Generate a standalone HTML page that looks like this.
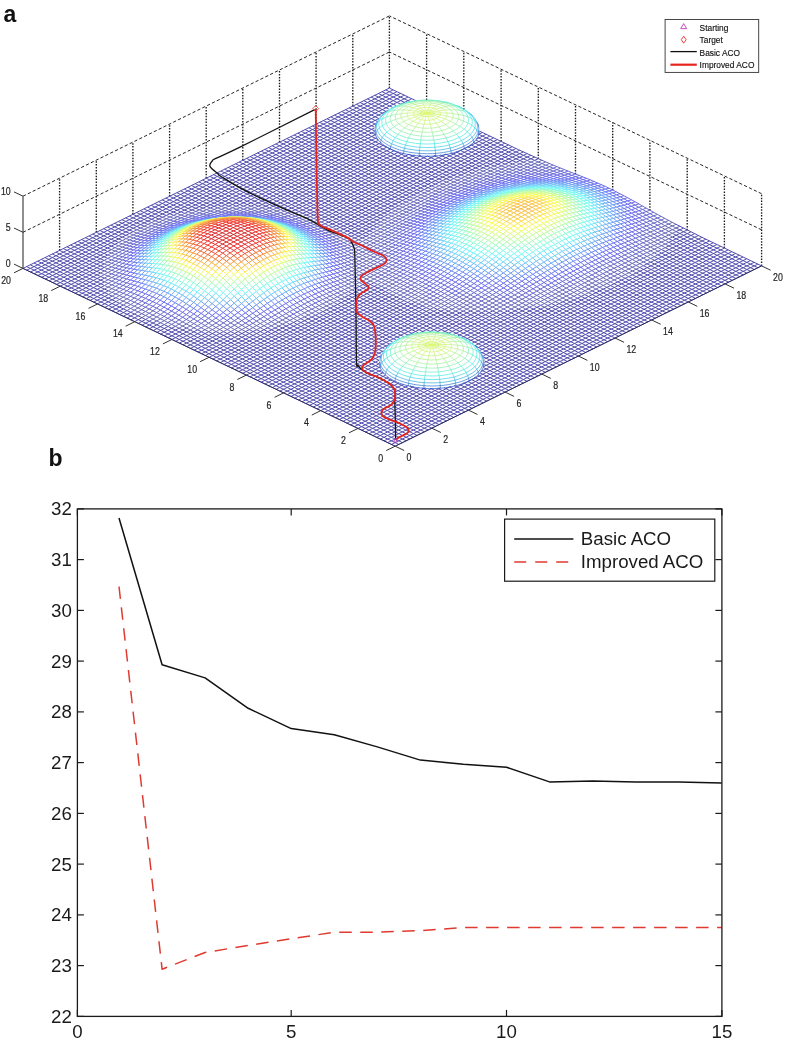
<!DOCTYPE html>
<html><head><meta charset="utf-8"><title>ACO path planning figure</title><style>
html,body{margin:0;padding:0;background:#fff;}
svg{display:block;}
text{font-family:"Liberation Sans",Arial,Helvetica,sans-serif;fill:#1a1a1a;}
.t2{font-size:18.7px;}
.t3{font-size:11px;fill:#222;stroke:#222;stroke-width:0.2px;}
.t4{font-size:9.3px;fill:#111;stroke:#111;stroke-width:0.15px;}
.lab{font-size:23px;font-weight:bold;fill:#111;}
</style></head>
<body><svg width="785" height="1042" viewBox="0 0 785 1042">
<rect width="785" height="1042" fill="#fff"/>
<line x1="59.6" y1="250.4" x2="59.6" y2="178.2" stroke="#1a1a1a" stroke-width="1.35" stroke-dasharray="1.5 1.4"/><line x1="96.3" y1="232.3" x2="96.3" y2="160.1" stroke="#1a1a1a" stroke-width="1.35" stroke-dasharray="1.5 1.4"/><line x1="132.9" y1="214.3" x2="132.9" y2="142.1" stroke="#1a1a1a" stroke-width="1.35" stroke-dasharray="1.5 1.4"/><line x1="169.6" y1="196.3" x2="169.6" y2="124.1" stroke="#1a1a1a" stroke-width="1.35" stroke-dasharray="1.5 1.4"/><line x1="206.2" y1="178.2" x2="206.2" y2="106.0" stroke="#1a1a1a" stroke-width="1.35" stroke-dasharray="1.5 1.4"/><line x1="242.8" y1="160.2" x2="242.8" y2="88.0" stroke="#1a1a1a" stroke-width="1.35" stroke-dasharray="1.5 1.4"/><line x1="279.5" y1="142.2" x2="279.5" y2="70.0" stroke="#1a1a1a" stroke-width="1.35" stroke-dasharray="1.5 1.4"/><line x1="316.1" y1="124.2" x2="316.1" y2="52.0" stroke="#1a1a1a" stroke-width="1.35" stroke-dasharray="1.5 1.4"/><line x1="352.8" y1="106.1" x2="352.8" y2="33.9" stroke="#1a1a1a" stroke-width="1.35" stroke-dasharray="1.5 1.4"/><line x1="389.4" y1="88.1" x2="389.4" y2="15.9" stroke="#1a1a1a" stroke-width="1.35" stroke-dasharray="1.5 1.4"/><line x1="761.6" y1="265.9" x2="761.6" y2="193.7" stroke="#1a1a1a" stroke-width="1.35" stroke-dasharray="1.5 1.4"/><line x1="724.4" y1="248.1" x2="724.4" y2="175.9" stroke="#1a1a1a" stroke-width="1.35" stroke-dasharray="1.5 1.4"/><line x1="687.2" y1="230.3" x2="687.2" y2="158.1" stroke="#1a1a1a" stroke-width="1.35" stroke-dasharray="1.5 1.4"/><line x1="649.9" y1="210.6" x2="649.9" y2="140.4" stroke="#1a1a1a" stroke-width="1.35" stroke-dasharray="1.5 1.4"/><line x1="612.7" y1="190.3" x2="612.7" y2="122.6" stroke="#1a1a1a" stroke-width="1.35" stroke-dasharray="1.5 1.4"/><line x1="575.5" y1="174.3" x2="575.5" y2="104.8" stroke="#1a1a1a" stroke-width="1.35" stroke-dasharray="1.5 1.4"/><line x1="538.3" y1="159.0" x2="538.3" y2="87.0" stroke="#1a1a1a" stroke-width="1.35" stroke-dasharray="1.5 1.4"/><line x1="501.1" y1="141.4" x2="501.1" y2="69.2" stroke="#1a1a1a" stroke-width="1.35" stroke-dasharray="1.5 1.4"/><line x1="463.8" y1="109.4" x2="463.8" y2="51.5" stroke="#1a1a1a" stroke-width="1.35" stroke-dasharray="1.5 1.4"/><line x1="426.6" y1="99.9" x2="426.6" y2="33.7" stroke="#1a1a1a" stroke-width="1.35" stroke-dasharray="1.5 1.4"/><line x1="23.0" y1="232.3" x2="389.4" y2="52.0" stroke="#1a1a1a" stroke-width="0.95" stroke-dasharray="3.2 2.2"/><line x1="761.6" y1="229.8" x2="389.4" y2="52.0" stroke="#1a1a1a" stroke-width="0.95" stroke-dasharray="3.2 2.2"/><line x1="23.0" y1="196.2" x2="389.4" y2="15.9" stroke="#1a1a1a" stroke-width="0.95" stroke-dasharray="3.2 2.2"/><line x1="761.6" y1="193.7" x2="389.4" y2="15.9" stroke="#1a1a1a" stroke-width="0.95" stroke-dasharray="3.2 2.2"/><line x1="23.0" y1="268.4" x2="23.0" y2="196.2" stroke="#333" stroke-width="1.1"/><line x1="23.0" y1="268.4" x2="14.0" y2="264.1" stroke="#333" stroke-width="1.0"/><text transform="translate(10.7,267.0) scale(0.8,1)" class="t3" text-anchor="end">0</text><line x1="23.0" y1="232.3" x2="14.0" y2="228.0" stroke="#333" stroke-width="1.0"/><text transform="translate(10.7,230.9) scale(0.8,1)" class="t3" text-anchor="end">5</text><line x1="23.0" y1="196.2" x2="14.0" y2="191.9" stroke="#333" stroke-width="1.0"/><text transform="translate(10.7,194.8) scale(0.8,1)" class="t3" text-anchor="end">10</text><g fill="none" stroke-linejoin="round"><path d="M395.2 446.2l-203.8-97.4 -61.4-29.5 -107-50.9M398.9 444.4l-202.9-96.9 -62.3-30.1 -52.1-24.6 -54.9-26.2M402.5 442.6l-201.9-96.5 -63.3-30.7 -52.1-24.4 -54.9-26.2M406.2 440.8l-198.2-94.7 -43.7-21.5M119.6 303.3l-33.5-15.5 -52.1-24.8M409.9 439l-193.6-92.5 -19.5-9.5 -17.7-8.8M112.1 296.1l-27-12.3 -47.4-22.6M413.5 437.2l-188.9-90.3 -18.6-9 -15.8-7.9M108.3 290.8l-23.2-10.6 -43.8-20.8M417.2 435.4l-187-89.4 -18.7-9.1 -13.9-7.1M104.5 285.5l-20.4-9.3 -39.1-18.6M420.8 433.6l-182.3-87.2 -16.8-8.1 -13-6.6M104.5 281.8l-19.6-8.8 -36.3-17.2M424.5 431.8l-179.6-85.8 -16.7-8.2 -12.1-6.2M104.4 278.2l-17.7-7.9 -34.4-16.3M428.2 430l-176.8-84.5 -15.8-7.7 -12.1-6.2M100.6 273l-15.8-7.1 -28.8-13.7M431.8 428.2l-174-83.2 -15.8-7.7 -11.1-5.7M104.3 271l-15.8-7 -28.9-13.6M435.5 426.4l-172.1-82.3 -14.9-7.2 -10.3-5.3M104.2 267.4l-14.8-6.5 -26.1-12.3M439.2 424.6l-169.4-81 -13.9-6.7 -10.3-5.3M104.2 263.9l-13-5.7 -24.2-11.4M442.8 422.8l-168.4-80.5 -14.9-7.3 -10.2-5.4M104.1 260.4l-12.1-5.3 -21.4-10.1M446.5 421l-165.6-79.2 -14-6.8 -10.2-5.3M107.8 258.4l-12.1-5.2 -21.4-10M450.2 419.2l-163.8-78.3 -13-6.3 -9.3-4.8M107.7 255l-11.1-4.9 -18.6-8.7M453.8 417.4l-162.8-77.9 -14-6.8 -9.3-4.9M107.7 251.5l-10.3-4.5 -15.8-7.5M457.5 415.5l-160.1-76.4 -13-6.4 -9.3-4.7M111.3 249.6l-10.2-4.4 -15.8-7.5M461.2 413.7l-160.1-76.4 -13-6.4 -9.3-4.8M115 247.7l-10.2-4.4 -15.8-7.4M464.8 411.9l-54.9-26.2M383.9 373.3l-82.9-39.6 -11.1-5.6 -7.5-4M114.9 244.3l-9.3-4.1 -13-6.1M468.5 410.1l-46.5-22.2M380.1 367.9l-72.6-34.7 -17.7-8.9M118.6 242.4l-9.3-4 -13-6.1M472.1 408.3l-41.8-20M379.1 363.9l-67.9-32.5 -10.3-5 -7.4-4M122.3 240.5l-9.3-3.9 -13.1-6.1M475.8 406.5l-38.1-18.2M379 360.3l-65.1-31.2 -9.3-4.6 -7.4-3.9M122.2 237.1l-7.4-3.2 -11.2-5.2M479.5 404.7l-35.4-16.9M379.9 357.2l-62.3-29.9 -9.3-4.6 -7.5-4M125.9 235.3l-7.5-3.2 -11.1-5.2M483.1 402.9l-33.5-16M380.8 354l-59.6-28.5 -9.3-4.6 -7.4-4.1M129.5 233.4l-7.4-3.1 -11.2-5.2M486.8 401.1l-32.6-15.5M382.6 351.3l-54.9-26.2 -15.8-8M133.2 231.6l-7.4-3.1 -11.2-5.2M490.5 399.3l-30.7-14.6M384.4 348.6l-53.1-25.3 -15.8-8M136.9 229.8l-7.5-3.2 -11.1-5.1M494.1 397.5l-30.7-14.6M387.1 346.4l-52.1-24.9 -15.8-8.1M140.5 228l-7.4-3.2 -11.2-5.1M497.8 395.7l-29.8-14.2M389.9 344.2l-51.2-24.5 -15.8-8.1M144.2 226.1l-7.4-3.1 -11.2-5.1M501.5 393.9l-29.8-14.2M392.6 341.9l-51.2-24.5 -14.9-7.6M147.9 224.4l-7.5-3.2 -11.1-5.1M505.1 392.1l-30.7-14.7M396.3 340.1l-51.2-24.5 -14.9-7.6M151.5 222.6l-7.4-3.2 -11.2-5.1M508.8 390.3l-30.7-14.7M399.9 338.3l-51.2-24.5 -14.9-7.5M155.2 220.8l-7.5-3.2 -11.1-5.1M512.4 388.5l-32.5-15.6M403.6 336.5l-54-25.9 -9.3-4.6 -6.5-3.6M158.9 219l-7.5-3.1 -11.2-5.2M516.1 386.7l-34.4-16.4M408.2 335.1l-54.9-26.3 -9.3-4.6 -6.5-3.5M162.5 217.3l-7.4-3.2 -11.2-5.2M519.8 384.9l-36.3-17.3M412.8 333.8l-55.9-26.8 -15.8-8.1M166.2 215.5l-7.5-3.2 -11.1-5.2M523.4 383.1l-39-18.7M418.3 332.8l-57.7-27.6 -15.8-8M173.6 215.3l-9.3-4 -13.1-6M527.1 381.3l-42.8-20.5M424.7 332.4l-61.4-29.5 -14.9-7.5M177.2 213.6l-9.3-4 -13-6.1M530.8 379.5l-47.5-22.7M431.2 331.9l-67-32.2 -15.8-8M180.9 211.9l-9.3-4.1 -13-6.1M534.4 377.7l-53.9-25.8M439.5 332.3l-72.6-34.9 -14.8-7.5M188.3 211.7l-10.2-4.4 -15.9-7.4M538.1 375.9l-63.3-30.2M450.6 334.1l-80.9-39 -14-6.9M191.9 210l-10.3-4.5 -15.8-7.4M541.8 374.1l-89.4-42.7 -81.9-39.5 -11.1-5.5M199.3 209.8l-11.1-4.8 -18.6-8.7M545.4 372.3l-82.8-39.6 -99.6-48.1M203 208.2l-11.2-4.9 -18.6-8.8M549.1 370.5l-79.1-37.9 -63.3-30.7 -40-19.1M210.4 208l-12.1-5.2 -21.4-10.1M552.8 368.7l-81-38.8 -53-25.9M217.8 207.9l-14-6 -23.2-11M556.4 366.9l-78.1-37.4 -44.7-21.9M221.4 206.3l-13-5.8 -24.2-11.4M560.1 365.1l-75.4-36.1 -40-19.7M228.8 206.2l-14.9-6.6 -26-12.3M563.7 363.3l-71.6-34.3 -36.3-17.9M236.2 206.2l-15.8-7.1 -28.9-13.6M567.4 361.5l-69.8-33.5 -34.4-16.9M243.6 206.2l-16.8-7.5 -31.6-15M571.1 359.7l-68-32.6 -32.5-16.1M251 206.2l-17.7-8 -34.4-16.3M574.7 357.9l-65.1-31.2 -31.6-15.7M258.4 206.2l-19.6-8.9 -36.3-17.2M578.4 356l-63.3-30.3 -29.7-14.8M269.5 207.9l-22.4-10.2 -40.9-19.5M582.1 354.2l-60.5-28.9 -28.9-14.4M280.6 209.6l-25.1-11.5 -45.6-21.7M585.7 352.4l-58.6-28 -27-13.5M291.7 211.4l-28.9-13.3 -49.3-23.5M589.4 350.6l-55.8-26.7 -26.1-12.9M358.6 239.8l-11.1-5.3M310.2 216.7l-39-18.1 -54-25.8M593.1 348.8l-55.9-26.7 -26-13.1M362.3 238l-86.5-40.8 -54.9-26.2M596.7 347l-53.9-25.8 -24.2-12.1M366 236.2l-14.9-6.8 -62.4-29.5 -64.2-30.7M600.4 345.2l-51.2-24.5 -23.3-11.6M369.6 234.4l-25.1-11.6 -116.3-55.4M604 343.4l-51.1-24.5 -23.3-11.7M373.3 232.5l-12.1-5.4 -16.8-7.8 -112.6-53.7M607.7 341.6l-48.4-23.2 -22.3-11.1M373.2 229l-28.8-13.2 -108.9-52M611.4 339.8l-48.4-23.2 -22.3-11.2M376.9 227.2l-13-5.8 -16.8-7.9 -107.9-51.5M615 338l-45.6-21.8 -21.4-10.7M376.8 223.7l-12.1-5.5 -16.7-7.8 -105.2-50.2M618.7 336.2l-45.6-21.9 -21.4-10.7M380.5 221.8l-12.1-5.4 -16.7-7.8 -105.2-50.2M622.4 334.4l-45.6-21.9 -21.4-10.8M384.2 219.9l-12.1-5.3 -16.8-7.8 -105.1-50.2M626 332.6l-42.8-20.5 -20.4-10.3M384.1 216.5l-12.1-5.4 -15.8-7.4 -102.4-48.9M629.7 330.8l-42.8-20.5 -20.5-10.3M387.8 214.6l-12.1-5.3 -15.8-7.4 -102.4-48.9M633.4 329l-42.8-20.5 -20.5-10.4M391.4 212.8l-12.1-5.4 -15.8-7.3 -102.3-48.9M637 327.2l-40-19.2 -19.5-9.8M391.4 209.3l-11.2-5 -15.8-7.4 -99.6-47.5M640.7 325.4l-40-19.2 -19.6-9.8M395 207.5l-11.1-5 -15.8-7.4 -99.6-47.5M644.4 323.6l-40.1-19.2 -19.5-9.8M398.7 205.7l-11.2-5 -15.8-7.4 -99.5-47.5M648 321.8l-40-19.2 -19.5-9.9M402.4 203.8l-11.2-4.9 -15.8-7.4 -99.6-47.5M651.7 320l-40-19.2 -19.6-9.9M406 202l-11.1-4.9 -15.9-7.4 -99.5-47.5M655.3 318.2l-40-19.2 -19.5-10M409.7 200.1l-11.2-4.8 -15.8-7.4 -99.6-47.5M659 316.4l-37.2-17.9 -18.6-9.3M409.6 196.7l-26-11.9 -96.8-46.2M662.7 314.6l-37.2-17.9 -18.7-9.3M413.3 194.9l-11.2-5 -14.9-6.9 -96.7-46.2M666.3 312.8l-37.2-17.9 -18.6-9.3M417 193.1l-11.2-5 -14.9-6.9 -96.8-46.2M670 311l-37.2-17.9 -18.6-9.3M420.6 191.3l-11.1-5 -14.9-6.9 -96.8-46.2M673.7 309.2l-37.3-17.9 -18.6-9.4M424.3 189.5l-11.2-5 -14.9-6.9 -96.7-46.2M677.3 307.4l-37.2-17.9 -18.6-9.4M428 187.7l-11.2-5 -14.9-6.9 -96.8-46.2M681 305.6l-37.2-17.9 -18.6-9.4M431.6 185.9l-11.1-5 -14.9-6.9 -96.8-46.2M684.7 303.8l-37.3-17.9 -18.6-9.3M435.3 184.1l-11.2-5 -14.9-6.9 -96.7-46.2M688.3 302l-37.2-17.9 -18.6-9.3M438.9 182.3l-11.1-5 -14.9-6.9 -96.8-46.2M692 300.2l-37.2-17.9 -18.6-9.3M442.6 180.5l-26-11.9 -96.8-46.2M695.6 298.4l-40-19.3 -19.5-9.9M450 180.3l-11.2-4.9 -15.8-7.3 -99.6-47.5M699.3 296.6l-40-19.3 -19.5-9.8M453.7 178.6l-11.2-5 -15.8-7.3 -99.6-47.5M703 294.7l-40-19.2 -19.6-9.8M457.3 176.8l-16.7-7.5 -31.7-15M378.2 139.6l-47.4-22.7M706.6 292.9l-40-19.2 -19.5-9.8M461 175l-15.8-7.1 -26.1-12.3M375.4 134.7l-41-19.6M710.3 291.1l-40-19.2 -19.5-9.7M464.7 173.3l-14.9-6.8 -22.4-10.5M374.4 130.7l-36.3-17.4M714 289.3l-42.8-20.5 -20.5-10.4M472 173.1l-14.8-6.6 -23.3-11M374.3 127.1l-32.5-15.6M717.6 287.5l-42.8-20.5 -20.4-10.3M475.7 171.3l-14-6.2 -21.4-10M375.2 124l-29.8-14.3M721.3 285.7l-42.8-20.5 -20.5-10.3M479.4 169.6l-14-6.3 -19.5-9.2M377 121.3l-27.9-13.4M725 283.9l-42.8-20.5 -20.5-10.2M483 167.8l-13-5.8 -18.6-8.8M378.8 118.6l-26-12.5M728.6 282.1l-45.6-21.8 -21.4-10.8M490.4 167.7l-13.9-6.2 -20.5-9.6M380.6 115.9l-24.2-11.6M732.3 280.3l-45.6-21.8 -21.4-10.8M494.1 166l-14-6.3 -19.5-9.2M383.4 113.6l-23.3-11.1M736 278.5l-48.4-23.2 -22.4-11.2M501.5 165.8l-14.9-6.6 -22.4-10.5M386.1 111.4l-22.3-10.7M739.6 276.7l-48.4-23.2 -22.3-11.2M505.1 164.1l-14.9-6.7 -22.3-10.5M388.8 109.1l-21.4-10.2M743.3 274.9l-51.2-24.5 -23.3-11.7M512.5 164l-16.7-7.5 -25.2-11.8M392.5 107.3l-21.4-10.2M746.9 273.1l-51.1-24.5 -23.3-11.6M516.2 162.3l-16.8-7.6 -26-12.3M396.1 105.5l-21.4-10.2M750.6 271.3l-53-25.4 -25.2-12.6M523.6 162.2l-18.6-8.4 -28.9-13.6M400.7 104.2l-22.3-10.7M754.3 269.5l-54-25.9 -24.2-12M527.2 160.5l-18.6-8.5 -30.7-14.5M405.3 102.8l-23.2-11.1M757.9 267.7l-55.8-26.7 -26-13M534.6 160.4l-20.5-9.3 -35.3-16.8M409.9 101.5l-24.2-11.6M761.6 265.9l-58.6-28.1 -27-13.5M542 160.3l-23.3-10.5 -39-18.6M415.5 100.5l-26.1-12.4M395.2 446.2l366.4-180.3M391.5 444.4l366.4-180.3M387.8 442.6l366.4-180.3M384 440.9l366.4-180.3M380.3 439.1l366.4-180.3M376.6 437.3l366.4-180.3M372.9 435.5l366.4-180.3M369.1 433.8l366.4-180.3M365.4 432l366.4-180.3M361.7 430.2l88.9-43.7M480.8 371.6l247.3-121.7M358 428.4l82.4-40.5M483.5 366.7l240.9-118.6M354.3 426.6l77.8-38.3M484.3 362.6l236.4-116.3M350.5 424.9l75.1-37M484.3 359.1l144.7-71.5 87.9-43.1M346.8 423.1l72.4-35.6M483.3 355.9l142-70.1 87.9-43M343.1 421.3l70.5-34.7M481.4 353.2l140.2-69.3 87.9-42.9M339.4 419.5l68.7-33.8M479.5 350.6l57.7-28.5 80.6-40.2 88-42.7M335.6 417.8l67.8-33.4M477.6 347.9l55.9-27.6 51.3-25.7M643.4 265.7l58.6-28.3M331.9 416l66.9-32.9M474.8 345.7l50.4-25 41.2-20.7M658 254.9l40.3-19.4M328.2 414.2l66.9-32.9M472 343.4l44.9-22.2 34.8-17.6M665.3 247.7l29.3-14M324.5 412.4l66.8-32.9M469.2 341.2l40.3-20 31.2-15.8M668.9 242.3l22-10.4M320.8 410.6l67.7-33.3M465.5 339.4l36.6-18.2 27.5-14M672.5 237l14.7-7M317 408.9l68.7-33.8M461.8 337.6l32-15.9 24.8-12.6M676.1 231.6l7.3-3.4M313.3 407.1l69.6-34.3M458 335.8l28.4-14.1 21.1-10.7M676.1 228l3.6-1.7M309.6 405.3l71.4-35.2M453.4 334.5l26.6-13.2 20.1-10.4M305.9 403.5l74.2-36.5M447.9 333.6l25.6-12.8 19.2-9.9M302.1 401.7l76.9-37.8M442.3 332.7l24.7-12.3 18.4-9.5M298.4 400l80.6-39.7M436.7 331.9l23.9-11.9 17.4-9M294.7 398.2l86.1-42.4M429.4 331.9l23.8-11.9 17.4-9M291 396.4l92.5-45.5M420.1 332.8l24.8-12.3 18.3-9.4M287.3 394.6l104.4-51.4M406.3 336l30.3-15 19.2-9.9M283.5 392.9l129.2-63.6 35.7-18.1M279.8 391.1l129.2-63.6 20.1-10.1 15.6-8.1M276.1 389.3l126.4-62.2 20.2-10.1 14.6-7.6M272.4 387.5l126.4-62.2 20.1-10.1 14.7-7.6M268.7 385.7l123.6-60.8 33.9-17.2M264.9 384l123.7-60.9 19.2-9.7 14.7-7.5M261.2 382.2l123.7-60.9 19.2-9.6 14.7-7.7M257.5 380.4l123.6-60.9 19.3-9.6 14.6-7.7M253.8 378.6l120.9-59.5 33-16.7M250 376.9l121-59.6 19.2-9.6 13.7-7.1M246.3 375.1l120.9-59.6 19.3-9.6 13.7-7.1M242.6 373.3l120.9-59.5 19.2-9.7 13.8-7.1M238.9 371.5l121.8-60 18.3-9.2 13.8-7.1M235.2 369.7l123.6-60.9 30.2-15.3M231.4 368l126.4-62.4 27.5-13.9M227.7 366.2l131.9-65.1 25.7-13.1M224 364.4l136.5-67.4 21-10.8M220.3 362.6l48.5-23.9 50.4-25.3 42.1-20.5 16.5-8.4M216.5 360.9l45.8-22.7 34.9-17.6M344.8 297.2l16.5-8 12.8-6.5M212.8 359.1l40.3-19.9 25.7-13.1M355.7 288.2l14.7-7.3M209.1 357.3l36.6-18.1 22-11.4M205.4 355.5l32-15.9 19.3-9.9M201.7 353.7l29.3-14.5 18.3-9.6M197.9 352l24.8-12.3 15.5-8.1M194.2 350.2l22-11 14.7-7.6M190.5 348.4l20.1-10.1 12.9-6.7M186.8 346.6l17.4-8.7 11.9-6.3M183 344.8l15.6-7.8 10.1-5.3M179.3 343.1l12.8-6.5 9.2-4.8M175.6 341.3l12.8-6.5 9.2-5M171.9 339.5l18.3-9.5M534.6 160.4l3.7-1.7M168.2 337.7l10-5.2 8.3-4.5M527.2 160.5l7.4-3.5M164.4 335.9l14.7-7.7M358.6 239.8l11-5.4M516.2 162.3l14.6-7M160.7 334.1l14.7-7.8M354.9 238l18.3-9M505.1 164.1l22-10.5M157 332.3l11-5.8M351.2 236.3l11-5.3 18.3-9.2M494.1 166l29.3-14.1M153.3 330.5l11-5.9M347.5 234.5l13.7-6.5 26.6-13.4M479.4 169.6l40.3-19.4M149.5 328.7l11-5.9M343.7 232.7l15.6-7.3 39.4-19.7M457.3 176.8l58.6-28.3M145.8 326.9l11-6M340 230.9l15.6-7.2 72.4-36 84.2-41M142.1 325.1l7.3-3.9M336.3 229.1l7.3-3.3 10.1-4.8 70.5-34.9 84.3-41.2M138.4 323.3l7.3-3.9M332.6 227.3l7.3-3.2 11-5.3 70.5-34.8 83.4-40.8M134.7 321.6l7.3-4M328.9 225.5l8.2-3.6 11-5.3 153-75.2M130.9 319.8l7.4-4M325.1 223.7l8.3-3.6 11.9-5.7 152-74.8M127.2 318l7.3-4M321.4 221.9l8.3-3.6 12.8-6.1 151.1-74.3M123.5 316.2l7.3-3.9M317.7 220.2l8.2-3.6 12.9-6.2 151.1-74.3M119.8 314.5l7.3-4M314 218.4l8.2-3.6 11.9-5.7 111.8-55M476.1 139.3l10.1-5M116.1 312.7l7.4-3.9M310.2 216.7l8.3-3.7 11.9-5.7 105.3-51.8M478.8 134.3l3.6-1.8M112.3 310.9l11-5.9M306.5 215l8.3-3.7 11-5.3 101.6-50M108.6 309.2l11-5.9M302.8 213.3l8.2-3.8 11-5.3 99-48.6M104.9 307.4l11-5.8M295.4 213.1l8.3-3.6 11.9-5.7 98.9-48.6M101.2 305.6l14.6-7.8M291.7 211.4l8.2-3.7 11.9-5.7 97.1-47.7M97.4 303.9l14.7-7.8M288 209.7l8.2-3.7 11.9-5.7 95.3-46.9M93.7 302.1l14.7-7.6M280.6 209.6l9.1-4.1 12-5.7 97-47.7M90 300.4l10.1-5.2 8.2-4.4M276.9 208l8.2-3.8 11.9-5.7 97.1-47.7M86.3 298.6l18.3-9.5M269.5 207.9l9.1-4.1 11.9-5.7 99.9-49.1M82.6 296.8l12.8-6.4 9.1-4.9M262.1 207.8l9.1-4 12.9-6.2 102.6-50.4M78.8 295.1l14.7-7.4 11-5.9M258.4 206.2l9.1-4.2 12.9-6.1 103.5-50.9M75.1 293.3l17.4-8.8 11.9-6.3M251 206.2l10.1-4.6 12.8-6.1 107.2-52.8M71.4 291.5l17.4-8.7 11.9-6.2M243.6 206.2l10.1-4.6 13.7-6.6 110.8-54.5M67.7 289.7l20.1-10 12.8-6.7M236.2 206.2l11-5 13.7-6.6 115.5-56.8M63.9 288l24.8-12.4 15.5-8.2M228.8 206.2l11-5 15.6-7.5 120-59M60.2 286.2l27.5-13.7 16.5-8.6M221.4 206.3l11.9-5.5 15.6-7.5 125.5-61.7M56.5 284.4l29.3-14.5 18.3-9.5M210.4 208l13.7-6.3 16.5-7.9 133.8-65.8M52.8 282.6l33.9-16.8 21-10.8M199.3 209.8l14.7-6.7 18.3-8.9 143.8-70.7M49.1 280.8l38.4-19 23.8-12.2M188.3 211.7l17.4-8.1 19.2-9.3 153.9-75.7M414.5 101l1-0.5M45.3 279.1l44-21.8 29.3-14.9M177.2 213.6l41.3-19.7 169.4-83.4M399.8 104.6l11.9-5.8M41.6 277.3l48.6-24 43-21.7M155.2 220.8l55-26.5 197.8-97.3M37.9 275.5l48.5-23.9 53.2-26.5 65-31.6 199.7-98.3M34.2 273.7l101.6-50.2 64.2-31.4 200.6-98.7M30.4 272l366.4-180.3M26.7 270.2l366.4-180.3M23 268.4l366.4-180.3" stroke="#5450b0" stroke-width="1.0"/><path d="M164.3 324.6l-22.4-10.9 -22.3-10.4M179.1 328.2l-22.3-11.3M134.4 306.2l-22.3-10.1M190.2 330l-14.9-7.8M123.2 297.2l-14.9-6.4M197.6 329.8l-11.2-5.9M115.7 290.2l-11.2-4.7M208.7 331.7l-11.2-6M111.9 284.9l-7.4-3.1M216.1 331.6l-7.5-4M111.9 281.2l-7.5-3M223.5 331.6l-7.5-4.1M111.8 277.5l-11.2-4.5M230.9 331.6l-7.5-4.2M111.7 273.9l-7.4-2.9M238.2 331.6l-7.4-4.2M111.7 270.3l-7.5-2.9M245.6 331.6l-7.4-4.1M111.6 266.8l-7.4-2.9M249.3 329.6l-3.7-2.1M111.6 263.3l-7.5-2.9M256.7 329.7l-7.5-4.3M111.5 259.9l-3.7-1.5M264.1 329.8l-7.5-4.2M115.2 257.8l-7.5-2.8M267.7 327.8l-7.4-4.3M115.1 254.4l-7.4-2.9M275.1 328l-7.4-4.3M118.8 252.4l-7.5-2.8M278.8 326.1l-7.5-4.4M118.7 249.1l-3.7-1.4M282.4 324.1l-3.7-2.1M122.4 247.1l-7.5-2.8M289.8 324.3l-7.4-4.3M122.3 243.8l-3.7-1.4M293.5 322.4l-7.5-4.3M126 241.9l-3.7-1.4M297.2 320.6l-3.8-2.2M129.7 239.9l-7.5-2.8M300.8 318.7l-3.7-2.2M133.3 238l-7.4-2.7M304.5 316.8l-3.7-2.2M133.3 234.9l-3.8-1.5M311.9 317.1l-7.5-4.4M136.9 233l-3.7-1.4M315.5 315.3l-7.4-4.4M140.6 231.1l-3.7-1.3M319.2 313.4l-7.4-4.3M144.3 229.3l-3.8-1.3M322.9 311.6l-7.5-4.3M147.9 227.5l-3.7-1.4M326.5 309.8l-7.4-4.3M151.6 225.7l-3.7-1.3M330.2 308l-7.5-4.3M155.3 224l-3.8-1.4M333.9 306.3l-7.4-4.4M158.9 222.2l-3.7-1.4M333.8 302.4l-3.7-2.2M166.3 221.7l-7.4-2.7M337.5 300.7l-3.8-2.2M170 220l-7.5-2.7M341.1 298.9l-3.7-2.1M173.6 218.4l-7.4-2.9M344.8 297.2l-7.5-4.4M177.3 216.7l-3.7-1.4M348.4 295.4l-7.4-4.2M184.7 216.3l-7.5-2.7M348.4 291.7l-3.7-2.2M188.3 214.7l-7.4-2.8M352.1 289.9l-7.5-4.2M192 213.1l-3.7-1.4M355.7 288.2l-7.4-4.2M199.4 212.8l-7.4-2.8M359.4 286.4l-11.2-6.2M203.1 211.3l-3.8-1.5M363 284.6l-11.1-6M210.4 211.1l-7.4-2.9M366.7 282.8l-8.4-4.3 -6.5-3.6M217.8 210.9l-7.4-2.9M418.8 304l-49.4-23.5 -13.9-7.2M221.5 209.4l-3.7-1.5M433.6 307.6l-27.9-13.7 -36.3-17.1 -14-7.2M228.9 209.3l-7.5-3M444.7 309.3l-34.4-16.9 -41-19.3 -13.9-7.1M236.3 209.2l-7.5-3M455.8 311.1l-26-13.1M392.5 280.2l-20.4-9.4 -13.1-6.5M243.7 209.2l-7.5-3M463.2 311.1l-18.6-9.5M385 273.1l-14.9-6.8 -11.1-5.5M251 209.2l-7.4-3M470.6 311l-14.9-7.6M381.2 267.7l-13.9-6.4 -12.1-6M262.1 210.8l-11.1-4.6M478 311l-14.9-7.7M377.5 262.4l-11.2-5.1 -11.2-5.5M269.5 210.9l-11.1-4.7M485.3 310.9l-11.2-5.8M377.4 258.8l-14.9-6.8 -14.9-7.4M280.6 212.7l-11.1-4.8M492.7 310.9l-11.1-5.8M377.4 255.2l-16.8-7.6 -20.5-10.1M295.5 216.2l-14.9-6.6M500.1 310.9l-11.1-5.8M377.3 251.7l-16.8-7.6 -40.9-19.9 -27.9-12.8M507.5 311l-11.2-5.9M377.2 248.1l-18.6-8.3M347.5 234.5l-37.3-17.8M511.2 309l-11.2-5.9M377.2 244.6l-14.9-6.6M518.6 309.1l-11.2-6M380.8 242.6l-14.8-6.4M525.9 309.1l-11.1-5.9M380.8 239.2l-11.2-4.8M529.6 307.2l-11.2-6M380.7 235.7l-7.4-3.2M537 307.3l-11.2-6M384.4 233.7l-11.2-4.7M540.7 305.4l-7.5-4M384.3 230.3l-7.4-3.1M548 305.5l-11.1-6M388 228.3l-11.2-4.6M551.7 303.6l-11.2-6.1M391.7 226.4l-11.2-4.6M555.4 301.7l-7.5-4M391.6 223l-7.4-3.1M562.8 301.8l-11.2-6M395.3 221.1l-11.2-4.6M566.4 300l-7.4-4.1M395.2 217.7l-7.4-3.1M570.1 298.1l-7.5-4.1M398.9 215.8l-7.5-3M577.5 298.2l-11.2-6M402.5 213.9l-11.1-4.6M581.1 296.4l-11.1-6.1M406.2 212l-11.2-4.5M584.8 294.6l-7.4-4.1M406.1 208.7l-7.4-3M588.5 292.7l-7.5-4.1M409.8 206.8l-7.4-3M592.1 290.9l-7.4-4.1M413.5 205l-7.5-3M595.8 289l-7.5-4.1M417.1 203.1l-7.4-3M603.2 289.2l-11.2-6.1M420.8 201.3l-11.2-4.6M606.8 287.4l-11.1-6.2M424.5 199.4l-11.2-4.5M610.5 285.6l-11.2-6.2M428.1 197.6l-11.1-4.5M614.2 283.8l-7.5-4.1M428.1 194.4l-7.5-3.1M617.8 281.9l-7.4-4M431.7 192.6l-7.4-3.1M621.5 280.1l-7.4-4M435.4 190.8l-7.4-3.1M625.2 278.3l-11.2-6.1M442.8 190.4l-11.2-4.5M628.8 276.6l-11.1-6.2M446.4 188.6l-11.1-4.5M632.5 274.8l-11.2-6.2M450.1 186.8l-11.2-4.5M636.2 273l-11.2-6.1M453.8 185.1l-11.2-4.6M636.1 269.2l-7.4-4.1M457.4 183.3l-7.4-3M639.8 267.5l-7.5-4.1M461.1 181.6l-7.4-3M643.4 265.7l-7.4-4.1M464.8 179.8l-7.5-3M647.1 263.9l-7.5-4M468.4 178.1l-7.4-3.1M650.8 262.2l-11.2-6.2M475.8 177.8l-11.1-4.5M650.7 258.4l-7.4-4.1M479.5 176.1l-7.5-3M654.4 256.7l-7.5-4.1M483.1 174.4l-7.4-3.1M658 254.9l-11.1-6.1M490.5 174.1l-11.1-4.5M661.7 253.2l-11.2-6.1M494.2 172.5l-11.2-4.7M661.6 249.5l-7.4-4M497.9 170.8l-7.5-3.1M665.3 247.7l-11.2-6M505.2 170.6l-11.1-4.6M665.2 244.1l-7.4-4.1M508.9 168.9l-7.4-3.1M668.9 242.3l-11.2-6M516.3 168.7l-11.2-4.6M668.8 238.7l-7.4-4M520 167.1l-7.5-3.1M672.5 237l-11.2-6M527.3 167l-11.1-4.7M672.4 233.3l-11.1-6M534.7 166.8l-11.1-4.6M676.1 231.6l-11.2-5.9M538.4 165.2l-11.2-4.7M676.1 228l-11.2-6M545.8 165.2l-11.2-4.8M676 224.3l-11.2-5.9M553.2 165.1l-11.2-4.8M584.8 294.6l29.3-14.6 29.3-14.3M566.4 300l45.8-23 45.8-22.1M551.7 303.6l33-16.8M632.3 263.4l33-15.7M540.7 305.4l21.9-11.4M643.3 254.3l25.6-12M529.6 307.2l18.3-9.5M650.5 247.1l22-10.1M518.6 309.1l18.3-9.6M657.8 240l18.3-8.4M507.5 311l18.3-9.7M661.4 234.7l14.7-6.7M500.1 310.9l14.7-7.7M661.3 231l14.7-6.7M492.7 310.9l14.7-7.8M664.9 225.7l7.4-3.3M485.3 310.9l14.6-7.8M664.9 222l3.7-1.6M478 311l11-5.9M470.6 311l11-5.9M463.2 311.1l11-6M455.8 311.1l14.7-7.9M448.4 311.2l14.7-7.9M444.7 309.3l11-5.9M437.3 309.4l14.7-8M433.6 307.6l11-6M426.2 307.7l14.7-8M422.5 305.9l11-6M418.8 304l11-6M415 302.2l11-6M407.7 302.4l10.9-6M403.9 300.6l11-6M400.2 298.8l11-6M396.5 297l11-6M392.8 295.2l11-6M389 293.5l11-6M385.3 291.7l11-6M385.3 288l11-6.1M381.5 286.2l11-6M377.8 284.5l11-6M297.2 320.6l21.9-11.1 25.7-12.3M374.1 282.7l11-5.9M278.8 326.1l22-11.5M326.4 301.9l29.3-13.7M370.4 280.9l14.6-7.8M267.7 327.8l14.7-7.8M341 291.2l22-10.3 18.3-9.5M256.7 329.7l11-6M348.3 284l16.5-7.7 16.4-8.6M249.3 329.6l7.3-4M351.9 278.6l12.8-5.9 12.8-6.6M238.2 331.6l11-6.2M355.5 273.3l11-5.2 11-5.7M230.9 331.6l7.3-4.1M355.4 269.6l11-5.1 11-5.7M223.5 331.6l7.3-4.2M359 264.3l9.2-4.3 9.2-4.8M216.1 331.6l7.3-4.2M359 260.8l8.2-3.9 10.1-5.2M208.7 331.7l7.3-4.2M355.3 258.8l10-4.6 11.9-6.1M545.8 165.2l3.6-1.7M201.3 331.8l7.3-4.2M355.2 255.3l11-5.1 14.6-7.6M538.4 165.2l7.3-3.3M197.6 329.8l7.3-4.3M355.1 251.8l11-5.1 14.7-7.5M527.3 167l14.7-6.7M190.2 330l7.3-4.3M351.4 249.9l6.4-2.8 7.4-3.4 19.2-10M520 167.1l14.6-6.7M186.5 328l3.6-2.1M351.4 246.5l6.4-2.8 8.2-4 22-11.4M508.9 168.9l18.3-8.4M179.1 328.2l7.3-4.3M347.6 244.6l11-4.8M369.6 234.4l22-11.4M494.2 172.5l22-10.2M175.4 326.3l3.6-2.1M343.9 242.7l11-4.7M373.2 229l25.7-13.2M479.5 176.1l25.6-12M168 326.5l7.3-4.3M343.9 239.4l7.3-3.1M380.5 221.8l33-16.8M461.1 181.6l33-15.6M164.3 324.6l7.3-4.3M340.1 237.5l7.4-3M387.8 214.6l45.8-22.9 45.8-22.1M160.5 322.8l3.7-2.2M336.4 235.6l7.3-2.9M398.7 205.7l29.3-14.6 29.3-14.3M156.8 320.9l3.7-2.1M332.7 233.7l7.3-2.8M149.4 321.2l7.4-4.3M332.6 230.5l3.7-1.4M145.7 319.4l7.3-4.4M328.9 228.7l3.7-1.4M142 317.6l7.3-4.4M325.2 226.9l3.7-1.4M138.3 315.8l7.3-4.4M321.5 225.1l3.6-1.4M134.5 314l7.4-4.4M317.7 223.3l3.7-1.4M130.8 312.3l7.3-4.4M314 221.6l3.7-1.4M127.1 310.5l7.3-4.3M310.3 219.9l3.7-1.5M123.4 308.8l7.3-4.3M302.9 219.5l7.3-2.8M123.3 305l3.7-2.2M299.2 217.8l7.3-2.8M119.6 303.3l7.3-4.5M295.5 216.2l7.3-2.9M115.9 301.6l7.3-4.4M291.7 214.5l3.7-1.4M115.8 297.8l3.7-2.2M284.4 214.3l7.3-2.9M112.1 296.1l7.3-4.3M280.6 212.7l7.4-3M108.4 294.5l7.3-4.3M273.3 212.5l7.3-2.9M108.3 290.8l7.3-4.4M269.5 210.9l7.4-2.9M104.6 289.1l7.3-4.2M262.1 210.8l7.4-2.9M104.5 285.5l7.4-4.3M258.4 209.3l3.7-1.5M104.5 281.8l7.3-4.3M251 209.2l7.4-3M104.4 278.2l7.3-4.3M243.7 209.2l7.3-3M100.7 276.6l11-6.3M236.3 209.2l7.3-3M100.6 273l11-6.2M228.9 209.3l7.3-3.1M104.2 267.4l7.4-4.1M217.8 210.9l11-4.7M104.2 263.9l7.3-4M210.4 211.1l11-4.8M104.1 260.4l11-6M199.4 212.8l11-4.8M107.7 255l14.7-7.9M188.3 214.7l11-4.9M111.3 249.6l18.4-9.7M173.6 218.4l14.7-6.7M118.6 242.4l29.3-14.9 29.3-13.9M133.2 231.6l22-10.8" stroke="#6c6cbb" stroke-width="1.0"/><path d="M156.8 316.9l-22.4-10.7M175.3 322.2l-14.9-7.7M138.1 303.8l-14.9-6.6M186.4 323.9l-7.4-4M126.9 294.8l-11.2-4.6M197.5 325.7l-7.4-4.2M119.4 287.9l-7.5-3M208.6 327.6l-7.4-4.2M119.3 284.1l-7.4-2.9M216 327.5l-7.4-4.3M115.5 278.9l-3.7-1.4M223.4 327.4l-7.4-4.4M115.5 275.3l-3.8-1.4M230.8 327.4l-3.7-2.2M115.4 271.6l-3.7-1.3M238.2 327.5l-7.5-4.6M115.4 268.1l-3.8-1.3M245.6 327.5l-7.5-4.5M115.3 264.6l-3.7-1.3M249.2 325.4l-3.7-2.3M115.2 261.2l-3.7-1.3M256.6 325.6l-3.7-2.3M118.9 259l-3.7-1.2M260.3 323.5l-3.7-2.4M118.8 255.7l-3.7-1.3M267.7 323.7l-3.8-2.3M122.5 253.5l-3.7-1.1M271.3 321.7l-3.7-2.4M122.4 250.3l-3.7-1.2M278.7 322l-3.7-2.3M126.1 248.2l-3.7-1.1M282.4 320l-3.7-2.4M126.1 245.1l-3.8-1.3M286 318.1l-3.7-2.5M129.7 243.1l-3.7-1.2M293.4 318.4l-3.7-2.3M133.4 241.1l-3.7-1.2M297.1 316.5l-3.7-2.4M137 239.1l-3.7-1.1M300.8 314.6l-3.8-2.4M137 236.1l-3.7-1.2M304.4 312.7l-3.7-2.4M140.7 234.2l-3.8-1.2M308.1 310.9l-3.7-2.5M144.3 232.4l-3.7-1.3M311.8 309.1l-3.8-2.5M148 230.5l-3.7-1.2M315.4 307.3l-3.7-2.5M151.6 228.7l-3.7-1.2M319.1 305.5l-3.7-2.5M155.3 226.9l-3.7-1.2M322.7 303.7l-3.7-2.5M159 225.2l-3.7-1.2M326.4 301.9l-3.7-2.4M162.6 223.4l-3.7-1.2M330.1 300.2l-3.8-2.4M170 222.8l-3.7-1.1M333.7 298.5l-3.7-2.3M173.7 221.1l-3.7-1.1M337.4 296.8l-3.7-2.3M177.4 219.5l-3.8-1.1M337.3 292.8l-3.7-2.4M181 217.9l-3.7-1.2M341 291.2l-3.7-2.4M188.4 217.4l-3.7-1.1M344.7 289.5l-3.8-2.2M192.1 215.9l-3.8-1.2M344.6 285.7l-3.7-2.4M195.7 214.4l-3.7-1.3M348.3 284l-3.7-2.2M203.1 214l-3.7-1.2M348.2 280.2l-3.7-2.3M206.8 212.6l-3.7-1.3M351.9 278.6l-3.7-2.2M214.2 212.3l-3.8-1.2M351.8 274.9l-3.7-2.2M221.6 212.1l-3.8-1.2M355.5 273.3l-7.5-4.4M228.9 212l-7.4-2.6M355.4 269.6l-7.4-4.3M232.6 210.6l-3.7-1.3M355.4 266l-3.8-2.1M240 210.6l-3.7-1.4M429.8 298l-18.7-9.1 -18.6-8.7M359 264.3l-11.1-6.1M251.1 211.9l-7.4-2.7M444.6 301.6l-29.8-14.8 -29.8-13.7M359 260.8l-11.2-6.1M258.5 212.1l-7.5-2.9M455.7 303.4l-18.6-9.6M399.9 276l-18.7-8.3M355.2 255.3l-7.4-4M269.6 213.7l-7.5-2.9M463.1 303.3l-11.2-5.9M392.4 268.9l-14.9-6.5M355.1 251.8l-14.9-7.9M280.7 215.5l-11.2-4.6M474.2 305.1l-11.2-5.9M388.6 263.6l-11.2-4.8M347.6 244.6l-14.9-7.8M291.8 217.4l-11.2-4.7M481.6 305.1l-11.2-6M388.5 260l-11.1-4.8M340.1 237.5l-23.2-11.6 -21.4-9.7M489 305.1l-11.2-6.1M388.5 256.3l-11.2-4.6M496.3 305.1l-11.1-6.1M388.4 252.7l-11.2-4.6M500 303.1l-7.4-4.2M388.3 249.1l-11.1-4.5M507.4 303.1l-7.5-4.1M388.3 245.6l-7.5-3M514.8 303.2l-7.5-4.2M388.2 242.1l-7.4-2.9M518.4 301.2l-3.7-2.1M388.2 238.6l-7.5-2.9M525.8 301.3l-7.4-4.2M391.8 236.6l-7.4-2.9M533.2 301.4l-7.4-4.2M391.8 233.2l-7.5-2.9M536.9 299.5l-7.5-4.3M395.4 231.2l-7.4-2.9M540.5 297.5l-3.7-2.1M395.4 227.8l-3.7-1.4M547.9 297.7l-7.4-4.3M399 225.8l-7.4-2.8M551.6 295.8l-3.7-2.2M399 222.5l-3.7-1.4M559 295.9l-7.5-4.2M402.7 220.5l-7.5-2.8M562.6 294l-7.4-4.3M406.3 218.6l-7.4-2.8M566.3 292.2l-3.7-2.2M406.3 215.3l-3.8-1.4M570 290.3l-3.8-2.2M409.9 213.4l-3.7-1.4M577.4 290.5l-7.5-4.3M413.6 211.5l-7.5-2.8M581 288.6l-7.4-4.4M417.3 209.6l-7.5-2.8M584.7 286.8l-3.7-2.2M417.2 206.4l-3.7-1.4M588.3 284.9l-3.7-2.2M420.9 204.5l-3.8-1.4M592 283.1l-3.7-2.2M424.5 202.6l-3.7-1.3M595.7 281.2l-3.7-2.2M428.2 200.8l-3.7-1.4M599.3 279.4l-3.7-2.2M431.9 199l-3.7-1.4M606.7 279.7l-7.4-4.3M435.5 197.1l-7.4-2.7M610.4 277.9l-7.5-4.3M439.2 195.3l-7.5-2.7M614.1 276.1l-7.5-4.3M442.8 193.5l-7.4-2.7M614 272.2l-3.7-2.2M446.5 191.7l-3.7-1.3M617.7 270.4l-3.8-2.2M450.2 190l-3.8-1.4M621.3 268.6l-3.7-2.2M453.8 188.2l-3.7-1.4M625 266.9l-3.7-2.2M457.5 186.4l-3.7-1.3M628.7 265.1l-3.8-2.2M461.2 184.7l-3.8-1.4M632.3 263.4l-7.4-4.4M468.5 184.3l-7.4-2.7M636 261.6l-7.5-4.3M472.2 182.6l-7.4-2.8M639.6 259.9l-7.4-4.3M475.9 180.9l-7.5-2.8M639.6 256l-3.7-2.1M479.5 179.2l-3.7-1.4M643.3 254.3l-3.8-2.1M483.2 177.5l-3.7-1.4M646.9 252.6l-7.4-4.3M490.6 177.2l-7.5-2.8M646.9 248.8l-3.8-2.1M494.3 175.5l-3.8-1.4M650.5 247.1l-7.4-4.3M501.6 175.2l-7.4-2.7M654.2 245.5l-7.5-4.3M505.3 173.6l-7.4-2.8M654.1 241.7l-3.7-2.1M509 172l-3.8-1.4M657.8 240l-7.5-4.2M516.4 171.8l-7.5-2.9M657.7 236.3l-3.7-2.1M520 170.2l-3.7-1.5M661.4 234.7l-7.4-4.2M527.4 170l-7.4-2.9M661.3 231l-7.4-4.2M534.8 169.9l-7.5-2.9M661.3 227.3l-3.7-2.1M538.5 168.3l-3.8-1.5M664.9 225.7l-7.4-4.1M545.8 168.2l-7.4-3M664.9 222l-7.5-4M553.2 168.2l-7.4-3M664.8 218.4l-7.4-4M560.6 168.1l-7.4-3M584.7 286.8l23.8-11.9 23.8-11.5M562.6 294l33-16.8M610.3 270l33-15.7M547.9 297.7l18.3-9.6M632.2 255.6l18.3-8.5M536.9 299.5l14.6-7.8M643.1 246.7l14.7-6.7M525.8 301.3l11-5.9M646.7 241.2l14.7-6.5M514.8 303.2l11-6M650.3 235.8l11-4.8M507.4 303.1l11-6M654 230.5l10.9-4.8M500 303.1l7.3-4.1M653.9 226.8l11-4.8M489 305.1l10.9-6.1M657.5 221.6l7.3-3.2M481.6 305.1l11-6.2M657.4 218l3.7-1.6M474.2 305.1l11-6.1M470.5 303.2l7.3-4.2M463.1 303.3l7.3-4.2M455.7 303.4l7.3-4.2M452 301.4l7.3-4.2M444.6 301.6l7.3-4.2M440.9 299.7l7.3-4.3M433.5 299.9l7.3-4.2M429.8 298l7.3-4.2M426 296.2l7.4-4.3M418.6 296.4l7.4-4.2M414.9 294.6l7.3-4.2M411.2 292.8l7.3-4.2M407.5 291l7.3-4.2M403.8 289.2l7.3-4.2M400 287.5l7.4-4.2M396.3 285.7l7.3-4.2M396.3 281.9l7.3-4.2M392.5 280.2l7.4-4.2M388.8 278.5l7.3-4.2M385.1 276.8l11-6.2M300.8 314.6l25.6-12.7M385 273.1l7.4-4.2M282.4 320l14.6-7.8M326.3 297.8l14.7-6.6M381.3 271.4l11-6.2M267.7 323.7l11-6.1M337.3 288.8l11-4.8M381.2 267.7l7.4-4.1M256.6 325.6l7.3-4.2M340.9 283.3l11-4.7M377.5 266.1l11-6.1M249.2 325.4l7.4-4.3M344.5 277.9l11-4.6M377.5 262.4l11-6.1M238.2 327.5l7.3-4.4M348.1 272.7l7.3-3.1M377.4 258.8l11-6.1M230.8 327.4l7.3-4.4M348 268.9l11-4.6M377.4 255.2l10.9-6.1M553.2 168.2l3.7-1.6M223.4 327.4l3.7-2.2M351.6 263.9l7.4-3.1M377.3 251.7l11-6.1M545.8 168.2l7.4-3.1M216 327.5l3.7-2.2M351.6 260.3l3.7-1.5M377.2 248.1l11-6M534.8 169.9l11-4.7M208.6 327.6l7.4-4.6M347.9 258.2l7.3-2.9M380.8 242.6l11-6M527.4 170l11-4.8M204.9 325.5l3.7-2.3M347.8 254.7l7.3-2.9M380.8 239.2l11-6M516.4 171.8l10.9-4.8M197.5 325.7l3.7-2.3M347.8 251.3l3.6-1.4M384.4 233.7l11-5.9M505.3 173.6l14.7-6.5M190.1 325.9l7.4-4.7M344 249.2l7.4-2.7M388 228.3l14.7-7.8M494.3 175.5l14.6-6.6M186.4 323.9l3.7-2.4M344 245.9l3.6-1.3M391.6 223l18.3-9.6M475.9 180.9l18.3-8.4M179 324.2l3.7-2.3M340.2 243.9l3.7-1.2M398.9 215.8l32.9-16.8M446.5 191.7l33-15.6M175.3 322.2l3.7-2.3M340.2 240.7l3.7-1.3M413.5 205l23.8-11.9 23.8-11.5M171.6 320.3l3.7-2.5M336.5 238.8l3.6-1.3M164.2 320.6l3.7-2.3M332.7 236.8l3.7-1.2M160.5 318.8l3.6-2.4M329 234.9l3.7-1.2M156.8 316.9l3.6-2.4M329 231.8l3.6-1.3M153 315l3.7-2.4M325.2 230l3.7-1.3M149.3 313.2l3.7-2.4M321.5 228.2l3.7-1.3M145.6 311.4l3.7-2.4M317.8 226.4l3.7-1.3M141.9 309.6l3.6-2.4M314.1 224.6l3.6-1.3M138.1 307.9l3.7-2.4M310.4 222.9l3.6-1.3M134.4 306.2l3.7-2.4M306.6 221.2l3.7-1.3M130.7 304.5l3.7-2.4M299.2 220.6l3.7-1.1M127 302.8l3.6-2.3M295.5 219l3.7-1.2M126.9 298.8l3.7-2.4M291.8 217.4l3.7-1.2M123.2 297.2l3.7-2.4M288.1 215.8l3.6-1.3M119.5 295.6l3.6-2.3M280.7 215.5l3.7-1.2M119.4 291.8l3.7-2.4M277 214l3.6-1.3M115.7 290.2l3.7-2.3M269.6 213.7l3.7-1.2M115.6 286.4l3.7-2.3M265.9 212.2l3.6-1.3M111.9 284.9l3.7-2.2M258.5 212.1l3.6-1.3M111.9 281.2l3.6-2.3M251.1 211.9l7.3-2.6M111.8 277.5l3.7-2.2M243.7 211.9l7.3-2.7M111.7 273.9l3.7-2.3M240 210.6l3.7-1.4M111.7 270.3l3.7-2.2M228.9 212l7.4-2.8M111.6 266.8l3.7-2.2M221.6 212.1l7.3-2.8M111.6 263.3l7.3-4.3M214.2 212.3l3.6-1.4M111.5 259.9l7.3-4.2M203.1 214l7.3-2.9M115.1 254.4l11-6.2M192.1 215.9l7.3-3.1M122.4 247.1l11-6M177.4 219.5l10.9-4.8M129.7 239.9l21.9-11.2 22-10.3" stroke="#6c6cc4" stroke-width="1.0"/><path d="M160.4 314.5l-11.1-5.5 -11.2-5.2M179 319.9l-11.2-6.1M138 299.5l-11.1-4.7M190.1 321.5l-7.5-4.2M126.8 290.8l-7.4-2.9M201.2 323.4l-7.5-4.4M123 285.4l-3.7-1.3M208.6 323.2l-3.7-2.3M123 281.6l-7.5-2.7M216 323l-3.8-2.3M119.2 276.5l-3.7-1.2M227.1 325.2l-7.5-4.6M119.1 272.9l-3.7-1.3M230.7 322.9l-3.7-2.4M119.1 269.3l-3.7-1.2M238.1 323l-3.7-2.4M119 265.8l-3.7-1.2M245.5 323.1l-3.7-2.4M119 262.4l-3.8-1.2M252.9 323.3l-3.7-2.4M122.6 260l-3.7-1M256.6 321.1l-3.8-2.5M122.6 256.8l-3.8-1.1M263.9 321.4l-3.7-2.5M126.2 254.5l-3.7-1M267.6 319.3l-3.7-2.6M126.2 251.3l-3.8-1M275 319.7l-3.7-2.5M129.8 249.2l-3.7-1M278.7 317.6l-3.8-2.6M129.8 246.1l-3.7-1M133.4 244l-3.7-0.9M289.7 316.1l-3.7-2.5M137.1 242l-3.7-0.9M293.4 314.1l-3.8-2.5M297 312.2l-3.7-2.6M140.7 237.1l-3.7-1M300.7 310.3l-3.7-2.7M144.4 235.2l-3.7-1M148 233.3l-3.7-0.9M151.7 231.5l-3.7-1M155.4 229.7l-3.8-1M159 227.9l-3.7-1M162.7 226.2l-3.7-1M322.7 299.5l-3.7-2.6M166.4 224.5l-3.8-1.1M326.3 297.8l-3.7-2.6M330 296.2l-3.7-2.6M333.7 294.5l-3.7-2.5M181.1 220.5l-3.7-1M184.7 218.9l-3.7-1M337.3 288.8l-3.7-2.5M340.9 287.3l-3.7-2.5M195.8 216.9l-3.7-1M340.9 283.3l-3.7-2.5M199.5 215.5l-3.8-1.1M344.6 281.8l-3.8-2.4M206.8 215.1l-3.7-1.1M344.5 277.9l-3.7-2.5M210.5 213.7l-3.7-1.1M348.2 276.4l-3.8-2.3M217.9 213.4l-3.7-1.1M348.1 272.7l-3.7-2.4M225.3 213.2l-3.7-1.1M348 268.9l-3.7-2.3M232.7 213.1l-3.8-1.1M348 265.3l-3.7-2.3M240 213l-7.4-2.4M351.6 263.9l-7.4-4.5M247.4 213.1l-7.4-2.5M347.9 258.2l-3.8-2.2M254.8 213.2l-3.7-1.3M347.8 254.7l-7.4-4.3M262.2 213.4l-3.7-1.3M437.1 293.8l-18.6-9.2 -18.6-8.6M347.8 251.3l-7.5-4.2M273.3 215.1l-3.7-1.4M451.9 297.4l-14.9-7.7M407.2 275.5l-14.8-6.6M340.2 243.9l-7.4-4M288.1 218.5l-7.4-3M463 299.2l-11.1-6M399.7 268.3l-11.1-4.7M332.7 236.8l-20.4-10.3 -20.5-9.1M470.4 299.1l-7.4-4.1M396 263l-7.5-3M477.8 299l-7.5-4.1M395.9 259.3l-7.4-3M485.2 299l-7.5-4.2M395.8 255.6l-7.4-2.9M492.6 298.9l-7.5-4.2M392.1 250.6l-3.8-1.5M499.9 299l-7.4-4.3M395.7 248.4l-7.4-2.8M507.3 299l-7.4-4.3M395.7 244.9l-7.5-2.8M514.7 299.1l-7.4-4.3M395.6 241.4l-7.4-2.8M518.4 297.1l-3.7-2.2M395.6 238l-3.8-1.4M525.8 297.2l-7.5-4.4M399.2 235.9l-7.4-2.7M529.4 295.2l-3.7-2.3M399.2 232.5l-3.8-1.3M536.8 295.4l-3.7-2.2M399.1 229.1l-3.7-1.3M540.5 293.4l-3.7-2.3M402.8 227.1l-3.8-1.3M547.9 293.6l-7.5-4.5M406.4 225.1l-7.4-2.6M551.5 291.7l-3.7-2.3M406.4 221.8l-3.7-1.3M555.2 289.7l-3.7-2.3M410 219.8l-3.7-1.2M562.6 290l-7.5-4.6M413.7 217.8l-7.4-2.5M566.2 288.1l-3.7-2.3M413.6 214.7l-3.7-1.3M569.9 286.2l-3.7-2.4M417.3 212.7l-3.7-1.2M573.6 284.2l-3.7-2.3M421 210.8l-3.7-1.2M581 284.6l-7.5-4.6M424.6 208.9l-7.4-2.5M584.6 282.7l-3.7-2.2M424.6 205.8l-3.7-1.3M588.3 280.9l-3.7-2.3M428.2 203.9l-3.7-1.3M592 279l-3.8-2.3M431.9 202l-3.7-1.2M595.6 277.2l-3.7-2.3M435.6 200.2l-3.8-1.2M599.3 275.4l-3.7-2.4M439.2 198.4l-3.7-1.3M602.9 273.6l-3.7-2.4M442.9 196.5l-3.7-1.2M606.6 271.8l-3.7-2.4M446.6 194.7l-3.8-1.2M610.3 270l-3.7-2.4M450.2 193l-3.7-1.3M613.9 268.2l-3.7-2.3M453.9 191.2l-3.7-1.2M617.6 266.4l-3.7-2.3M457.6 189.4l-3.8-1.2M621.3 264.7l-3.8-2.3M461.2 187.7l-3.7-1.3M624.9 262.9l-3.7-2.2M464.9 186l-3.7-1.3M624.9 259l-3.7-2.4M472.3 185.5l-3.8-1.2M628.5 257.3l-3.7-2.4M475.9 183.8l-3.7-1.2M632.2 255.6l-3.7-2.3M479.6 182.1l-3.7-1.2M635.9 253.9l-3.8-2.3M483.3 180.5l-3.8-1.3M639.5 252.2l-7.4-4.6M490.6 180.1l-7.4-2.6M639.5 248.3l-3.8-2.3M494.3 178.5l-3.7-1.3M643.1 246.7l-3.7-2.3M498 176.8l-3.7-1.3M643.1 242.8l-3.7-2.3M505.4 176.5l-3.8-1.3M646.7 241.2l-3.7-2.3M509 174.9l-3.7-1.3M650.4 239.6l-7.4-4.5M516.4 174.7l-7.4-2.7M650.3 235.8l-3.7-2.2M520.1 173.1l-3.7-1.3M654 234.2l-7.4-4.4M527.5 172.9l-7.5-2.7M654 230.5l-7.5-4.4M534.8 172.7l-7.4-2.7M653.9 226.8l-3.7-2.2M538.5 171.3l-3.7-1.4M657.6 225.2l-7.5-4.3M545.9 171.2l-7.4-2.9M657.5 221.6l-7.4-4.3M553.3 171.1l-7.5-2.9M657.4 218l-7.4-4.3M560.7 171.1l-7.5-2.9M657.4 214.4l-7.5-4.2M568.1 171.1l-7.5-3M595.6 277.2l14.7-7.2M566.2 288.1l33-16.9 15.6-7.5 17.4-8.1M551.5 291.7l14.7-7.9M628.5 253.3l14.6-6.6M536.8 295.4l14.7-8M635.7 246l11-4.8M525.8 297.2l11-6.1M639.4 240.5l10.9-4.7M518.4 297.1l7.3-4.2M643 235.1l11-4.6M507.3 299l7.4-4.1M646.6 229.8l7.3-3M499.9 299l7.4-4.2M650.2 224.6l7.3-3M492.6 298.9l7.3-4.2M650.1 220.9l7.3-2.9M485.2 299l7.3-4.3M650.1 217.3l7.3-2.9M477.8 299l7.3-4.3M650 213.7l3.7-1.4M470.4 299.1l7.3-4.3M463 299.2l7.3-4.3M459.3 297.2l3.7-2.2M451.9 297.4l7.3-4.4M448.2 295.4l3.7-2.2M440.8 295.7l7.3-4.4M437.1 293.8l3.6-2.2M433.4 291.9l3.6-2.2M426 292.2l7.3-4.4M422.2 290.4l7.4-4.5M418.5 288.6l7.4-4.5M414.8 286.8l7.3-4.5M411.1 285l7.3-4.4M407.4 283.3l7.3-4.5M403.6 281.5l7.4-4.4M403.6 277.7l3.6-2.2M399.9 276l3.6-2.2M396.1 274.3l7.4-4.4M396.1 270.6l3.6-2.3M392.4 268.9l7.3-4.3M297 312.2l14.7-7.4 14.6-7M392.3 265.2l3.7-2.2M278.7 317.6l10.9-6M326.3 293.6l11-4.8M388.6 263.6l7.3-4.3M263.9 321.4l7.4-4.2M333.6 286.3l7.3-3M388.5 260l7.3-4.4M256.6 321.1l3.6-2.2M340.8 279.4l3.7-1.5M388.5 256.3l3.6-2.1M560.7 171.1l3.6-1.5M245.5 323.1l3.7-2.2M340.8 275.4l7.3-2.7M388.4 252.7l3.7-2.1M553.3 171.1l7.3-3M238.1 323l3.7-2.3M344.4 270.3l3.6-1.4M388.3 249.1l7.4-4.2M545.9 171.2l7.3-3M227.1 325.2l7.3-4.6M344.3 266.6l7.3-2.7M388.3 245.6l7.3-4.2M538.5 171.3l7.3-3.1M219.7 325.3l7.3-4.8M344.3 263l7.3-2.7M388.2 242.1l7.4-4.1M527.5 172.9l7.3-3M216 323l3.6-2.4M344.2 259.4l3.7-1.2M391.8 236.6l7.4-4.1M516.4 174.7l11-4.7M208.6 323.2l3.6-2.5M344.1 256l3.7-1.3M391.8 233.2l11-6.1M505.4 176.5l11-4.7M201.2 323.4l3.7-2.5M344.1 252.6l3.7-1.3M395.4 227.8l14.6-8M494.3 178.5l11-4.9M340.4 250.4l3.6-1.2M402.7 220.5l14.6-7.8M479.6 182.1l14.7-6.6M190.1 321.5l3.6-2.5M340.3 247.1l3.7-1.2M409.9 213.4l33-16.9 15.6-7.5 17.4-8.1M182.7 321.9l3.7-2.5M336.6 245l3.6-1.1M431.9 199l14.7-7.3M179 319.9l3.6-2.6M336.5 241.9l3.7-1.2M175.3 317.8l3.6-2.6M332.8 239.9l3.7-1.1M167.9 318.3l3.6-2.5M329.1 237.8l3.6-1M164.1 316.4l3.7-2.6M160.4 314.5l3.7-2.6M325.3 233l3.7-1.2M156.7 312.6l3.7-2.6M321.6 231.1l3.6-1.1M153 310.8l3.6-2.7M317.9 229.2l3.6-1M149.3 309l3.6-2.7M314.1 227.4l3.7-1M145.5 307.2l3.7-2.7M310.4 225.7l3.7-1.1M141.8 305.5l3.7-2.7M306.7 223.9l3.7-1M138.1 303.8l3.7-2.6M303 222.3l3.6-1.1M134.4 302.1l3.6-2.6M130.6 300.5l3.7-2.6M291.9 220l3.6-1M288.1 218.5l3.7-1.1M126.9 294.8l3.6-2.5M284.4 216.9l3.7-1.1M123.1 293.3l3.7-2.5M277 216.5l3.7-1M123.1 289.4l3.7-2.6M273.3 215.1l3.7-1.1M119.4 287.9l3.6-2.5M265.9 214.7l3.7-1M119.3 284.1l3.7-2.5M262.2 213.4l3.7-1.2M115.6 282.7l3.6-2.4M254.8 213.2l3.7-1.1M115.5 278.9l3.7-2.4M247.4 213.1l3.7-1.2M115.5 275.3l3.6-2.4M240 213l3.7-1.1M115.4 271.6l3.7-2.3M232.7 213.1l7.3-2.5M115.4 268.1l3.6-2.3M225.3 213.2l3.6-1.2M115.3 264.6l7.3-4.6M217.9 213.4l3.7-1.3M118.9 259l3.7-2.2M206.8 215.1l7.4-2.8M118.8 255.7l7.4-4.4M195.8 216.9l7.3-2.9M126.1 248.2l7.3-4.2M184.7 218.9l7.4-3M133.4 241.1l14.6-7.8M162.7 226.2l14.7-6.7" stroke="#6c6ccc" stroke-width="1.0"/><path d="M167.8 313.8l-14.9-7.5 -14.9-6.8M182.6 317.3l-7.4-4.2M134.3 293.7l-7.5-2.9M193.7 319l-3.7-2.2M130.5 288.1l-7.5-2.7M204.9 320.9l-3.8-2.3M126.7 282.8l-3.7-1.2M212.2 320.7l-3.7-2.4M122.9 277.7l-3.7-1.2M122.9 274l-3.8-1.1M122.8 270.4l-3.7-1.1M122.7 266.8l-3.7-1M241.8 320.7l-3.7-2.6M122.7 263.4l-3.7-1M249.2 320.9l-3.8-2.6M126.3 257.7l-3.7-0.9M260.2 318.9l-3.7-2.7M129.9 252.2l-3.7-0.9M271.3 317.2l-3.8-2.8M133.5 247l-3.7-0.9M282.3 315.6l-3.7-2.7M137.2 244.8l-3.8-0.8M286 313.6l-3.7-2.8M140.8 239.9l-3.8-0.8M144.4 237.9l-3.7-0.8M148.1 236l-3.7-0.8M304.4 308.4l-3.8-2.7M151.8 234l-3.8-0.7M308 306.6l-3.7-2.7M155.4 232.2l-3.7-0.7M311.7 304.8l-3.7-2.8M315.4 303l-3.8-2.7M162.8 228.6l-3.8-0.7M319 301.2l-3.7-2.6M166.4 226.9l-3.7-0.7M170.1 225.2l-3.7-0.7M173.7 223.6l-3.7-0.8M326.3 293.6l-3.7-2.8M177.4 222l-3.7-0.9M330 292l-3.8-2.7M333.6 290.4l-3.7-2.6M188.5 219.7l-3.8-0.8M192.1 218.3l-3.7-0.9M337.2 284.8l-3.7-2.6M203.2 216.4l-3.7-0.9M340.8 279.4l-3.7-2.6M214.2 214.7l-3.7-1M344.4 274.1l-3.7-2.5M221.6 214.4l-3.7-1M344.4 270.3l-3.7-2.5M229 214.2l-3.7-1M344.3 266.6l-3.7-2.5M344.3 263l-3.8-2.5M344.2 259.4l-3.7-2.3M251.2 214.2l-3.8-1.1M344.1 256l-3.7-2.3M258.5 214.4l-3.7-1.2M340.4 250.4l-3.8-2.2M269.6 216l-7.4-2.6M340.3 247.1l-7.4-4.2M280.8 217.9l-7.5-2.8M437 289.7l-14.9-7.4 -14.9-6.8M332.8 239.9l-11.2-6M295.6 221.5l-7.5-3M451.9 293.2l-14.9-7.7M414.6 274.8l-14.9-6.5M463 295l-11.2-6M407.1 267.6l-11.1-4.6M470.3 294.9l-7.4-4.2M403.4 262.3l-7.5-3M477.7 294.8l-3.7-2.2M399.6 257.1l-3.8-1.5M485.1 294.7l-3.7-2.2M399.5 253.4l-7.4-2.8M492.5 294.7l-3.7-2.2M399.5 249.8l-3.8-1.4M499.9 294.7l-3.7-2.2M399.4 246.2l-3.7-1.3M507.3 294.8l-3.7-2.3M399.3 242.7l-3.7-1.3M514.7 294.9l-3.8-2.3M399.3 239.3l-3.7-1.3M518.3 292.8l-3.7-2.4M402.9 237.1l-3.7-1.2M525.7 292.9l-3.7-2.3M402.9 233.7l-3.7-1.2M533.1 293.2l-7.4-4.7M406.5 231.6l-7.4-2.5M536.8 291.1l-3.8-2.3M406.5 228.3l-3.7-1.2M540.4 289.1l-3.7-2.4M410.2 226.2l-3.8-1.1M547.8 289.4l-3.7-2.4M410.1 223l-3.7-1.2M551.5 287.4l-3.7-2.4M413.8 221l-3.8-1.2M562.5 285.8l-3.7-2.4M417.4 215.8l-3.8-1.1M566.2 283.8l-3.7-2.4M421 213.9l-3.7-1.2M569.9 281.9l-3.8-2.5M424.7 211.9l-3.7-1.1M580.9 280.5l-3.7-2.4M428.3 206.9l-3.7-1.1M584.6 278.6l-3.8-2.4M432 205l-3.8-1.1M588.2 276.7l-3.7-2.4M435.6 203.2l-3.7-1.2M591.9 274.9l-3.7-2.5M439.3 201.3l-3.7-1.1M595.6 273l-3.8-2.4M443 199.5l-3.8-1.1M599.2 271.2l-3.7-2.4M446.6 197.6l-3.7-1.1M602.9 269.4l-3.7-2.4M450.3 195.9l-3.7-1.2M606.6 267.6l-3.8-2.4M453.9 194.1l-3.7-1.1M610.2 265.9l-3.7-2.5M457.6 192.3l-3.7-1.1M613.9 264.1l-3.7-2.4M461.3 190.6l-3.7-1.2M617.5 262.4l-3.7-2.4M464.9 188.9l-3.7-1.2M621.2 260.7l-3.7-2.4M468.6 187.2l-3.7-1.2M621.1 256.6l-3.8-2.5M476 186.6l-3.7-1.1M624.8 254.9l-3.7-2.4M479.7 184.9l-3.8-1.1M628.5 253.3l-3.7-2.4M483.3 183.3l-3.7-1.2M632.1 251.6l-3.7-2.4M487 181.7l-3.7-1.2M632.1 247.6l-3.7-2.4M494.4 181.2l-3.8-1.1M635.7 246l-3.7-2.4M498 179.6l-3.7-1.1M639.4 244.4l-3.7-2.3M501.7 178.1l-3.7-1.3M639.4 240.5l-3.8-2.4M509.1 177.7l-3.7-1.2M643 238.9l-3.7-2.3M512.7 176.2l-3.7-1.3M643 235.1l-3.8-2.3M520.1 175.9l-3.7-1.2M646.6 233.6l-3.7-2.3M523.8 174.4l-3.7-1.3M646.6 229.8l-3.8-2.3M531.2 174.2l-3.7-1.3M646.5 226.1l-3.7-2.3M538.6 174l-3.8-1.3M650.2 224.6l-7.5-4.5M546 173.9l-7.5-2.6M650.1 220.9l-7.4-4.4M553.3 173.8l-7.4-2.6M650.1 217.3l-7.5-4.4M560.7 173.8l-7.4-2.7M650 213.7l-7.4-4.2M568.1 173.9l-7.4-2.8M649.9 210.2l-7.4-4.2M575.5 174l-7.4-2.9M566.2 283.8l22-11.4M602.8 265.2l25.7-11.9M551.5 287.4l11-6M624.8 250.9l10.9-4.9M536.8 291.1l11-6.1M632 243.6l7.4-3.1M525.7 292.9l7.3-4.1M635.6 238.1l7.4-3M514.7 294.9l7.3-4.3M639.2 232.8l7.4-3M507.3 294.8l7.3-4.4M642.8 227.5l7.4-2.9M499.9 294.7l3.7-2.2M642.8 223.8l7.3-2.9M492.5 294.7l3.7-2.2M642.7 220.1l7.4-2.8M485.1 294.7l3.7-2.2M646.3 215.1l3.7-1.4M477.7 294.8l3.7-2.3M642.6 212.9l7.3-2.7M470.3 294.9l3.7-2.3M642.6 209.5l3.6-1.4M463 295l7.3-4.5M459.2 293l3.7-2.3M451.9 293.2l3.6-2.2M448.1 291.3l3.7-2.3M440.7 291.6l7.4-4.6M437 289.7l3.7-2.3M433.3 287.8l3.7-2.3M429.6 285.9l3.6-2.3M425.9 284.1l3.6-2.3M422.1 282.3l3.7-2.3M418.4 280.6l3.7-2.4M414.7 278.8l3.7-2.3M411 277.1l3.6-2.3M407.2 275.5l3.7-2.3M403.5 273.8l7.4-4.6M403.5 269.9l3.6-2.3M399.7 268.3l3.7-2.2M399.7 264.6l3.7-2.3M396 263l7.3-4.5M289.6 311.6l18.4-9.6 18.3-8.4M395.9 259.3l3.7-2.2M568.1 173.9l3.7-1.3M271.3 317.2l7.3-4.3M326.2 289.3l7.4-3M395.8 255.6l3.7-2.2M560.7 173.8l7.4-2.7M260.2 318.9l3.7-2.2M333.5 282.2l7.3-2.8M392.1 254.2l7.4-4.4M557 172.5l3.7-1.4M249.2 320.9l3.6-2.3M337.1 276.8l3.7-1.4M392.1 250.6l7.3-4.4M546 173.9l7.3-2.8M241.8 320.7l3.6-2.4M340.7 271.6l3.7-1.3M395.7 244.9l3.6-2.2M538.6 174l7.3-2.8M234.4 320.6l3.7-2.5M340.7 267.8l3.6-1.2M395.6 241.4l7.3-4.3M531.2 174.2l7.3-2.9M340.6 264.1l3.7-1.1M395.6 238l7.3-4.3M520.1 175.9l7.4-3M340.5 260.5l3.7-1.1M399.2 232.5l7.3-4.2M509.1 177.7l7.3-3M212.2 320.7l3.7-2.6M340.5 257.1l3.6-1.1M402.8 227.1l11-6.1M498 179.6l7.4-3.1M204.9 320.9l3.6-2.6M340.4 253.7l3.7-1.1M410 219.8l11-5.9M483.3 183.3l11-4.8M197.5 321.2l3.6-2.6M417.3 212.7l22-11.4M453.9 194.1l25.7-12M193.7 319l3.7-2.7M336.6 248.2l3.7-1.1M186.4 319.4l3.6-2.6M182.6 317.3l3.7-2.7M332.9 242.9l3.6-1M329.1 240.7l3.7-0.8M171.5 315.8l3.7-2.7M167.8 313.8l3.7-2.7M325.4 235.8l3.6-0.9M321.6 233.9l3.7-0.9M317.9 231.9l3.7-0.8M314.2 230.1l3.7-0.9M310.5 228.2l3.6-0.8M306.8 226.5l3.6-0.8M303 224.8l3.7-0.9M299.3 223.1l3.7-0.8M138 299.5l3.7-2.8M295.6 221.5l3.6-0.9M134.3 297.9l3.7-2.7M130.6 296.4l3.7-2.7M284.5 219.3l3.6-0.8M280.8 217.9l3.6-1M126.8 290.8l3.7-2.7M269.6 216l3.7-0.9M123 285.4l3.7-2.6M258.5 214.4l3.7-1M119.2 280.3l3.7-2.6M251.2 214.2l3.6-1M119.2 276.5l3.7-2.5M119.1 272.9l3.7-2.5M119.1 269.3l3.6-2.5M119 265.8l3.7-2.4M221.6 214.4l3.7-1.2M122.6 260l3.7-2.3M214.2 214.7l3.7-1.3M122.6 256.8l3.6-2.3M203.2 216.4l3.6-1.3M126.2 251.3l7.3-4.3M192.1 218.3l3.7-1.4M133.4 244l7.4-4.1M173.7 223.6l11-4.7M148 233.3l14.7-7.1" stroke="#6c6cd4" stroke-width="1.0"/><path d="M175.2 313.1l-7.4-4M145.4 298.3l-11.1-4.6M190 316.8l-3.7-2.2M134.2 289.5l-3.7-1.4M201.1 318.6l-3.7-2.3M130.4 284l-3.7-1.2M208.5 318.3l-3.7-2.4M126.6 278.9l-3.7-1.2M219.6 320.6l-3.7-2.5M126.6 275l-3.7-1M227 320.5l-3.7-2.5M126.5 271.3l-3.7-0.9M234.4 320.6l-3.7-2.6M126.5 267.7l-3.8-0.9M126.4 264.3l-3.7-0.9M245.4 318.3l-3.7-2.8M126.3 260.9l-3.7-0.9M252.8 318.6l-3.7-2.8M130 255.3l-3.8-0.8M263.9 316.7l-3.7-2.8M133.6 249.9l-3.8-0.7M274.9 315l-3.7-2.8M278.6 312.9l-3.7-2.9M140.8 242.6l-3.7-0.6M289.6 311.6l-3.7-2.9M144.5 240.5l-3.7-0.6M293.3 309.6l-3.7-2.9M297 307.6l-3.7-2.9M300.6 305.7l-3.7-3M304.3 303.9l-3.7-3.1M308 302l-3.8-3M159.1 230.3l-3.7-0.6M311.6 300.3l-3.7-3M315.3 298.6l-3.7-3M319 296.9l-3.8-3M322.6 295.2l-3.7-2.9M181.1 222.6l-3.7-0.6M184.8 221.2l-3.7-0.7M329.9 287.8l-3.7-2.9M333.6 286.3l-3.8-2.8M195.8 219l-3.7-0.7M199.5 217.7l-3.7-0.8M337.2 280.8l-3.8-2.8M206.9 217.1l-3.7-0.7M210.6 215.9l-3.8-0.8M340.8 275.4l-3.8-2.6M217.9 215.5l-3.7-0.8M340.7 271.6l-3.7-2.7M340.7 267.8l-3.8-2.6M340.6 264.1l-3.7-2.6M236.4 214.1l-3.7-1M340.5 260.5l-3.7-2.5M243.8 214.1l-3.8-1.1M340.5 257.1l-3.7-2.5M340.4 253.7l-3.7-2.3M262.3 215.6l-3.8-1.2M336.6 248.2l-3.7-2.3M273.4 217.3l-3.8-1.3M332.9 242.9l-7.5-4.3M284.5 219.3l-3.7-1.4M321.6 233.9l-13-6.5 -13-5.9M437 285.5l-11.2-5.5 -11.2-5.2M451.8 289l-11.2-5.9M418.3 272.4l-11.2-4.8M462.9 290.7l-7.4-4.1M410.8 265.3l-7.4-3M474 292.6l-7.4-4.2M407 259.9l-7.4-2.8M481.4 292.5l-7.4-4.4M407 256.1l-7.5-2.7M488.8 292.5l-3.7-2.3M403.2 251.1l-3.7-1.3M496.2 292.5l-3.8-2.3M403.1 247.5l-3.7-1.3M503.6 292.5l-3.8-2.3M403.1 244l-3.8-1.3M510.9 292.6l-7.4-4.7M406.7 241.7l-7.4-2.4M514.6 290.4l-3.7-2.3M406.7 238.3l-3.8-1.2M522 290.6l-3.7-2.3M406.6 234.9l-3.7-1.2M525.7 288.5l-3.8-2.4M410.3 232.7l-3.8-1.1M533 288.8l-3.7-2.5M410.2 229.4l-3.7-1.1M536.7 286.7l-3.7-2.5M413.9 227.3l-3.7-1.1M544.1 287l-3.7-2.4M413.8 224.1l-3.7-1.1M547.8 285l-3.8-2.5M417.5 222l-3.7-1M555.1 285.4l-3.7-2.5M417.4 218.9l-3.7-1.1M558.8 283.4l-3.7-2.5M421.1 216.9l-3.7-1.1M562.5 281.4l-3.8-2.5M424.8 214.9l-3.8-1M573.5 280l-3.7-2.5M428.4 209.9l-3.8-1M577.2 278.1l-3.7-2.6M432 208l-3.7-1.1M580.8 276.2l-3.7-2.6M435.7 206.1l-3.7-1.1M584.5 274.3l-3.7-2.6M439.4 204.2l-3.8-1M588.2 272.4l-3.7-2.5M443 202.3l-3.7-1M591.8 270.6l-3.7-2.6M446.7 200.4l-3.7-0.9M595.5 268.8l-3.7-2.6M450.3 198.6l-3.7-1M599.2 267l-3.8-2.6M454 196.8l-3.7-0.9M602.8 265.2l-3.7-2.6M457.7 195.1l-3.8-1M606.5 263.4l-3.7-2.5M461.3 193.3l-3.7-1M610.2 261.7l-3.8-2.5M465 191.6l-3.7-1M613.8 260l-3.7-2.5M468.7 189.9l-3.8-1M617.5 258.3l-3.7-2.5M472.3 188.2l-3.7-1M621.1 252.5l-3.7-2.6M483.4 185.9l-3.7-1M624.8 250.9l-3.8-2.6M487 184.3l-3.7-1M628.4 249.2l-3.7-2.4M490.7 182.8l-3.7-1.1M632 243.6l-3.7-2.4M501.8 180.7l-3.8-1.1M635.7 242.1l-3.7-2.5M505.4 179.2l-3.7-1.1M635.6 238.1l-3.7-2.4M512.8 178.8l-3.7-1.1M639.3 236.6l-3.7-2.4M516.5 177.3l-3.8-1.1M639.2 232.8l-3.7-2.4M523.9 177l-3.8-1.1M642.9 231.3l-3.7-2.3M527.5 175.6l-3.7-1.2M642.8 227.5l-3.7-2.3M534.9 175.4l-3.7-1.2M642.8 223.8l-3.7-2.3M542.3 175.2l-3.7-1.2M642.7 220.1l-3.7-2.3M549.7 175.1l-3.7-1.2M642.7 216.5l-3.8-2.3M557.1 175.1l-3.8-1.3M642.6 212.9l-3.7-2.2M564.5 175.2l-3.7-1.4M642.6 209.5l-3.8-2.2M571.8 175.3l-3.7-1.4M642.5 206l-7.4-4.2M582.9 176.9l-7.4-2.9M588.2 272.4l14.6-7.2M562.5 281.4l14.6-7.8M610.1 257.5l14.7-6.6M547.8 285l7.3-4.1M621 248.3l11-4.7M533 288.8l7.4-4.2M628.3 241.2l7.3-3.1M522 290.6l7.3-4.3M635.6 234.2l3.6-1.4M514.6 290.4l3.7-2.1M635.5 230.4l7.3-2.9M503.6 292.5l7.3-4.4M639.1 225.2l3.7-1.4M496.2 292.5l3.6-2.3M639.1 221.5l3.6-1.4M488.8 292.5l3.6-2.3M639 217.8l7.3-2.7M481.4 292.5l3.7-2.3M638.9 214.2l3.7-1.3M474 292.6l3.7-2.3M638.9 210.7l3.7-1.2M470.3 290.5l3.7-2.4M638.8 207.3l3.7-1.3M462.9 290.7l3.7-2.3M635.1 205.1l3.7-1.2M455.5 291l3.7-2.3M451.8 289l3.7-2.4M448.1 287l3.6-2.4M440.7 287.4l3.7-2.4M437 285.5l3.6-2.4M433.2 283.6l3.7-2.4M429.5 281.8l3.7-2.4M425.8 280l3.7-2.4M422.1 278.2l3.6-2.4M418.4 276.5l3.6-2.4M414.6 274.8l3.7-2.4M410.9 273.2l3.7-2.4M410.9 269.2l3.6-2.4M407.1 267.6l3.7-2.3M403.4 266.1l3.7-2.3M403.4 262.3l3.6-2.4M575.6 176.7l3.6-1.2M403.3 258.5l3.7-2.4M571.8 175.3l3.7-1.3M399.6 257.1l3.6-2.3M564.5 175.2l3.7-1.3M278.6 312.9l7.3-4.2M318.9 292.3l7.3-3M399.5 253.4l3.7-2.3M557.1 175.1l3.6-1.3M263.9 316.7l7.3-4.5M329.8 283.5l3.7-1.3M399.5 249.8l3.6-2.3M549.7 175.1l7.3-2.6M252.8 318.6l7.4-4.7M333.4 278l3.7-1.2M399.4 246.2l3.7-2.2M542.3 175.2l3.7-1.3M245.4 318.3l3.7-2.5M337.1 272.8l3.7-1.2M399.3 242.7l7.4-4.4M534.9 175.4l3.7-1.4M337 268.9l3.7-1.1M402.9 237.1l3.7-2.2M523.9 177l7.3-2.8M227 320.5l3.7-2.5M336.9 265.2l3.7-1.1M402.9 233.7l7.3-4.3M516.5 177.3l3.6-1.4M219.6 320.6l3.7-2.6M336.9 261.5l3.6-1M406.5 228.3l7.3-4.2M501.8 180.7l7.3-3M336.8 258l3.7-0.9M413.8 221l7.3-4.1M487 184.3l11-4.7M336.8 254.6l3.6-0.9M421 213.9l14.7-7.8M468.7 189.9l14.6-6.6M201.1 318.6l3.7-2.7M336.7 251.4l3.7-1M439.3 201.3l14.6-7.2M333 249l3.6-0.8M190 316.8l3.7-2.8M332.9 245.9l3.7-0.9M329.2 243.6l3.7-0.7M178.9 315.2l3.7-2.8M325.4 238.6l3.7-0.8M321.7 236.5l3.7-0.7M164.1 311.9l3.7-2.8M160.4 310l3.6-2.9M156.6 308.1l3.7-2.9M152.9 306.3l3.7-2.9M149.2 304.5l3.7-2.9M145.5 302.8l3.6-2.9M141.8 301.2l3.6-2.9M291.9 222.2l3.7-0.7M288.2 220.7l3.7-0.7M134.3 293.7l3.6-2.9M130.5 292.3l3.7-2.8M273.4 217.3l3.6-0.8M126.8 286.8l3.6-2.8M262.3 215.6l3.6-0.9M123 281.6l3.6-2.7M254.9 215.3l3.6-0.9M122.9 277.7l3.7-2.7M122.9 274l3.6-2.7M243.8 214.1l3.6-1M122.8 270.4l3.7-2.7M236.4 214.1l3.6-1.1M122.7 266.8l3.7-2.5M229 214.2l3.7-1.1M122.7 263.4l3.6-2.5M217.9 215.5l3.7-1.1M126.3 257.7l3.7-2.4M210.6 215.9l3.6-1.2M126.2 254.5l7.4-4.6M199.5 217.7l3.7-1.3M133.5 247l3.7-2.2M184.8 221.2l7.3-2.9M140.8 239.9l16.5-8.7 16.4-7.6" stroke="#6d6ddd" stroke-width="1.0"/><path d="M167.8 309.1l-11.2-5.7 -11.2-5.1M186.3 314.6l-7.4-4.4M137.9 290.8l-3.7-1.3M197.4 316.3l-3.7-2.3M134.1 285.2l-3.7-1.2M204.8 315.9l-3.7-2.5M130.4 280l-3.8-1.1M215.9 318.1l-3.7-2.6M130.3 276l-3.7-1M223.3 318l-3.7-2.7M230.7 318l-3.7-2.7M238.1 318.1l-3.8-2.8M130.1 261.6l-3.8-0.7M130 258.4l-3.7-0.7M256.5 316.2l-3.7-2.9M133.6 252.8l-3.7-0.6M267.5 314.4l-3.7-2.9M137.2 247.6l-3.7-0.6M140.9 245.3l-3.7-0.5M282.3 310.8l-3.8-3M148.2 238.4l-3.8-0.5M151.8 236.4l-3.7-0.4M155.5 234.4l-3.7-0.4M166.5 229l-3.7-0.4M170.1 227.3l-3.7-0.4M173.8 225.7l-3.7-0.5M177.5 224.1l-3.8-0.5M322.6 290.8l-3.8-3.1M326.2 289.3l-3.7-3M192.2 220.3l-3.7-0.6M329.8 283.5l-3.7-3M333.5 282.2l-3.7-2.9M203.2 218.2l-3.7-0.5M337.1 276.8l-3.7-2.8M214.3 216.5l-3.7-0.6M337.1 272.8l-3.7-2.8M225.3 215.2l-3.7-0.8M232.7 215l-3.7-0.8M240.1 215l-3.7-0.9M247.5 215l-3.7-0.9M336.8 254.6l-3.8-2.5M254.9 215.3l-3.7-1.1M336.7 251.4l-3.7-2.4M266 216.7l-3.7-1.1M332.9 245.9l-3.7-2.3M277.1 218.6l-3.7-1.3M325.4 238.6l-7.4-4.1M295.6 223.8l-11.1-4.5M440.6 283.1l-11.1-5.5 -11.2-5.2M455.5 286.6l-11.2-6M422 270l-11.2-4.7M466.6 288.4l-7.5-4.2M414.5 262.8l-7.5-2.9M474 288.1l-3.8-2.1M410.7 257.5l-3.7-1.4M485.1 290.2l-7.5-4.5M410.6 253.7l-7.4-2.6M492.4 290.2l-3.7-2.3M406.8 248.8l-3.7-1.3M499.8 290.2l-3.7-2.3M406.8 245.2l-3.7-1.2M503.5 287.9l-3.7-2.4M410.4 242.9l-3.7-1.2M510.9 288.1l-3.7-2.5M410.4 239.4l-3.7-1.1M518.3 288.3l-3.8-2.5M410.3 236l-3.7-1.1M529.3 286.3l-3.7-2.5M413.9 230.5l-3.7-1.1M540.4 284.6l-3.8-2.6M417.5 225.1l-3.7-1M551.4 282.9l-3.7-2.5M421.1 219.9l-3.7-1M555.1 280.9l-3.7-2.6M424.8 217.8l-3.7-0.9M566.1 279.4l-3.7-2.5M428.4 212.9l-3.7-1M569.8 277.5l-3.7-2.6M432.1 210.9l-3.7-1M573.5 275.5l-3.8-2.6M435.7 208.9l-3.7-0.9M577.1 273.6l-3.7-2.6M439.4 206.9l-3.7-0.8M580.8 271.7l-3.7-2.7M443.1 205l-3.7-0.8M606.4 259.2l-3.7-2.7M468.7 192.5l-3.7-0.9M610.1 257.5l-3.7-2.7M472.4 190.8l-3.7-0.9M613.8 255.8l-3.8-2.7M476.1 189.1l-3.7-0.9M617.4 254.1l-3.7-2.6M479.7 187.5l-3.7-0.9M621 248.3l-3.7-2.6M490.8 185.2l-3.8-0.9M624.7 246.8l-3.7-2.6M494.4 183.7l-3.7-0.9M628.4 245.2l-3.8-2.5M498.1 182.2l-3.7-1M628.3 241.2l-3.7-2.6M505.5 181.7l-3.7-1M632 239.6l-3.8-2.5M509.1 180.2l-3.7-1M631.9 235.7l-3.7-2.6M516.5 179.8l-3.7-1M635.6 234.2l-3.7-2.4M520.2 178.4l-3.7-1.1M635.5 230.4l-3.7-2.5M527.6 178.1l-3.7-1.1M639.2 229l-3.7-2.5M531.2 176.8l-3.7-1.2M639.1 225.2l-3.7-2.4M538.6 176.6l-3.7-1.2M639.1 221.5l-3.8-2.4M546 176.4l-3.7-1.2M639 217.8l-3.7-2.3M553.4 176.4l-3.7-1.3M638.9 214.2l-3.7-2.2M560.8 176.4l-3.7-1.3M638.9 210.7l-3.7-2.2M568.2 176.5l-3.8-1.3M638.8 207.3l-7.4-4.3M579.3 178.1l-7.5-2.8M635.1 201.8l-7.5-4.1M590.4 179.9l-7.5-3M577.1 273.6l16.5-8.3 16.5-7.8M555.1 280.9l11-6M610 253.1l11-4.8M540.4 284.6l7.3-4.2M621 244.2l7.3-3M529.3 286.3l7.3-4.3M628.2 237.1l7.4-2.9M518.3 288.3l7.3-4.5M631.9 231.8l3.6-1.4M510.9 288.1l3.6-2.3M631.8 227.9l7.3-2.7M499.8 290.2l7.4-4.6M635.4 222.8l3.7-1.3M492.4 290.2l3.7-2.3M635.3 219.1l3.7-1.3M485.1 290.2l3.6-2.3M635.3 215.5l3.6-1.3M477.7 290.3l3.6-2.3M635.2 212l3.7-1.3M474 288.1l3.6-2.4M635.2 208.5l3.6-1.2M466.6 288.4l3.6-2.4M631.4 206.3l3.7-1.2M459.2 288.7l3.6-2.4M631.4 203l3.7-1.2M455.5 286.6l3.6-2.4M451.7 284.6l3.7-2.5M444.4 285l3.6-2.4M440.6 283.1l3.7-2.5M436.9 281.2l3.7-2.5M433.2 279.4l3.6-2.5M429.5 277.6l3.6-2.5M425.7 275.8l3.7-2.5M422 274.1l3.7-2.5M418.3 272.4l3.7-2.4M414.6 270.8l3.6-2.4M414.5 266.8l3.7-2.5M410.8 265.3l3.7-2.5M407.1 263.8l3.6-2.4M579.3 178.1l3.6-1.2M407 259.9l3.7-2.4M571.9 177.9l3.7-1.2M407 256.1l3.6-2.4M568.2 176.5l3.6-1.2M403.2 254.8l3.7-2.4M560.8 176.4l3.6-1.2M285.9 308.7l8.3-4.5 8.2-4.3 8.3-3.9 8.2-3.7M403.2 251.1l3.6-2.3M553.4 176.4l3.7-1.3M271.2 312.2l3.7-2.2M322.5 286.3l7.3-2.8M403.1 247.5l3.7-2.3M546 176.4l3.7-1.3M260.2 313.9l3.6-2.4M329.8 279.3l3.6-1.3M403.1 244l7.3-4.6M538.6 176.6l3.7-1.4M249.1 315.8l3.7-2.5M333.4 274l3.6-1.2M406.7 238.3l3.6-2.3M527.6 178.1l7.3-2.7M238.1 318.1l3.6-2.6M333.3 270l3.7-1.1M406.6 234.9l7.3-4.4M520.2 178.4l3.7-1.4M230.7 318l3.6-2.7M410.2 229.4l7.3-4.3M509.1 180.2l7.4-2.9M223.3 318l3.7-2.7M413.8 224.1l7.3-4.2M494.4 183.7l7.4-3M215.9 318.1l3.7-2.8M421.1 216.9l11-6M476.1 189.1l11-4.8M208.5 318.3l3.7-2.8M435.7 206.1l16.5-8.4 16.5-7.8M333 252.1l3.7-0.7M197.4 316.3l3.7-2.9M329.3 246.6l3.6-0.7M186.3 314.6l3.7-3M325.5 241.4l3.6-0.7M175.2 313.1l3.7-2.9M171.5 311.1l3.6-3M318 234.5l3.6-0.6M314.3 232.5l3.6-0.6M310.5 230.6l3.7-0.5M306.8 228.8l3.7-0.6M303.1 227l3.7-0.5M299.4 225.4l3.6-0.6M295.6 223.8l3.7-0.7M141.7 296.7l3.7-3M138 295.2l3.6-3M280.8 219.9l3.7-0.6M277.1 218.6l3.7-0.7M130.5 288.1l3.6-2.9M266 216.7l3.6-0.7M126.7 282.8l3.7-2.8M258.6 216.3l3.7-0.7M126.6 278.9l3.7-2.9M247.5 215l3.7-0.8M240.1 215l3.7-0.9M232.7 215l3.7-0.9M126.4 264.3l3.7-2.7M225.3 215.2l3.7-1M126.3 260.9l3.7-2.5M130 255.3l3.6-2.5M206.9 217.1l3.7-1.2M133.6 249.9l3.6-2.3M195.8 219l3.7-1.3M137.2 244.8l7.3-4.3M177.5 224.1l7.3-2.9" stroke="#6d6de5" stroke-width="1.0"/><path d="M178.9 310.2l-7.5-4.2M145.4 293.7l-7.5-2.9M193.7 314l-3.7-2.4M137.9 286.4l-3.8-1.2M134.1 281l-3.7-1M212.2 315.5l-3.7-2.6M219.6 315.3l-3.8-2.7M130.2 272.2l-3.7-0.9M130.2 268.5l-3.7-0.8M130.1 265l-3.7-0.7M241.7 315.5l-3.7-2.9M249.1 315.8l-3.7-2.9M133.7 255.8l-3.7-0.5M260.2 313.9l-3.8-3.1M137.3 250.4l-3.7-0.5M271.2 312.2l-3.7-3.1M144.6 243l-3.8-0.4M285.9 308.7l-3.7-3.1M289.6 306.7l-3.7-3.2M293.3 304.7l-3.8-3.3M159.1 232.6l-3.7-0.4M162.8 230.7l-3.7-0.4M315.2 293.9l-3.7-3.2M318.9 292.3l-3.7-3.1M184.9 223l-3.8-0.4M188.5 221.6l-3.7-0.4M326.2 284.9l-3.7-3.1M199.6 219.4l-3.8-0.4M333.4 278l-3.7-2.9M210.6 217.6l-3.7-0.5M333.4 274l-3.7-3M221.7 216.1l-3.8-0.6M337 268.9l-3.7-2.8M229.1 215.8l-3.8-0.6M336.9 265.2l-3.7-2.8M336.9 261.5l-3.7-2.7M336.8 258l-3.7-2.6M251.2 215.9l-3.7-0.9M258.6 216.3l-3.7-1M333 249l-3.7-2.4M269.7 217.9l-3.7-1.2M329.2 243.6l-7.4-4.4M280.8 219.9l-3.7-1.3M318 234.5l-11.2-5.7 -11.2-5M444.3 280.6l-11.2-5.5 -11.1-5.1M459.1 284.2l-7.4-4.1M421.9 265.9l-7.4-3.1M470.2 286l-7.4-4.3M418.1 260.3l-7.4-2.8M477.6 285.7l-3.7-2.2M414.3 255l-3.7-1.3M488.7 287.9l-7.4-4.6M414.3 251.3l-7.5-2.5M496.1 287.9l-3.7-2.4M410.5 246.4l-3.7-1.2M507.2 285.6l-3.8-2.4M414.1 240.5l-3.7-1.1M514.5 285.8l-3.7-2.5M414.1 237.1l-3.8-1.1M521.9 286.1l-3.7-2.6M414 233.7l-3.7-1M525.6 283.8l-3.7-2.6M417.7 231.5l-3.8-1M533 284.2l-3.7-2.6M417.6 228.3l-3.7-1M536.6 282l-3.7-2.6M421.3 226l-3.8-0.9M544 282.5l-3.7-2.6M421.2 223l-3.7-1M547.7 280.4l-3.7-2.7M424.9 220.8l-3.8-0.9M558.7 278.9l-3.7-2.7M428.5 215.8l-3.7-0.9M562.4 276.9l-3.7-2.7M432.1 213.7l-3.7-0.8M566.1 274.9l-3.7-2.8M435.8 211.7l-3.7-0.8M584.5 269.9l-3.8-2.8M446.7 203.1l-3.7-0.8M588.1 268l-3.7-2.7M450.4 201.3l-3.7-0.9M591.8 266.2l-3.7-2.7M454.1 199.4l-3.8-0.8M595.4 264.4l-3.7-2.7M457.7 197.7l-3.7-0.9M599.1 262.6l-3.7-2.7M461.4 195.9l-3.7-0.8M602.8 260.9l-3.8-2.7M465.1 194.2l-3.8-0.9M610 253.1l-3.7-2.7M479.8 189.9l-3.8-0.8M613.7 251.5l-3.7-2.7M483.4 188.3l-3.7-0.8M617.4 249.9l-3.8-2.7M487.1 186.8l-3.7-0.9M621 244.2l-3.7-2.7M498.1 184.6l-3.8-0.9M624.6 242.7l-3.7-2.7M501.8 183.1l-3.7-0.9M628.2 237.1l-3.7-2.6M512.9 181.2l-3.8-1M631.9 231.8l-3.8-2.6M523.9 179.4l-3.7-1M631.8 227.9l-3.7-2.6M531.3 179.1l-3.7-1M635.5 226.5l-3.8-2.4M535 177.8l-3.8-1M635.4 222.8l-3.7-2.5M542.3 177.7l-3.7-1.1M635.3 219.1l-3.7-2.4M549.7 177.6l-3.7-1.2M635.3 215.5l-3.7-2.3M557.1 177.6l-3.7-1.2M635.2 212l-3.7-2.3M564.5 177.7l-3.7-1.3M635.2 208.5l-7.5-4.4M575.6 179.2l-7.4-2.7M631.4 203l-7.5-4.2M586.7 181l-7.4-2.9M627.6 197.7l-14.9-7.7M605.3 186.4l-14.9-6.5M566.1 274.9l22-11.4 10.9-5.3 11-5.1M547.7 280.4l7.3-4.2M613.6 247.2l7.4-3M536.6 282l3.7-2.1M620.9 240l7.3-2.9M525.6 283.8l3.7-2.2M624.5 234.5l7.4-2.7M514.5 285.8l3.7-2.3M628.1 229.2l3.7-1.3M507.2 285.6l3.6-2.3M631.7 224.1l3.7-1.3M496.1 287.9l7.3-4.7M631.7 220.3l3.6-1.2M488.7 287.9l3.7-2.4M631.6 216.7l3.7-1.2M481.3 288l3.7-2.4M631.6 213.2l3.6-1.2M477.6 285.7l3.7-2.4M631.5 209.7l3.7-1.2M470.2 286l3.7-2.5M462.8 286.3l3.7-2.5M627.7 204.1l3.7-1.1M459.1 284.2l3.7-2.5M627.7 200.9l3.6-1.1M623.9 198.8l3.7-1.1M448 282.6l3.7-2.5M620.2 196.8l3.7-1.1M444.3 280.6l3.7-2.5M440.6 278.7l3.6-2.5M425.7 271.6l3.6-2.5M422 270l3.6-2.6M418.2 268.4l3.7-2.5M590.4 182.5l3.7-1M586.7 181l3.7-1.1M414.5 262.8l3.6-2.5M583 179.5l3.7-1.1M410.7 261.4l3.7-2.5M575.6 179.2l3.7-1.1M410.7 257.5l3.6-2.5M410.6 253.7l3.7-2.4M564.5 177.7l3.7-1.2M406.9 252.4l3.7-2.4M557.1 177.6l3.7-1.2M406.8 248.8l3.7-2.4M549.7 177.6l3.7-1.2M274.9 310l7.3-4.4M318.8 287.7l3.7-1.4M406.8 245.2l7.3-4.7M542.3 177.7l3.7-1.3M263.8 311.5l3.7-2.4M326.1 280.5l3.7-1.2M410.4 239.4l3.7-2.3M535 177.8l3.6-1.2M252.8 313.3l3.6-2.5M329.7 275.1l3.7-1.1M410.3 236l3.7-2.3M523.9 179.4l3.7-1.3M241.7 315.5l3.7-2.6M413.9 230.5l3.7-2.2M512.9 181.2l7.3-2.8M234.3 315.3l3.7-2.7M333.3 266.1l3.6-0.9M417.5 225.1l3.7-2.1M501.8 183.1l7.3-2.9M333.2 262.4l3.7-0.9M421.1 219.9l7.4-4.1M487.1 186.8l7.3-3.1M333.2 258.8l3.6-0.8M432.1 210.9l22-11.5 11-5.2 10.9-5.1M212.2 315.5l3.6-2.9M333.1 255.4l3.7-0.8M204.8 315.9l3.7-3M329.3 249.6l3.7-0.6M193.7 314l3.7-3.1M325.5 244.2l3.7-0.6M182.6 312.4l3.6-3.1M321.8 239.2l3.6-0.6M318 237l3.7-0.5M167.8 309.1l3.6-3.1M164 307.1l3.7-3.1M160.3 305.2l3.7-3.2M156.6 303.4l3.6-3.2M152.9 301.6l3.6-3.2M149.1 299.9l3.7-3.1M145.4 298.3l3.7-3.1M288.3 222.6l3.6-0.4M284.5 221.2l3.7-0.5M137.9 290.8l3.7-3.1M134.2 289.5l3.7-3.1M269.7 217.9l3.7-0.6M130.4 284l3.7-3M130.4 280l3.6-3M251.2 215.9l3.7-0.6M126.6 275l3.6-2.8M243.8 215.7l3.7-0.7M126.5 271.3l3.7-2.8M126.5 267.7l3.6-2.7M229.1 215.8l3.6-0.8M221.7 216.1l3.6-0.9M130 258.4l3.7-2.6M214.3 216.5l3.6-1M133.6 252.8l3.7-2.4M203.2 218.2l3.7-1.1M137.2 247.6l3.7-2.3M188.5 221.6l7.3-2.6M144.5 240.5l11-6.1M170.1 227.3l7.4-3.2" stroke="#6d6dee" stroke-width="1.0"/><path d="M171.4 306l-13-6.7 -13-5.6M190 311.6l-7.5-4.6M141.6 287.7l-3.7-1.3M201.1 313.4l-3.7-2.5M137.8 282.1l-3.7-1.1M208.5 312.9l-3.8-2.6M134 277l-3.7-1M134 273l-3.8-0.8M227 315.3l-3.8-2.8M133.9 269.2l-3.7-0.7M234.3 315.3l-3.7-2.9M133.8 265.6l-3.7-0.6M133.8 262.2l-3.7-0.6M133.7 258.9l-3.7-0.5M252.8 313.3l-3.7-3.1M137.3 253.2l-3.7-0.4M263.8 311.5l-3.7-3.2M140.9 247.9l-3.7-0.3M274.9 310l-3.7-3.2M278.5 307.8l-3.7-3.4M148.2 240.8l-3.7-0.3M151.9 238.6l-3.7-0.2M296.9 302.7l-3.7-3.3M300.6 300.8l-3.7-3.3M304.2 299l-3.7-3.3M307.9 297.3l-3.7-3.3M311.6 295.6l-3.7-3.3M177.5 225.9l-3.7-0.2M181.2 224.4l-3.7-0.3M322.5 286.3l-3.7-3.3M195.9 220.5l-3.7-0.2M329.8 279.3l-3.7-3.1M218 217l-3.7-0.5M333.3 270l-3.7-3M333.3 266.1l-3.8-2.9M236.4 215.7l-3.7-0.7M243.8 215.7l-3.7-0.7M333.1 255.4l-3.7-2.7M333 252.1l-3.7-2.5M262.3 217.3l-3.7-1M329.3 246.6l-3.8-2.4M273.4 219l-3.7-1.1M321.8 239.2l-3.8-2.2M288.3 222.6l-7.5-2.7M451.7 280.1l-14.9-7.6 -14.9-6.6M462.8 281.7l-7.5-4.2M425.6 263.3l-7.5-3M473.9 283.5l-3.7-2.2M418.1 256.4l-3.8-1.4M481.3 283.3l-3.7-2.3M418 252.5l-3.7-1.2M492.4 285.5l-3.7-2.4M414.2 247.6l-3.7-1.2M499.8 285.5l-3.7-2.4M414.2 244l-3.8-1.1M510.8 283.3l-3.7-2.6M417.8 238.1l-3.7-1M518.2 283.5l-3.7-2.6M417.7 234.7l-3.7-1M529.3 281.6l-3.8-2.7M421.3 229.2l-3.7-0.9M540.3 279.9l-3.7-2.8M424.9 223.8l-3.7-0.8M551.4 278.3l-3.8-2.7M428.5 218.7l-3.7-0.9M555 276.2l-3.7-2.8M432.2 216.5l-3.7-0.7M569.7 272.9l-3.7-2.8M439.5 209.7l-3.8-0.8M573.4 271l-3.7-2.9M443.1 207.7l-3.7-0.8M577.1 269l-3.8-2.8M446.8 205.7l-3.7-0.7M580.7 267.1l-3.7-2.8M450.5 203.8l-3.8-0.7M584.4 265.3l-3.7-2.9M454.1 202l-3.7-0.7M588.1 263.5l-3.8-2.9M457.8 200.1l-3.7-0.7M591.7 261.7l-3.7-2.9M461.5 198.3l-3.8-0.6M595.4 259.9l-3.7-2.9M465.1 196.6l-3.7-0.7M599 258.2l-3.7-2.9M468.8 194.9l-3.7-0.7M602.7 256.5l-3.7-2.9M472.4 193.2l-3.7-0.7M606.4 254.8l-3.7-2.8M476.1 191.5l-3.7-0.7M613.6 247.2l-3.7-2.8M490.8 187.5l-3.7-0.7M617.3 245.7l-3.7-2.8M494.5 186l-3.7-0.8M620.9 240l-3.7-2.7M505.5 183.9l-3.7-0.8M624.6 238.6l-3.7-2.7M509.2 182.5l-3.7-0.8M628.2 233.1l-3.7-2.6M520.2 180.7l-3.7-0.9M628.1 229.2l-3.7-2.6M527.6 180.3l-3.7-0.9M631.7 224.1l-3.7-2.5M538.7 178.9l-3.7-1.1M631.7 220.3l-3.7-2.4M546.1 178.8l-3.8-1.1M631.6 216.7l-3.7-2.4M553.5 178.7l-3.8-1.1M631.6 213.2l-3.8-2.4M560.8 178.8l-3.7-1.2M631.5 209.7l-3.7-2.3M568.2 179l-3.7-1.3M627.7 204.1l-3.7-2.2M579.3 180.6l-3.7-1.4M623.9 198.8l-7.4-4M594.2 184.1l-7.5-3.1M612.7 190l-7.4-3.6M555 276.2l11-6.1M602.7 252l10.9-4.8M540.3 279.9l7.3-4.3M613.6 242.9l7.3-2.9M529.3 281.6l7.3-4.5M620.9 235.9l3.6-1.4M518.2 283.5l7.3-4.6M624.5 230.5l3.6-1.3M510.8 283.3l3.7-2.4M628.1 225.3l3.6-1.2M503.4 283.2l3.7-2.5M628 221.6l3.7-1.3M492.4 285.5l3.7-2.4M628 217.9l3.6-1.2M485 285.6l3.7-2.5M627.9 214.3l3.7-1.1M481.3 283.3l3.6-2.5M627.8 210.8l3.7-1.1M473.9 283.5l3.7-2.5M627.8 207.4l3.6-1.1M466.5 283.8l3.7-2.5M624.1 205.2l3.6-1.1M462.8 281.7l3.6-2.6M624 201.9l3.7-1M455.4 282.1l3.7-2.6M620.3 199.8l3.6-1M451.7 280.1l3.6-2.6M448 278.1l3.6-2.6M616.5 194.8l3.7-1.1M612.8 192.8l3.6-1M436.8 276.9l3.7-2.6M609.1 190.9l3.6-0.9M433.1 275.1l3.7-2.6M605.3 189.1l3.7-0.9M429.4 273.3l3.7-2.6M601.6 187.4l3.7-1M597.9 185.7l3.7-1M425.6 267.4l3.7-2.6M594.2 184.1l3.6-1M421.9 265.9l3.7-2.6M418.2 264.3l3.6-2.5M583.1 182l3.6-1M418.1 260.3l3.7-2.6M579.3 180.6l3.7-1.1M414.4 258.9l3.7-2.5M572 180.3l3.6-1.1M414.3 255l3.7-2.5M568.2 179l3.7-1.1M414.3 251.3l3.6-2.6M560.8 178.8l3.7-1.1M410.6 250l3.6-2.4M553.5 178.7l3.6-1.1M410.5 246.4l3.7-2.4M546.1 178.8l3.6-1.2M282.2 305.6l7.3-4.2M311.5 290.7l7.3-3M414.1 240.5l3.7-2.4M538.7 178.9l3.6-1.2M267.5 309.1l3.7-2.3M322.5 281.8l3.6-1.3M414.1 237.1l3.6-2.4M531.3 179.1l3.7-1.3M326.1 276.2l3.6-1.1M414 233.7l7.3-4.5M520.2 180.7l3.7-1.3M245.4 312.9l3.7-2.7M329.7 271l3.6-1M417.6 228.3l7.3-4.5M509.2 182.5l3.7-1.3M329.6 267l3.7-0.9M421.2 223l7.3-4.3M494.5 186l7.3-2.9M227 315.3l3.6-2.9M428.5 215.8l11-6.1M476.1 191.5l11-4.7M219.6 315.3l3.6-2.8M329.4 256l3.7-0.6M329.4 252.7l3.6-0.6M201.1 313.4l3.6-3.1M325.6 247.1l3.7-0.5M190 311.6l3.6-3.2M321.8 241.8l3.7-0.4M178.9 310.2l3.6-3.2M175.1 308.1l3.7-3.3M314.3 234.9l3.7-0.4M310.6 232.9l3.7-0.4M306.9 230.9l3.6-0.3M303.1 229.1l3.7-0.3M299.4 227.3l3.7-0.3M295.7 225.7l3.7-0.3M292 224.1l3.6-0.3M141.6 292.2l3.7-3.2M277.2 220.2l3.6-0.3M273.4 219l3.7-0.4M134.1 285.2l3.7-3.1M262.3 217.3l3.7-0.6M254.9 216.8l3.7-0.5M130.3 276l3.7-3M130.2 272.2l3.7-3M236.4 215.7l3.7-0.7M130.1 265l3.7-2.8M130.1 261.6l3.6-2.7M210.6 217.6l3.7-1.1M199.6 219.4l3.6-1.2M140.9 245.3l3.7-2.3M184.9 223l3.6-1.4M155.5 234.4l7.3-3.7 7.3-3.4" stroke="#6d71f2" stroke-width="1.0"/><path d="M182.5 307l-3.7-2.2M145.3 289l-3.7-1.3M197.4 310.9l-3.8-2.5M141.5 283.2l-3.7-1.1M137.7 277.9l-3.7-0.9M215.8 312.6l-3.7-2.8M223.2 312.5l-3.7-3M230.6 312.4l-3.7-3M238 312.6l-3.7-3.1M245.4 312.9l-3.7-3.1M137.4 256.2l-3.7-0.4M256.4 310.8l-3.7-3.2M141 250.6l-3.7-0.2M267.5 309.1l-3.7-3.3M144.6 245.5l-3.7-0.2M282.2 305.6l-3.7-3.4M155.5 236.5l-3.7-0.1M159.2 234.5l-3.7-0.1M162.9 232.6l-3.8 0M166.5 230.8l-3.7-0.1M170.2 229.1l-3.7-0.1M173.9 227.4l-3.8-0.1M315.2 289.2l-3.7-3.5M318.8 287.7l-3.7-3.4M192.2 221.7l-3.7-0.1M326.1 280.5l-3.7-3.3M207 218.5l-3.8-0.3M329.7 275.1l-3.7-3.2M225.4 216.6l-3.7-0.5M232.8 216.3l-3.7-0.5M333.2 262.4l-3.7-2.9M240.2 216.3l-3.8-0.6M333.2 258.8l-3.8-2.8M247.5 216.5l-3.7-0.8M254.9 216.8l-3.7-0.9M329.3 249.6l-3.7-2.5M266 218.3l-3.7-1M325.5 244.2l-3.7-2.4M277.2 220.2l-3.8-1.2M318 237l-11.1-6.1M295.7 225.7l-7.4-3.1M455.3 277.5l-11.1-5.9M436.7 268.1l-11.1-4.8M470.2 281.3l-7.5-4.4M425.5 259.1l-7.4-2.7M477.6 281l-3.8-2.3M421.7 253.8l-3.7-1.3M488.7 283.1l-3.8-2.3M417.9 248.7l-3.7-1.1M496.1 283.1l-3.8-2.5M417.9 245.1l-3.7-1.1M503.4 283.2l-3.7-2.6M417.8 241.5l-3.7-1M514.5 280.9l-3.7-2.6M421.4 235.6l-3.7-0.9M521.9 281.2l-3.7-2.6M421.4 232.3l-3.7-0.8M532.9 279.4l-3.7-2.8M425 226.8l-3.7-0.8M544 277.7l-3.7-2.8M428.6 221.6l-3.7-0.8M547.6 275.6l-3.7-2.9M432.3 219.4l-3.8-0.7M558.7 274.2l-3.7-2.9M435.9 214.4l-3.8-0.7M562.4 272.1l-3.8-2.9M439.5 212.3l-3.7-0.6M566 270.1l-3.7-2.9M443.2 210.3l-3.7-0.6M606.3 250.4l-3.7-2.9M483.5 190.6l-3.7-0.7M610 248.8l-3.7-2.9M487.2 189l-3.8-0.7M617.3 241.5l-3.8-2.8M501.9 185.3l-3.7-0.7M620.9 235.9l-3.8-2.8M512.9 183.3l-3.7-0.8M624.5 234.5l-3.7-2.7M516.6 182l-3.7-0.8M624.5 230.5l-3.8-2.7M524 181.6l-3.8-0.9M628.1 225.3l-3.7-2.6M535 180.1l-3.7-1M628 221.6l-3.7-2.6M542.4 179.9l-3.7-1M628 217.9l-3.8-2.5M549.8 179.8l-3.7-1M627.9 214.3l-3.7-2.4M557.2 179.9l-3.7-1.2M627.8 210.8l-3.7-2.3M564.6 180l-3.8-1.2M627.8 207.4l-7.5-4.5M575.7 181.6l-7.5-2.6M624 201.9l-7.4-4.2M586.8 183.5l-7.5-2.9M616.5 194.8l-11.2-5.7 -11.1-5M566 270.1l18.3-9.5 18.4-8.6M547.6 275.6l7.4-4.3M606.3 245.9l7.3-3M536.6 277.1l3.7-2.2M617.2 237.3l3.7-1.4M525.5 278.9l3.7-2.3M620.8 231.8l3.7-1.3M514.5 280.9l3.7-2.3M624.4 226.6l3.7-1.3M507.1 280.7l3.7-2.4M624.4 222.7l3.6-1.1M496.1 283.1l3.6-2.5M624.3 219l3.7-1.1M488.7 283.1l3.6-2.5M624.2 215.4l3.7-1.1M624.2 211.9l3.6-1.1M477.6 281l3.6-2.6M624.1 208.5l3.7-1.1M470.2 281.3l3.6-2.6M620.3 202.9l3.7-1M459.1 279.5l3.6-2.6M455.3 277.5l3.7-2.7M616.6 197.7l3.6-0.9M612.8 195.7l3.7-0.9M444.2 276.2l3.7-2.7M609.1 193.7l3.7-0.9M440.5 274.3l3.7-2.7M436.8 272.5l3.7-2.7M433.1 270.7l3.6-2.6M429.3 269.1l3.7-2.7M594.2 186.6l3.7-0.9M590.5 185l3.7-0.9M425.6 263.3l3.6-2.7M586.8 183.5l3.6-1M421.8 261.8l3.7-2.7M575.7 181.6l3.6-1M418.1 256.4l3.6-2.6M418 252.5l3.7-2.6M564.6 180l3.6-1M557.2 179.9l3.6-1.1M414.2 247.6l3.7-2.5M549.8 179.8l3.7-1.1M414.2 244l3.6-2.5M542.4 179.9l3.7-1.1M289.5 301.4l11-5.7 11-5M417.8 238.1l3.6-2.5M535 180.1l3.7-1.2M271.2 306.8l3.6-2.4M318.8 283l3.7-1.2M417.7 234.7l3.7-2.4M527.6 180.3l3.7-1.2M256.4 310.8l3.7-2.5M322.4 277.2l3.7-1M421.3 229.2l3.7-2.4M516.6 182l3.6-1.3M326 271.9l3.7-0.9M424.9 223.8l3.7-2.2M505.5 183.9l3.7-1.4M238 312.6l3.7-2.8M428.5 218.7l7.4-4.3M487.2 189l7.3-3M230.6 312.4l3.7-2.9M329.5 263.2l3.7-0.8M439.5 209.7l18.3-9.6 18.3-8.6M223.2 312.5l3.7-3.1M329.5 259.5l3.7-0.7M215.8 312.6l3.7-3.1M208.5 312.9l3.6-3.1M325.7 250l3.6-0.4M197.4 310.9l3.6-3.2M321.9 244.5l3.6-0.3M186.2 309.3l3.7-3.3M318.1 239.5l3.7-0.3M171.4 306l3.7-3.4M167.7 304l3.7-3.4M152.8 296.8l3.7-3.5M149.1 295.2l3.6-3.4M145.4 293.7l3.6-3.3M280.9 221.5l3.6-0.3M137.9 286.4l3.6-3.2M266 218.3l3.7-0.4M134.1 281l3.6-3.1M247.5 216.5l3.7-0.6M240.2 216.3l3.6-0.6M130.2 268.5l3.6-2.9M232.8 216.3l3.6-0.6M225.4 216.6l3.7-0.8M133.7 258.9l3.7-2.7M218 217l3.7-0.9M133.7 255.8l3.6-2.6M207 218.5l3.6-0.9M137.3 250.4l3.6-2.5M195.9 220.5l3.7-1.1M144.6 243l7.3-4.4M181.2 224.4l3.7-1.4" stroke="#6e7af3" stroke-width="1.0"/><path d="M178.8 304.8l-7.4-4.2M152.7 291.8l-7.4-2.8M193.6 308.4l-3.7-2.4M145.2 284.3l-3.7-1.1M204.7 310.3l-3.7-2.6M137.7 273.8l-3.7-0.8M137.6 269.8l-3.7-0.6M137.6 266.1l-3.8-0.5M137.5 262.6l-3.7-0.4M137.5 259.3l-3.8-0.4M249.1 310.2l-3.8-3.2M144.7 248l-3.8-0.1M271.2 306.8l-3.8-3.5M148.3 243.1l-3.7-0.1M151.9 240.8l-3.7 0M285.9 303.5l-3.8-3.5M289.5 301.4l-3.7-3.6M293.2 299.4l-3.7-3.6M307.9 292.3l-3.8-3.6M311.5 290.7l-3.7-3.5M188.6 223l-3.7 0M322.5 281.8l-3.8-3.5M203.3 219.5l-3.7-0.1M326.1 276.2l-3.8-3.4M214.3 217.8l-3.7-0.2M329.7 271l-3.8-3.2M329.6 267l-3.7-3.2M329.4 256l-3.7-2.8M329.4 252.7l-3.7-2.7M258.7 217.6l-3.8-0.8M325.6 247.1l-3.7-2.6M321.8 241.8l-3.7-2.3M280.9 221.5l-3.7-1.3M306.9 230.9l-11.2-5.2M444.2 271.6l-7.5-3.5M462.7 276.9l-7.4-4.1M433 262.1l-7.5-3M473.8 278.7l-3.7-2.3M425.5 255.1l-3.7-1.3M484.9 280.8l-3.7-2.4M421.7 249.9l-3.8-1.2M492.3 280.6l-3.7-2.4M421.6 246.2l-3.7-1.1M499.7 280.6l-3.7-2.5M421.6 242.5l-3.8-1M507.1 280.7l-3.7-2.6M421.5 239l-3.7-0.9M518.2 278.6l-3.8-2.7M425.1 233.2l-3.7-0.9M525.5 278.9l-3.7-2.7M425 230l-3.7-0.8M536.6 277.1l-3.7-2.8M428.7 224.5l-3.7-0.7M540.3 274.9l-3.8-2.9M432.3 222.2l-3.7-0.6M551.3 273.4l-3.7-2.9M435.9 217.2l-3.7-0.7M555 271.3l-3.8-2.9M439.6 215l-3.7-0.6M569.7 268.1l-3.7-2.9M446.9 208.3l-3.8-0.6M573.3 266.2l-3.7-3M450.5 206.3l-3.7-0.6M577 264.3l-3.7-3M454.2 204.4l-3.7-0.6M580.7 262.4l-3.7-3M457.8 202.5l-3.7-0.5M584.3 260.6l-3.7-3M461.5 200.7l-3.7-0.6M588 258.8l-3.7-3M465.2 198.9l-3.7-0.6M591.7 257l-3.8-3M468.8 197.1l-3.7-0.5M595.3 255.3l-3.7-3M472.5 195.4l-3.7-0.5M599 253.6l-3.7-2.9M476.2 193.8l-3.8-0.6M602.7 252l-3.8-3M479.8 192.2l-3.7-0.7M609.9 244.4l-3.7-2.9M494.5 188.1l-3.7-0.6M613.6 242.9l-3.7-2.8M498.2 186.7l-3.7-0.7M617.2 237.3l-3.7-2.9M509.3 184.6l-3.8-0.7M620.8 231.8l-3.7-2.8M520.3 182.8l-3.7-0.8M624.4 226.6l-3.7-2.7M531.4 181.2l-3.8-0.9M624.4 222.7l-3.8-2.6M538.7 181l-3.7-0.9M624.3 219l-3.7-2.6M546.1 180.9l-3.7-1M624.2 215.4l-3.7-2.5M553.5 180.9l-3.7-1.1M624.2 211.9l-3.7-2.5M560.9 181l-3.7-1.1M624.1 208.5l-3.7-2.4M568.3 181.2l-3.7-1.2M620.3 202.9l-3.7-2.2M579.4 183l-3.7-1.4M616.6 197.7l-7.5-4 -7.4-3.7 -7.5-3.4 -7.4-3.1M555 271.3l7.3-4.1M598.9 249l7.4-3.1M540.3 274.9l3.6-2.2M609.9 240.1l7.3-2.8M529.2 276.6l3.7-2.3M617.1 233.1l3.7-1.3M518.2 278.6l3.6-2.4M617.1 229l7.3-2.4M620.7 223.9l3.7-1.2M499.7 280.6l3.7-2.5M620.6 220.1l3.7-1.1M492.3 280.6l3.7-2.5M620.6 216.4l3.6-1M484.9 280.8l3.7-2.6M620.5 212.9l3.7-1M620.5 209.4l3.6-0.9M473.8 278.7l3.7-2.7M620.4 206.1l3.7-0.9M466.5 279.1l3.7-2.7M616.7 203.8l3.6-0.9M462.7 276.9l3.7-2.7M616.6 200.7l3.7-0.9M612.9 198.6l3.7-0.9M451.6 275.5l3.7-2.7M447.9 273.5l3.7-2.7M444.2 271.6l3.6-2.7M605.4 191.8l3.7-0.9M440.5 269.8l3.6-2.7M601.7 190l3.6-0.9M436.7 268.1l3.7-2.8M597.9 188.3l3.7-0.9M433 266.4l3.7-2.7M429.3 264.8l3.7-2.7M583.1 184.4l3.7-0.9M425.5 259.1l3.7-2.7M579.4 183l3.7-1M421.8 257.7l3.6-2.6M572 182.5l3.7-0.9M421.7 253.8l3.7-2.7M568.3 181.2l3.7-0.9M560.9 181l3.7-1M417.9 248.7l3.7-2.5M553.5 180.9l3.7-1M417.9 245.1l3.7-2.6M546.1 180.9l3.7-1.1M417.8 241.5l3.7-2.5M538.7 181l3.7-1.1M531.4 181.2l3.6-1.1M274.8 304.4l3.7-2.2M311.5 285.7l7.3-2.7M421.4 232.3l3.6-2.3M520.3 182.8l7.3-2.5M260.1 308.3l3.7-2.5M318.7 278.3l3.7-1.1M425 226.8l3.6-2.3M512.9 183.3l3.7-1.3M249.1 310.2l3.6-2.6M428.6 221.6l3.7-2.2M498.2 186.7l7.3-2.8M325.9 267.8l3.7-0.8M435.9 214.4l7.3-4.1M479.8 192.2l7.4-3.2M325.9 263.8l3.6-0.6M325.8 256.5l3.6-0.5M325.7 253.2l3.7-0.5M204.7 310.3l3.7-3.3M182.5 307l3.7-3.4M314.4 237.2l3.6-0.2M310.6 235l3.7-0.1M164 302l3.6-3.4M160.2 300.2l3.7-3.5M156.5 298.4l3.7-3.4M288.3 224.2l3.7-0.1M284.6 222.8l3.7-0.2M141.6 287.7l3.6-3.4M269.8 219.3l3.6-0.3M137.8 282.1l3.7-3.3M258.7 217.6l3.6-0.3M134 277l3.7-3.2M134 273l3.6-3.2M133.9 269.2l3.7-3.1M133.8 265.6l3.7-3M133.8 262.2l3.7-2.9M214.3 217.8l3.7-0.8M137.3 253.2l3.7-2.6M140.9 247.9l3.7-2.4M192.2 221.7l3.7-1.2M151.9 238.6l11-6M170.2 229.1l11-4.7" stroke="#6e83f3" stroke-width="1.0"/><path d="M171.4 300.6l-9.3-4.8 -9.4-4M189.9 306l-3.7-2.4M201 307.7l-3.7-2.7M141.5 278.8l-3.8-0.9M212.1 309.8l-3.7-2.8M219.5 309.5l-3.7-2.9M234.3 309.5l-3.7-3.2M241.7 309.8l-3.8-3.3M141.1 253.4l-3.8-0.2M260.1 308.3l-3.7-3.4M274.8 304.4l-3.7-3.6M155.6 238.5l-3.7 0.1M296.9 297.5l-3.8-3.6M300.5 295.7l-3.7-3.6M304.2 294l-3.7-3.7M181.2 225.7l-3.7 0.2M184.9 224.3l-3.7 0.1M318.8 283l-3.7-3.5M199.6 220.6l-3.7-0.1M322.4 277.2l-3.7-3.5M210.7 218.6l-3.7-0.1M326 271.9l-3.7-3.4M221.7 217.3l-3.7-0.3M229.1 216.9l-3.7-0.3M329.5 263.2l-3.7-3.1M329.5 259.5l-3.7-3M243.9 216.8l-3.7-0.5M251.3 217.1l-3.8-0.6M325.7 250l-3.8-2.7M321.9 244.5l-3.8-2.5M269.8 219.3l-3.8-1M318.1 239.5l-7.5-4.5M284.6 222.8l-3.7-1.3M455.3 272.8l-11.2-5.7 -11.1-5M470.1 276.4l-7.4-4.3M432.9 257.8l-7.5-2.7M481.2 278.4l-7.4-4.7M429.1 252.4l-7.4-2.5M488.6 278.2l-3.7-2.5M425.3 247.3l-3.7-1.1M496 278.1l-3.7-2.5M425.3 243.6l-3.7-1.1M503.4 278.1l-3.7-2.6M425.2 240l-3.7-1M510.8 278.3l-3.8-2.7M425.2 236.5l-3.8-0.9M521.8 276.2l-3.7-2.8M428.8 230.7l-3.8-0.7M529.2 276.6l-3.7-2.8M428.7 227.6l-3.7-0.8M532.9 274.3l-3.8-2.9M432.4 225.2l-3.8-0.7M543.9 272.7l-3.7-2.9M436 220l-3.7-0.6M558.6 269.2l-3.7-3M443.2 212.9l-3.7-0.6M562.3 267.2l-3.7-3.1M446.9 210.8l-3.7-0.5M602.6 247.5l-3.7-3.1M487.2 191.1l-3.7-0.5M606.3 245.9l-3.8-3M490.9 189.6l-3.7-0.6M613.5 238.7l-3.7-3M505.6 185.9l-3.7-0.6M617.1 233.1l-3.7-2.9M516.6 184l-3.7-0.7M620.7 227.8l-3.7-2.8M527.7 182.4l-3.7-0.8M620.7 223.9l-3.7-2.7M535.1 182.1l-3.7-0.9M620.5 209.4l-3.8-2.3M564.6 182.2l-3.7-1.2M620.4 206.1l-3.7-2.3M572 182.5l-3.7-1.3M616.6 200.7l-7.4-4.1M586.8 185.9l-7.4-2.9M562.3 267.2l9.2-5 9.1-4.6 9.2-4.4 9.1-4.2M543.9 272.7l7.3-4.3M602.5 242.9l7.4-2.8M532.9 274.3l3.6-2.3M609.8 235.7l7.3-2.6M521.8 276.2l3.7-2.4M613.4 230.2l3.7-1.2M510.8 278.3l3.6-2.4M617 225l3.7-1.1M503.4 278.1l3.6-2.5M496 278.1l3.7-2.6M488.6 278.2l3.7-2.6M481.2 278.4l3.7-2.7M616.8 210.4l3.7-1M616.7 207.1l3.7-1M470.1 276.4l3.7-2.7M613 201.6l3.6-0.9M459 274.8l3.7-2.7M455.3 272.8l3.6-2.8M609.2 196.6l3.6-0.9M605.5 194.6l3.7-0.9M601.7 192.7l3.7-0.9M598 190.8l3.7-0.8M594.3 189.1l3.6-0.8M590.6 187.5l3.6-0.9M433 262.1l3.6-2.8M586.8 185.9l3.7-0.9M429.2 260.6l3.7-2.8M575.7 183.8l3.7-0.8M425.5 255.1l3.7-2.7M564.6 182.2l3.7-1M421.7 249.9l3.6-2.6M557.2 181.9l3.7-0.9M421.6 246.2l3.7-2.6M421.6 242.5l3.6-2.5M421.5 239l3.7-2.5M421.4 235.6l3.7-2.4M527.7 182.4l3.7-1.2M278.5 302.2l7.3-4.4M307.8 287.2l3.7-1.5M425 230l3.7-2.4M516.6 184l3.7-1.2M263.8 305.8l3.6-2.5M428.7 224.5l3.7-2.3M505.6 185.9l7.3-2.6M252.7 307.6l3.7-2.7M322.3 272.8l3.7-0.9M432.3 219.4l7.3-4.4M490.9 189.6l7.3-2.9M241.7 309.8l3.6-2.8M443.2 210.3l9.2-5 9.1-4.6 9.2-4.4 9.1-4.1M234.3 309.5l3.6-3M325.8 260.1l3.7-0.6M219.5 309.5l3.7-3.2M212.1 309.8l3.7-3.2M321.9 247.3l3.7-0.2M193.6 308.4l3.7-3.4M318.1 242l3.7-0.2M178.8 304.8l3.7-3.6M306.9 232.9l3.7 0M303.2 231l3.7-0.1M299.5 229.1l3.6 0M295.8 227.3l3.6 0M292 225.7l3.7 0M149 290.4l3.7-3.6M145.3 289l3.7-3.5M273.5 220.3l3.7-0.1M141.5 283.2l3.7-3.5M262.4 218.4l3.6-0.1M137.7 277.9l3.7-3.4M251.3 217.1l3.6-0.3M243.9 216.8l3.6-0.3M229.1 216.9l3.7-0.6M221.7 217.3l3.7-0.7M137.4 256.2l3.7-2.8M141 250.6l3.7-2.6M203.3 219.5l3.7-1M144.6 245.5l7.3-4.7M188.6 223l3.6-1.3M162.9 232.6l7.3-3.5" stroke="#6f8cf4" stroke-width="1.0"/><path d="M186.2 303.6l-3.7-2.4M152.7 286.8l-7.5-2.5M145.2 279.7l-3.7-0.9M208.4 307l-3.7-2.8M141.4 274.5l-3.7-0.7M141.4 270.4l-3.8-0.6M226.9 309.4l-3.7-3.1M141.2 259.5l-3.7-0.2M141.1 256.4l-3.7-0.2M252.7 307.6l-3.7-3.5M144.7 250.6l-3.7 0M263.8 305.8l-3.8-3.6M148.3 245.4l-3.7 0.1M278.5 302.2l-3.7-3.7M159.3 236.4l-3.8 0.1M162.9 234.3l-3.7 0.2M166.6 232.4l-3.7 0.2M170.3 230.6l-3.8 0.2M173.9 228.8l-3.7 0.3M177.6 227.2l-3.7 0.2M311.5 285.7l-3.8-3.7M315.1 284.3l-3.7-3.6M196 221.6l-3.8 0.1M218.1 217.9l-3.8-0.1M325.9 267.8l-3.7-3.4M236.5 216.7l-3.7-0.4M325.7 253.2l-3.7-2.9M262.4 218.4l-3.7-0.8M318.1 242l-3.7-2.5M273.5 220.3l-3.7-1M310.6 235l-7.4-4M295.8 227.3l-11.2-4.5M462.7 272.1l-7.5-4.1M440.3 260.9l-7.4-3.1M473.8 273.7l-3.7-2.3M432.8 253.7l-3.7-1.3M484.9 275.7l-3.7-2.4M429.1 248.4l-3.8-1.1M492.3 275.6l-3.7-2.6M429 244.6l-3.7-1M499.7 275.5l-3.8-2.6M428.9 240.9l-3.7-0.9M507 275.6l-3.7-2.7M428.9 237.4l-3.7-0.9M514.4 275.9l-3.7-2.8M428.8 234l-3.7-0.8M525.5 273.8l-3.7-2.9M432.4 228.2l-3.7-0.6M536.5 272l-3.7-2.9M436 222.8l-3.7-0.6M547.6 270.5l-3.7-3M439.6 217.7l-3.7-0.5M566 265.2l-3.8-3.1M450.6 208.7l-3.7-0.4M569.6 263.2l-3.7-3.1M454.2 206.7l-3.7-0.4M573.3 261.3l-3.7-3.2M457.9 204.8l-3.7-0.4M577 259.4l-3.8-3.2M461.6 202.9l-3.8-0.4M587.9 254l-3.7-3.1M472.6 197.5l-3.8-0.4M591.6 252.3l-3.7-3.1M476.2 195.8l-3.7-0.4M595.3 250.7l-3.8-3.2M479.9 194.2l-3.7-0.4M598.9 249l-3.7-3M483.6 192.6l-3.8-0.4M606.2 241.5l-3.7-3.1M498.3 188.7l-3.8-0.6M609.9 240.1l-3.8-3M501.9 187.3l-3.7-0.6M613.5 234.4l-3.7-2.9M513 185.2l-3.7-0.6M617.1 229l-3.7-2.8M524 183.5l-3.7-0.7M617 225l-3.7-2.8M531.4 183.1l-3.7-0.7M620.6 220.1l-3.7-2.7M542.5 181.9l-3.8-0.9M620.6 216.4l-3.8-2.6M549.9 181.8l-3.8-0.9M620.5 212.9l-3.7-2.5M557.2 181.9l-3.7-1M616.7 207.1l-3.7-2.4M568.3 183.4l-3.7-1.2M616.7 203.8l-7.5-4.4M579.5 185.2l-7.5-2.7M609.2 196.6l-11.2-5.8 -11.2-4.9M551.2 268.4l7.4-4.3M595.2 246l7.3-3.1M536.5 272l3.7-2.2M606.1 237.1l3.7-1.4M525.5 273.8l3.6-2.4M609.8 231.5l3.6-1.3M514.4 275.9l3.7-2.5M613.4 226.2l3.6-1.2M507 275.6l3.7-2.5M617 221.2l3.6-1.1M499.7 275.5l3.6-2.6M616.9 217.4l3.7-1M492.3 275.6l3.6-2.7M616.8 213.8l3.7-0.9M484.9 275.7l3.7-2.7M477.5 276l3.7-2.7M613 204.7l3.7-0.9M466.4 274.2l3.7-2.8M609.2 199.4l3.7-0.8M605.5 197.3l3.7-0.7M451.6 270.8l3.6-2.8M447.8 268.9l3.7-2.8M444.1 267.1l3.7-2.9M440.4 265.3l3.7-2.8M436.7 263.7l3.6-2.8M583.2 186.7l3.6-0.8M579.5 185.2l3.6-0.8M429.2 256.4l3.6-2.7M568.3 183.4l3.7-0.9M425.4 251.1l3.7-2.7M425.3 247.3l3.7-2.7M425.3 243.6l3.6-2.7M549.9 181.8l3.6-0.9M425.2 240l3.7-2.6M542.5 181.9l3.6-1M425.2 236.5l3.6-2.5M535.1 182.1l3.6-1.1M425.1 233.2l3.7-2.5M524 183.5l3.7-1.1M285.8 297.8l11-5.7 11-4.9M428.7 227.6l3.7-2.4M513 185.2l3.6-1.2M267.4 303.3l3.7-2.5M315.1 279.5l3.6-1.2M432.3 222.2l3.7-2.2M501.9 187.3l3.7-1.4M318.7 273.7l3.6-0.9M439.6 215l7.3-4.2M483.6 192.6l7.3-3M245.3 307l3.7-2.9M322.3 268.5l3.6-0.7M322.2 264.4l3.7-0.6M226.9 309.4l3.7-3.1M322 253.5l3.7-0.3M322 250.3l3.7-0.3M201 307.7l3.7-3.5M318.2 244.6l3.7-0.1M189.9 306l3.7-3.6M314.4 239.5l3.7 0M175.1 302.6l3.6-3.6M171.4 300.6l3.6-3.7M156.5 293.3l3.6-3.7M152.7 291.8l3.7-3.7M277.2 221.5l3.7 0M137.7 273.8l3.7-3.4M236.5 216.7l3.7-0.4M137.5 262.6l3.7-3.1M137.5 259.3l3.6-2.9M210.7 218.6l3.6-0.8M144.7 248l3.6-2.6M199.6 220.6l3.7-1.1M151.9 240.8l3.7-2.3M184.9 224.3l3.7-1.3" stroke="#6f95f4" stroke-width="1.0"/><path d="M182.5 301.2l-7.5-4.3M156.4 288.1l-3.7-1.3M197.3 305l-3.7-2.6M148.9 280.7l-3.7-1M145.1 275.2l-3.7-0.7M215.8 306.6l-3.7-3M141.3 266.5l-3.7-0.4M141.2 262.9l-3.7-0.3M245.3 307l-3.7-3.5M144.8 253.4l-3.7 0M148.4 247.9l-3.7 0.1M267.4 303.3l-3.7-3.8M152 242.9l-3.7 0.2M282.1 300l-3.7-3.8M285.8 297.8l-3.7-3.8M307.8 287.2l-3.7-3.9M192.3 222.8l-3.7 0.2M318.7 278.3l-3.7-3.6M207 219.5l-3.7 0M322.3 272.8l-3.7-3.5M225.4 217.4l-3.7-0.1M325.9 263.8l-3.7-3.3M325.8 260.1l-3.7-3.2M325.8 256.5l-3.8-3M255 217.8l-3.7-0.7M321.9 247.3l-3.7-2.7M266.1 219.3l-3.7-0.9M277.2 221.5l-3.7-1.2M303.2 231l-7.4-3.7M455.2 268l-7.4-3.8 -7.5-3.3M470.1 271.4l-3.8-2.2M436.6 255l-3.8-1.3M481.2 273.3l-3.8-2.4M432.8 249.6l-3.7-1.2M518.1 273.4l-3.7-2.9M432.5 231.4l-3.7-0.7M529.1 271.4l-3.7-2.9M436.1 225.8l-3.7-0.6M540.2 269.8l-3.7-3.1M439.7 220.5l-3.7-0.5M551.2 268.4l-3.7-3.1M443.3 215.5l-3.7-0.5M554.9 266.2l-3.7-3.1M447 213.3l-3.8-0.4M580.6 257.6l-3.7-3.2M465.2 201l-3.7-0.3M584.3 255.8l-3.7-3.2M468.9 199.2l-3.7-0.3M598.9 244.4l-3.7-3.1M490.9 191.5l-3.7-0.4M602.5 242.9l-3.7-3.1M494.6 190.1l-3.7-0.5M609.8 235.7l-3.7-3M509.3 186.5l-3.7-0.6M613.4 230.2l-3.7-2.9M520.4 184.6l-3.8-0.6M617 221.2l-3.8-2.8M538.8 182.9l-3.7-0.8M616.9 217.4l-3.7-2.6M546.2 182.8l-3.7-0.9M616.8 213.8l-3.7-2.5M553.6 182.8l-3.7-1M616.8 210.4l-3.7-2.5M561 183l-3.8-1.1M613 204.7l-3.7-2.3M572.1 184.6l-3.8-1.2M609.2 199.4l-7.4-4.1M586.9 188.2l-7.4-3M558.6 264.1l11-6M584.2 250.9l11-4.9M540.2 269.8l7.3-4.5M602.5 238.4l3.6-1.3M529.1 271.4l3.7-2.3M606.1 232.7l3.7-1.2M518.1 273.4l3.7-2.5M609.7 227.3l3.7-1.1M510.7 273.1l3.7-2.6M613.3 222.2l3.7-1M613.2 218.4l3.7-1M613.2 214.8l3.6-1M613.1 211.3l3.7-0.9M481.2 273.3l3.6-2.8M613.1 207.9l3.6-0.8M473.8 273.7l3.6-2.8M609.3 202.4l3.7-0.8M462.7 272.1l3.6-2.9M605.6 200.2l3.6-0.8M458.9 270l3.7-2.9M601.8 195.3l3.6-0.7M598.1 193.4l3.6-0.7M594.3 191.6l3.7-0.8M590.6 189.8l3.7-0.7M586.9 188.2l3.7-0.7M436.6 259.3l3.7-2.9M432.9 257.8l3.7-2.8M575.8 186l3.7-0.8M572.1 184.6l3.6-0.8M429.1 252.4l3.7-2.8M429.1 248.4l3.6-2.8M561 183l3.6-0.8M553.6 182.8l3.6-0.9M546.2 182.8l3.7-1M538.8 182.9l3.7-1M428.8 234l3.7-2.6M531.4 183.1l3.7-1M428.8 230.7l3.6-2.5M520.4 184.6l3.6-1.1M432.4 225.2l3.6-2.4M509.3 186.5l3.7-1.3M271.1 300.8l3.7-2.3M311.4 280.7l3.7-1.2M436 220l7.3-4.5M498.3 188.7l3.6-1.4M256.4 304.9l3.6-2.7M315 274.7l3.7-1M446.9 210.8l11-6M472.6 197.5l11-4.9M318.6 269.3l3.7-0.8M237.9 306.5l3.7-3M322.2 260.5l3.6-0.4M322.1 256.9l3.7-0.4M208.4 307l3.7-3.4M318.3 247.4l3.6-0.1M314.5 241.9l3.6 0.1M186.2 303.6l3.7-3.7M310.7 237.2l3.7 0M307 234.9l3.6 0.1M167.6 298.6l3.7-3.7M163.9 296.7l3.7-3.7M160.2 295l3.7-3.7M280.9 222.7l3.7 0.1M145.2 284.3l3.7-3.6M266.1 219.3l3.7 0M141.5 278.8l3.6-3.6M255 217.8l3.7-0.2M247.6 217.3l3.7-0.2M137.6 269.8l3.7-3.3M137.6 266.1l3.6-3.2M218.1 217.9l3.6-0.6M141.1 253.4l3.6-2.8M207 219.5l3.7-0.9M196 221.6l3.6-1M155.6 238.5l7.3-4.2M177.6 227.2l7.3-2.9" stroke="#709ef5" stroke-width="1.0"/><path d="M175 296.9l-9.3-4.8 -9.3-4M193.6 302.4l-3.7-2.5M204.7 304.2l-3.7-2.8M145.1 271l-3.7-0.6M223.2 306.3l-3.7-3.1M230.6 306.3l-3.8-3.3M237.9 306.5l-3.7-3.4M144.8 256.4l-3.7 0M256.4 304.9l-3.7-3.7M271.1 300.8l-3.7-3.8M155.7 240.5l-3.8 0.3M159.3 238.2l-3.7 0.3M289.5 295.8l-3.7-3.9M293.1 293.9l-3.7-4M296.8 292.1l-3.7-4M300.5 290.3l-3.8-3.9M304.1 288.7l-3.7-3.9M188.6 224l-3.7 0.3M315.1 279.5l-3.8-3.8M203.3 220.3l-3.7 0.3M318.7 273.7l-3.7-3.7M214.4 218.6l-3.7 0M322.3 268.5l-3.7-3.5M232.8 217.1l-3.7-0.2M240.2 217.1l-3.7-0.4M247.6 217.3l-3.7-0.5M322 250.3l-3.7-2.9M318.2 244.6l-3.7-2.7M314.4 239.5l-7.4-4.6M280.9 222.7l-3.7-1.2M466.3 269.2l-7.4-4.1M444 258l-7.4-3M477.4 270.9l-3.7-2.3M436.5 250.8l-3.7-1.2M488.5 273l-3.8-2.5M432.7 245.6l-3.7-1M495.9 272.9l-3.7-2.6M432.7 241.8l-3.8-0.9M503.3 272.9l-3.7-2.7M432.6 238.2l-3.7-0.8M510.7 273.1l-3.7-2.8M432.5 234.7l-3.7-0.7M521.8 270.9l-3.8-2.9M436.2 228.9l-3.8-0.7M532.8 269.1l-3.7-3.1M439.8 223.3l-3.8-0.5M543.9 267.5l-3.8-3.1M443.4 218.1l-3.8-0.4M558.6 264.1l-3.8-3.2M450.6 211.2l-3.7-0.4M562.2 262.1l-3.7-3.2M454.3 209.1l-3.7-0.4M565.9 260.1l-3.7-3.3M458 207l-3.8-0.3M591.5 247.5l-3.7-3.2M483.6 194.5l-3.7-0.3M595.2 246l-3.7-3.2M487.3 193l-3.7-0.4M602.5 238.4l-3.7-3.1M502 189.1l-3.7-0.4M606.1 237.1l-3.7-3.1M505.7 187.8l-3.8-0.5M609.8 231.5l-3.8-3M516.7 185.8l-3.7-0.6M613.4 226.2l-3.8-2.9M527.8 184.2l-3.8-0.7M613.3 222.2l-3.7-2.8M535.1 183.8l-3.7-0.7M613.1 211.3l-3.7-2.6M557.3 183.8l-3.7-1M613.1 207.9l-3.8-2.4M564.7 184.2l-3.7-1.2M609.3 202.4l-3.7-2.2M575.8 186l-3.7-1.4M601.8 195.3l-7.5-3.7 -7.4-3.4M569.6 258.1l14.6-7.2M547.5 265.3l3.7-2.2M595.2 241.3l7.3-2.9M532.8 269.1l3.7-2.4M602.4 234l3.7-1.3M521.8 270.9l3.6-2.4M606 228.5l3.7-1.2M609.6 223.3l3.7-1.1M503.3 272.9l3.7-2.6M609.6 219.4l3.6-1M495.9 272.9l3.7-2.7M488.5 273l3.6-2.7M609.4 208.7l3.7-0.8M477.4 270.9l3.7-2.8M609.3 205.5l3.7-0.8M470.1 271.4l3.6-2.8M605.6 203.1l3.7-0.7M466.3 269.2l3.7-2.9M601.8 198l3.7-0.7M455.2 268l3.7-2.9M598.1 196l3.7-0.7M451.5 266.1l3.7-3M447.8 264.2l3.6-2.9M444.1 262.5l3.6-2.9M440.3 260.9l3.7-2.9M583.2 188.9l3.7-0.7M579.5 187.4l3.7-0.7M436.6 255l3.6-2.9M432.8 253.7l3.7-2.9M568.4 185.4l3.7-0.8M432.8 249.6l3.6-2.9M564.7 184.2l3.6-0.8M557.3 183.8l3.7-0.8M429 244.6l3.7-2.8M428.9 240.9l3.7-2.7M428.9 237.4l3.6-2.7M535.1 183.8l3.7-0.9M527.8 184.2l3.6-1.1M432.4 228.2l3.7-2.4M516.7 185.8l3.7-1.2M436 222.8l3.7-2.3M505.7 187.8l3.6-1.3M274.8 298.5l3.6-2.3M304.1 283.3l7.3-2.6M443.3 215.5l3.7-2.2M490.9 191.5l7.4-2.8M260 302.2l3.7-2.7M457.9 204.8l14.7-7.3M249 304.1l3.7-2.9M318.6 265l3.6-0.6M230.6 306.3l3.6-3.2M223.2 306.3l3.6-3.3M215.8 306.6l3.7-3.4M318.3 250.4l3.7-0.1M197.3 305l3.7-3.6M182.5 301.2l3.6-3.7M303.3 232.7l3.6 0.2M299.5 230.7l3.7 0.3M295.8 228.8l3.7 0.3M292.1 227.1l3.7 0.2M288.4 225.5l3.6 0.2M284.7 224l3.6 0.2M149 285.5l3.6-3.7M269.8 220.2l3.7 0.1M145.2 279.7l3.7-3.7M258.7 218.4l3.7 0M141.4 274.5l3.7-3.5M240.2 217.1l3.7-0.3M232.8 217.1l3.7-0.4M225.4 217.4l3.7-0.5M141.1 256.4l3.7-3M144.7 250.6l3.7-2.7M148.3 245.4l3.7-2.5M192.3 222.8l3.7-1.2M162.9 234.3l7.4-3.7 7.3-3.4" stroke="#70a6f5" stroke-width="1.0"/><path d="M189.9 299.9l-3.8-2.4M152.6 281.8l-3.7-1.1M148.9 276l-3.8-0.8M212.1 303.6l-3.8-3M145 266.9l-3.7-0.4M145 263.1l-3.8-0.2M144.9 259.6l-3.7-0.1M249 304.1l-3.7-3.7M148.4 250.4l-3.7 0.2M260 302.2l-3.7-3.8M152.1 245.1l-3.8 0.3M274.8 298.5l-3.8-4M163 235.9l-3.7 0.5M181.3 226.8l-3.7 0.4M185 225.3l-3.8 0.4M311.4 280.7l-3.7-3.9M199.7 221.3l-3.7 0.3M221.8 217.8l-3.7 0.1M322.2 264.4l-3.7-3.5M322.2 260.5l-3.8-3.4M322.1 256.9l-3.7-3.3M322 253.5l-3.7-3.1M258.7 218.4l-3.7-0.6M269.8 220.2l-3.7-0.9M307 234.9l-3.7-2.2M288.4 225.5l-7.5-2.8M458.9 265.1l-7.5-3.8 -7.4-3.3M473.7 268.6l-3.7-2.3M440.2 252.1l-3.7-1.3M484.8 270.5l-3.7-2.4M436.4 246.7l-3.7-1.1M492.2 270.3l-3.7-2.6M436.4 242.8l-3.7-1M499.6 270.2l-3.7-2.7M436.3 239.1l-3.7-0.9M507 270.3l-3.7-2.8M436.3 235.5l-3.8-0.8M514.4 270.5l-3.8-2.8M436.2 232.1l-3.7-0.7M525.4 268.5l-3.7-3.1M439.8 226.3l-3.7-0.5M536.5 266.7l-3.7-3.1M443.4 220.9l-3.7-0.4M547.5 265.3l-3.7-3.2M447 215.9l-3.7-0.4M551.2 263.1l-3.7-3.3M450.7 213.6l-3.7-0.3M569.6 258.1l-3.8-3.3M461.6 205.1l-3.7-0.3M573.2 256.2l-3.7-3.3M465.3 203.1l-3.7-0.2M576.9 254.4l-3.7-3.3M469 201.3l-3.8-0.3M580.6 252.6l-3.8-3.3M472.6 199.5l-3.7-0.3M584.2 250.9l-3.7-3.3M476.3 197.8l-3.7-0.3M587.9 249.2l-3.7-3.3M479.9 196.1l-3.7-0.3M598.8 239.8l-3.7-3.2M498.3 190.4l-3.7-0.3M606.1 232.7l-3.7-3.1M513 187l-3.7-0.5M609.7 227.3l-3.7-3M524.1 185.2l-3.7-0.6M613.2 218.4l-3.7-2.7M542.5 183.7l-3.7-0.8M613.2 214.8l-3.7-2.7M549.9 183.7l-3.7-0.9M609.3 205.5l-3.7-2.4M568.4 185.4l-3.7-1.2M605.6 200.2l-7.5-4.2M583.2 188.9l-7.4-2.9M551.2 263.1l11-6.3M587.8 244.3l7.4-3M536.5 266.7l3.6-2.3M598.8 235.3l3.6-1.3M525.4 268.5l3.7-2.5M602.4 229.6l3.6-1.1M514.4 270.5l3.6-2.5M606 224.3l3.6-1M507 270.3l3.6-2.6M499.6 270.2l3.7-2.7M609.5 215.7l3.7-0.9M492.2 270.3l3.7-2.8M609.5 212.1l3.6-0.8M484.8 270.5l3.7-2.8M605.7 206.2l3.6-0.7M473.7 268.6l3.7-2.9M601.9 200.9l3.7-0.7M462.6 267.1l3.7-2.9M458.9 265.1l3.7-3M594.4 194.1l3.7-0.7M590.7 192.2l3.6-0.6M587 190.5l3.6-0.7M444 258l3.7-3M440.3 256.4l3.6-2.9M572.1 186.6l3.7-0.6M436.5 250.8l3.7-2.9M561 184.9l3.7-0.7M432.7 245.6l3.7-2.8M432.7 241.8l3.6-2.7M549.9 183.7l3.7-0.9M432.6 238.2l3.7-2.7M542.5 183.7l3.7-0.9M432.5 234.7l3.7-2.6M432.5 231.4l3.7-2.5M524.1 185.2l3.7-1M436.1 225.8l3.7-2.5M513 187l3.7-1.2M439.7 220.5l3.7-2.4M502 189.1l3.7-1.3M278.4 296.2l7.4-4.3M296.7 286.4l7.4-3.1M447 213.3l11-6.3M483.6 194.5l7.3-3M263.7 299.5l3.7-2.5M311.3 275.7l3.7-1M315 270l3.6-0.7M241.6 303.5l3.7-3.1M318.5 260.9l3.7-0.4M318.4 257.1l3.7-0.2M318.4 253.6l3.6-0.1M204.7 304.2l3.6-3.6M314.5 244.5l3.7 0.1M193.6 302.4l3.6-3.7M310.8 239.4l3.6 0.1M178.7 299l3.7-3.9M156.4 288.1l3.7-3.8M152.7 286.8l3.7-3.8M273.5 221.2l3.7 0.3M251.3 217.8l3.7 0M141.4 270.4l3.6-3.5M141.3 266.5l3.7-3.4M141.2 262.9l3.7-3.3M141.2 259.5l3.6-3.1M214.4 218.6l3.7-0.7M203.3 220.3l3.7-0.8M152 242.9l3.7-2.4M188.6 224l3.7-1.2" stroke="#71aff6" stroke-width="1.0"/><path d="M186.1 297.5l-3.7-2.4M156.4 283l-3.8-1.2M201 301.4l-3.8-2.7M148.8 271.5l-3.7-0.5M219.5 303.2l-3.8-3.2M226.8 303l-3.7-3.3M234.2 303.1l-3.7-3.4M241.6 303.5l-3.7-3.6M148.5 253.2l-3.7 0.2M155.7 242.5l-3.7 0.4M278.4 296.2l-3.7-4.1M166.6 233.8l-3.7 0.5M170.3 231.9l-3.7 0.5M174 230l-3.7 0.6M177.6 228.3l-3.7 0.5M307.7 282l-3.7-4M315 274.7l-3.7-3.9M210.7 219.2l-3.7 0.3M318.6 269.3l-3.7-3.8M228.2 217.4l-2.8 0M234.7 217.2l-1.9-0.1M243.9 217.4l-3.7-0.3M251.3 217.8l-3.7-0.5M318.3 247.4l-3.8-2.9M314.5 241.9l-3.7-2.5M273.5 221.2l-3.7-1M303.3 232.7l-7.5-3.9 -7.4-3.3M470 266.3l-11.2-6.1M451.4 256.6l-11.2-4.5M481.1 268.1l-3.7-2.4M440.2 247.9l-3.8-1.2M488.5 267.7l-3.7-2.5M440.1 243.9l-3.7-1.1M518 268l-3.7-3M439.9 229.5l-3.7-0.6M540.1 264.4l-3.7-3.2M447.1 218.5l-3.7-0.4M554.9 260.9l-3.7-3.2M454.4 211.4l-3.8-0.2M591.5 242.8l-3.7-3.3M491 193.2l-3.7-0.2M595.2 241.3l-3.8-3.3M494.7 191.8l-3.8-0.3M602.4 234l-3.7-3.2M509.4 188.1l-3.7-0.3M606 228.5l-3.7-3.1M520.4 186.3l-3.7-0.5M609.6 223.3l-3.7-2.9M531.5 184.8l-3.7-0.6M609.6 219.4l-3.7-2.8M538.9 184.5l-3.8-0.7M609.5 215.7l-3.7-2.8M546.2 184.5l-3.7-0.8M609.5 212.1l-3.8-2.6M553.6 184.6l-3.7-0.9M609.4 208.7l-3.7-2.5M561 184.9l-3.7-1.1M605.6 203.1l-3.7-2.2M572.1 186.6l-3.7-1.2M598.1 196l-7.4-3.8 -7.5-3.3M562.2 256.8l12.8-6.6 12.8-5.9M540.1 264.4l7.4-4.6M595.1 236.6l3.7-1.3M529.1 266l3.7-2.4M598.7 230.8l3.7-1.2M518 268l3.7-2.6M602.3 225.4l3.7-1.1M510.7 267.7l3.7-2.7M605.9 220.4l3.7-1M605.9 216.6l3.6-0.9M605.8 212.9l3.7-0.8M605.7 209.5l3.7-0.8M481.1 268.1l3.7-2.9M602 203.8l3.6-0.7M470 266.3l3.7-2.9M598.2 198.7l3.6-0.7M594.5 196.6l3.6-0.6M455.2 263.1l3.6-2.9M451.4 261.3l3.7-3M447.7 259.6l3.7-3M579.6 189.5l3.6-0.6M575.8 188l3.7-0.6M440.2 252.1l3.7-2.9M564.7 186l3.7-0.6M436.4 246.7l3.7-2.8M553.6 184.6l3.7-0.8M546.2 184.5l3.7-0.8M538.9 184.5l3.6-0.8M436.2 232.1l3.7-2.6M531.5 184.8l3.6-1M436.2 228.9l3.6-2.6M520.4 186.3l3.7-1.1M439.8 223.3l3.6-2.4M509.4 188.1l3.6-1.1M443.4 218.1l7.3-4.5M498.3 190.4l3.7-1.3M285.8 291.9l5.4-2.9 5.5-2.6M458 207l12.8-6.6 12.8-5.9M307.7 276.8l3.6-1.1M252.7 301.2l3.6-2.8M314.9 265.5l3.7-0.5M234.2 303.1l3.7-3.2M226.8 303l3.7-3.3M219.5 303.2l3.6-3.5M212.1 303.6l3.6-3.6M314.6 247.3l3.7 0.1M189.9 299.9l3.6-3.9M307 236.9l3.7 0.3M175 296.9l3.7-3.9M171.3 294.9l3.7-4M167.6 293l3.6-4M163.9 291.3l3.6-4M160.1 289.6l3.7-3.9M277.3 222.4l3.6 0.3M148.9 280.7l3.7-3.8M262.4 219.1l3.7 0.2M145.1 275.2l3.7-3.7M243.9 217.4l3.7-0.1M237.5 217.2l2.7-0.1M231 217.3l1.8-0.2M221.8 217.8l3.6-0.4M144.8 253.4l3.6-3M148.4 247.9l3.7-2.8M155.7 240.5l3.6-2.3M185 225.3l3.6-1.3" stroke="#71b8f7" stroke-width="1.0"/><path d="M182.4 295.1l-7.4-4.2M163.8 285.7l-7.4-2.7M197.2 298.7l-3.7-2.7M152.6 276.9l-3.7-0.9M208.3 300.6l-3.7-3M148.7 267.3l-3.7-0.4M148.6 256.3l-3.8 0.1M252.7 301.2l-3.8-3.8M152.1 247.5l-3.7 0.4M263.7 299.5l-3.7-3.9M159.4 240l-3.7 0.5M282.1 294l-3.7-4.1M285.8 291.9l-3.8-4.2M300.4 284.8l-3.7-4.1M304.1 283.3l-3.7-4.1M196 222.3l-3.7 0.5M311.3 275.7l-3.7-4M218.1 218.3l-3.7 0.3M318.6 265l-3.8-3.7M318.3 250.4l-3.7-3.1M262.4 219.1l-3.7-0.7M310.8 239.4l-3.8-2.5M277.3 222.4l-3.8-1.2M458.8 260.2l-7.4-3.6M477.4 265.7l-7.5-4.5M447.6 250.5l-7.4-2.6M495.9 267.5l-3.7-2.6M440 240l-3.7-0.9M503.3 267.5l-3.8-2.8M440 236.3l-3.7-0.8M510.7 267.7l-3.7-2.9M439.9 232.8l-3.7-0.7M529.1 266l-3.7-3.1M443.5 223.8l-3.7-0.5M543.8 262.1l-3.7-3.3M450.8 216.2l-3.8-0.3M558.5 258.9l-3.7-3.4M458 209.3l-3.7-0.2M562.2 256.8l-3.7-3.3M461.7 207.2l-3.7-0.2M565.8 254.8l-3.7-3.4M465.3 205.2l-3.7-0.1M569.5 252.9l-3.7-3.4M469 203.3l-3.7-0.2M580.5 247.6l-3.7-3.4M480 197.9l-3.7-0.1M584.2 245.9l-3.8-3.4M483.7 196.3l-3.8-0.2M587.8 244.3l-3.7-3.3M487.3 194.7l-3.7-0.2M598.8 235.3l-3.8-3.3M505.7 189.4l-3.7-0.3M602.4 229.6l-3.8-3.1M516.8 187.4l-3.8-0.4M606 224.3l-3.8-3M527.8 185.8l-3.7-0.6M605.9 220.4l-3.7-3M535.2 185.4l-3.7-0.6M605.7 209.5l-3.7-2.6M557.4 185.6l-3.8-1M605.7 206.2l-3.7-2.4M564.7 186l-3.7-1.1M601.9 200.9l-11.2-6.3M583.3 191.1l-11.2-4.5M547.5 259.8l3.6-2.1M587.8 239.5l7.3-2.9M532.8 263.6l3.6-2.4M595 232l3.7-1.2M521.7 265.4l3.7-2.5M602.2 221.3l3.7-0.9M503.3 267.5l3.6-2.7M495.9 267.5l3.6-2.8M488.5 267.7l3.7-2.8M602 206.9l3.7-0.7M477.4 265.7l3.6-3M598.2 201.5l3.7-0.6M466.3 264.2l3.6-3M462.6 262.1l3.6-3M590.7 194.6l3.7-0.5M587 192.8l3.7-0.6M583.3 191.1l3.7-0.6M447.7 255l3.6-3M443.9 253.5l3.7-3M568.5 187.3l3.6-0.7M440.2 247.9l3.6-2.9M557.4 185.6l3.6-0.7M436.4 242.8l3.6-2.8M436.3 239.1l3.7-2.8M436.3 235.5l3.6-2.7M527.8 185.8l3.7-1M439.8 226.3l3.7-2.5M443.4 220.9l3.7-2.4M505.7 189.4l3.7-1.3M450.7 213.6l3.7-2.2M491 193.2l7.3-2.8M267.4 297l3.6-2.5M304 278l3.7-1.2M311.3 270.8l3.7-0.8M245.3 300.4l3.6-3M314.8 261.3l3.7-0.4M314.7 250.4l3.6 0M201 301.4l3.6-3.8M310.8 241.7l3.7 0.2M303.3 234.5l3.7 0.4M299.6 232.3l3.7 0.4M281 223.6l3.7 0.4M152.6 281.8l3.7-4M266.2 219.9l3.6 0.3M255 218.3l3.7 0.1M145.1 271l3.6-3.7M144.8 256.4l3.7-3.2M210.7 219.2l3.7-0.6M152.1 245.1l3.6-2.6M199.7 221.3l3.6-1M159.3 238.2l7.3-4.4M177.6 228.3l7.4-3" stroke="#72c1f7" stroke-width="1.0"/><path d="M175 290.9l-5.6-2.8 -5.6-2.4M156.3 277.8l-3.7-0.9M152.5 272.2l-3.7-0.7M215.7 300l-3.7-3.2M148.7 263.3l-3.7-0.2M148.6 259.7l-3.7-0.1M245.3 300.4l-3.7-3.7M152.2 250.1l-3.8 0.3M155.8 244.7l-3.7 0.4M267.4 297l-3.7-4.1M163 237.6l-3.7 0.6M289.4 289.9l-3.7-4.2M293.1 288.1l-3.7-4.2M296.7 286.4l-3.7-4.2M192.4 223.4l-3.8 0.6M207.1 219.9l-3.8 0.4M315 270l-3.8-3.9M222.7 217.8l-0.9 0M318.5 260.9l-3.7-3.5M318.4 257.1l-3.7-3.4M318.4 253.6l-3.7-3.2M255 218.3l-3.7-0.5M314.5 244.5l-3.7-2.8M266.2 219.9l-3.8-0.8M307 236.9l-3.7-2.4M281 223.6l-3.7-1.2M469.9 261.2l-3.7-2.1M451.3 252l-3.7-1.5M484.8 265.2l-3.8-2.5M443.8 245l-3.7-1.1M492.2 264.9l-3.8-2.6M443.8 240.9l-3.8-0.9M514.3 265l-3.7-3M443.6 230l-3.7-0.5M521.7 265.4l-3.7-3M443.5 226.8l-3.7-0.5M532.8 263.6l-3.8-3.2M447.1 221.3l-3.7-0.4M547.5 259.8l-3.8-3.3M454.4 213.9l-3.7-0.3M573.2 251.1l-3.8-3.4M472.7 201.4l-3.7-0.1M576.8 249.3l-3.7-3.4M476.3 199.6l-3.7-0.1M591.4 238l-3.7-3.3M498.4 192l-3.7-0.2M595.1 236.6l-3.7-3.3M502 190.7l-3.7-0.3M598.7 230.8l-3.7-3.2M513.1 188.5l-3.7-0.4M602.3 225.4l-3.7-3.1M524.1 186.7l-3.7-0.4M605.9 216.6l-3.8-2.9M542.6 185.3l-3.7-0.8M605.8 212.9l-3.7-2.7M550 185.3l-3.8-0.8M602 203.8l-7.5-4.5M572.2 188.6l-7.5-2.6M590.7 194.6l-7.4-3.5M551.1 257.7l11-6.3M580.4 242.5l7.4-3M536.4 261.2l3.7-2.4M591.4 233.3l3.6-1.3M525.4 262.9l3.6-2.5M598.6 226.5l3.7-1.1M514.3 265l3.7-2.6M506.9 264.8l3.7-2.8M602.2 217.4l3.7-0.8M602.1 213.7l3.7-0.8M492.2 264.9l3.6-2.9M602.1 210.2l3.6-0.7M484.8 265.2l3.6-2.9M598.3 204.5l3.7-0.7M473.7 263.4l3.6-3M594.5 199.3l3.7-0.6M590.8 197.2l3.7-0.6M458.8 260.2l3.7-3.1M455.1 258.3l3.7-3M451.4 256.6l3.7-3M575.9 190.1l3.7-0.6M572.2 188.6l3.6-0.6M443.9 249.2l3.7-3M561.1 186.7l3.6-0.7M440.1 243.9l3.7-3M440 240l3.7-2.9M550 185.3l3.6-0.7M542.6 185.3l3.6-0.8M439.9 232.8l3.7-2.8M535.2 185.4l3.7-0.9M439.9 229.5l3.6-2.7M443.5 223.8l3.6-2.5M516.8 187.4l3.6-1.1M447.1 218.5l3.7-2.3M502 190.7l3.7-1.3M454.4 211.4l10.9-6.2M483.7 196.3l7.3-3.1M271 294.5l3.7-2.4M300.4 279.2l3.6-1.2M256.3 298.4l3.7-2.8M307.6 271.7l3.7-0.9M311.2 266.1l3.7-0.6M237.9 299.9l3.7-3.2M314.8 257.4l3.6-0.3M314.7 253.7l3.7-0.1M208.3 300.6l3.7-3.8M310.9 244.3l3.6 0.2M197.2 298.7l3.7-3.9M307.1 239l3.7 0.4M186.1 297.5l3.7-4M182.4 295.1l3.7-4M295.9 230.3l3.6 0.4M292.2 228.3l3.6 0.5M288.4 226.6l3.7 0.5M284.7 225l3.7 0.5M156.4 283l3.6-4.1M148.9 276l3.6-3.8M247.7 217.7l3.6 0.1M145 266.9l3.7-3.6M145 263.1l3.6-3.4M144.9 259.6l3.7-3.3M218.1 218.3l3.7-0.5M148.4 250.4l3.7-2.9M196 222.3l3.7-1M166.6 233.8l5.5-2.9 5.5-2.6" stroke="#72caf8" stroke-width="1.0"/><path d="M193.5 296l-3.7-2.5M160 278.9l-3.7-1.1M204.6 297.6l-3.7-2.8M223.1 299.7l-3.7-3.4M230.5 299.7l-3.7-3.6M237.9 299.9l-3.7-3.6M256.3 298.4l-3.7-4M271 294.5l-3.7-4.2M166.7 235.3l-3.7 0.6M170.4 233.1l-3.8 0.7M185 226.1l-3.7 0.7M188.7 224.7l-3.7 0.6M307.7 276.8l-3.7-4.1M203.4 220.7l-3.7 0.6M311.3 270.8l-3.7-4M214.5 218.8l-3.8 0.4M314.9 265.5l-3.7-3.8M247.7 217.7l-3.8-0.3M314.6 247.3l-3.7-3M310.8 241.7l-3.7-2.7M303.3 234.5l-7.4-4.2M284.7 225l-3.7-1.4M466.2 259.1l-7.4-3.8 -7.5-3.3M481 262.7l-3.7-2.3M447.5 246.2l-3.8-1.2M499.5 264.7l-3.7-2.7M443.7 237.1l-3.7-0.8M506.9 264.8l-3.7-2.9M443.7 233.5l-3.8-0.7M525.4 262.9l-3.8-3.1M447.2 224.2l-3.7-0.4M536.4 261.2l-3.7-3.3M450.8 218.8l-3.7-0.3M551.1 257.7l-3.7-3.4M458.1 211.6l-3.7-0.2M554.8 255.5l-3.7-3.4M461.7 209.4l-3.7-0.1M584.1 241l-3.7-3.5M491.1 194.8l-3.8-0.1M587.8 239.5l-3.8-3.4M494.7 193.4l-3.7-0.2M595 232l-3.7-3.2M509.4 189.6l-3.7-0.2M598.6 226.5l-3.7-3.2M520.5 187.8l-3.7-0.4M602.2 221.3l-3.7-3M531.5 186.3l-3.7-0.5M602.2 217.4l-3.7-2.9M538.9 186.1l-3.7-0.7M602.1 213.7l-3.7-2.7M546.3 186.1l-3.7-0.8M602.1 210.2l-3.7-2.6M553.7 186.3l-3.7-1M602 206.9l-3.7-2.4M561.1 186.7l-3.7-1.1M594.5 199.3l-3.7-2.1M575.9 190.1l-3.7-1.5M562.1 251.4l9.2-4.6 9.1-4.3M540.1 258.8l3.6-2.3M587.7 234.7l3.7-1.4M529 260.4l3.7-2.5M595 227.6l3.6-1.1M518 262.4l3.6-2.6M598.6 222.3l3.6-1M598.5 218.3l3.7-0.9M499.5 264.7l3.7-2.8M598.5 214.5l3.6-0.8M598.4 211l3.7-0.8M598.4 207.6l3.6-0.7M481 262.7l3.7-2.9M594.6 202.1l3.6-0.6M469.9 261.2l3.7-3.1M466.2 259.1l3.7-3.1M587.1 195.2l3.6-0.6M583.4 193.3l3.6-0.5M579.6 191.6l3.7-0.5M451.3 252l3.7-3.1M447.6 250.5l3.7-3M564.8 187.9l3.7-0.6M443.8 245l3.7-3M553.7 186.3l3.7-0.7M546.3 186.1l3.7-0.8M440 236.3l3.7-2.8M538.9 186.1l3.7-0.8M531.5 186.3l3.7-0.9M443.5 226.8l3.7-2.6M524.1 186.7l3.7-0.9M447.1 221.3l3.7-2.5M513.1 188.5l3.7-1.1M450.8 216.2l3.6-2.3M498.4 192l3.6-1.3M465.3 205.2l9.2-4.7 9.2-4.2M274.7 292.1l7.3-4.4M293 282.2l7.4-3M260 295.6l3.7-2.7M248.9 297.4l3.7-3M230.5 299.7l3.7-3.4M223.1 299.7l3.7-3.6M215.7 300l3.7-3.7M303.4 236.4l3.6 0.5M178.7 293l3.7-4.2M163.8 285.7l3.7-4.2M160.1 284.3l3.6-4.1M269.9 220.8l3.6 0.4M152.6 276.9l3.6-4M258.8 218.8l3.6 0.3M148.8 271.5l3.7-3.8M242.1 217.4l1.8 0M148.5 253.2l3.7-3.1M152.1 247.5l3.7-2.8M207.1 219.9l3.6-0.7M155.7 242.5l3.7-2.5M192.4 223.4l3.6-1.1" stroke="#73d3f8" stroke-width="1.0"/><path d="M189.8 293.5l-3.7-2.4M163.7 280.2l-3.7-1.3M156.2 272.9l-3.7-0.7M152.5 267.7l-3.8-0.4M152.4 263.5l-3.7-0.2M152.3 256.2l-3.7 0.1M152.2 253l-3.7 0.2M248.9 297.4l-3.7-3.9M155.8 247.1l-3.7 0.4M260 295.6l-3.7-4.1M159.4 241.9l-3.7 0.6M274.7 292.1l-3.7-4.2M174 231.1l-3.7 0.8M177.7 229.3l-3.7 0.7M181.4 227.6l-3.8 0.7M304 278l-3.7-4.3M314.8 261.3l-3.7-3.7M314.7 250.4l-3.8-3.3M258.8 218.8l-3.8-0.5M269.9 220.8l-3.7-0.9M295.9 230.3l-5.6-2.8 -5.6-2.5M477.3 260.4l-7.4-4.4M455 248.9l-7.4-2.7M488.4 262.3l-3.7-2.5M447.5 242l-3.7-1.1M495.8 262l-3.7-2.7M447.4 238l-3.7-0.9M503.2 261.9l-3.7-2.8M447.4 234.2l-3.7-0.7M510.6 262l-3.7-2.9M447.3 230.7l-3.7-0.7M518 262.4l-3.7-3.1M447.3 227.3l-3.8-0.5M529 260.4l-3.7-3.2M450.9 221.6l-3.8-0.3M540.1 258.8l-3.7-3.3M454.5 216.4l-3.7-0.2M558.5 253.5l-3.8-3.5M465.4 207.3l-3.7-0.1M562.1 251.4l-3.7-3.4M469.1 205.3l-3.8-0.1M565.8 249.5l-3.7-3.5M472.7 203.3l-3.7 0M569.4 247.7l-3.7-3.5M476.4 201.5l-3.7-0.1M573.1 245.9l-3.7-3.5M480.1 199.7l-3.8-0.1M576.8 244.2l-3.7-3.5M483.7 198l-3.7-0.1M580.4 242.5l-3.7-3.4M487.4 196.4l-3.7-0.1M591.4 233.3l-3.7-3.3M505.8 190.9l-3.8-0.2M598.6 222.3l-3.7-3.1M527.9 187.2l-3.8-0.5M598.4 207.6l-3.8-2.5M557.4 187.3l-3.7-1M598.3 204.5l-3.7-2.4M564.8 187.9l-3.7-1.2M590.8 197.2l-7.4-3.9 -7.5-3.2M543.7 256.5l7.4-4.4M584 236.1l3.7-1.4M532.7 257.9l3.7-2.4M591.3 228.8l3.7-1.2M594.9 223.3l3.7-1M510.6 262l3.7-2.7M503.2 261.9l3.7-2.8M495.8 262l3.7-2.9M488.4 262.3l3.7-3M594.6 205.1l3.7-0.6M477.3 260.4l3.7-3.1M590.9 199.8l3.6-0.5M587.1 197.7l3.7-0.5M462.5 257.1l3.7-3.1M458.8 255.3l3.6-3.1M455.1 253.6l3.6-3.1M572.2 190.6l3.7-0.5M568.5 189.1l3.7-0.5M447.5 246.2l3.6-3.1M557.4 187.3l3.7-0.6M443.8 240.9l3.6-2.9M443.7 237.1l3.7-2.9M443.7 233.5l3.6-2.8M443.6 230l3.7-2.7M520.5 187.8l3.6-1.1M450.8 218.8l3.7-2.4M509.4 189.6l3.7-1.1M454.4 213.9l7.3-4.5M494.7 193.4l3.7-1.4M282 287.7l5.5-2.9 5.5-2.6M263.7 292.9l3.6-2.6M304 272.7l3.6-1M307.6 266.8l3.6-0.7M311.2 261.7l3.6-0.4M311.1 257.6l3.7-0.2M311 250.3l3.7 0.1M310.9 247.1l3.7 0.2M204.6 297.6l3.7-3.9M307.2 241.4l3.6 0.3M193.5 296l3.7-4M299.7 234l3.6 0.5M175 290.9l3.6-4.1M171.2 289l3.7-4.2M167.5 287.3l3.7-4.2M273.6 221.9l3.7 0.5M148.7 267.3l3.7-3.8M148.6 256.3l3.6-3.3M214.5 218.8l3.6-0.5M203.4 220.7l3.7-0.8M159.4 240l3.6-2.4M188.7 224.7l3.7-1.3" stroke="#74dcf9" stroke-width="1.0"/><path d="M186.1 291.1l-7.5-4.3M167.5 281.5l-3.8-1.3M200.9 294.8l-3.7-2.8M212 296.8l-3.7-3.1M152.3 259.7l-3.7 0M241.6 296.7l-3.8-3.8M163.1 239.3l-3.7 0.7M278.4 289.9l-3.8-4.4M296.7 280.7l-3.7-4.4M300.4 279.2l-3.8-4.2M199.7 221.7l-3.7 0.6M307.6 271.7l-3.7-4.2M210.8 219.4l-3.7 0.5M311.2 266.1l-3.7-3.9M219.1 218.2l-1 0.1M314.8 257.4l-3.7-3.6M314.7 253.7l-3.7-3.4M251.4 218l-3.7-0.3M310.9 244.3l-3.7-2.9M307.1 239l-3.7-2.6M273.6 221.9l-3.7-1.1M469.9 256l-7.5-3.8 -7.4-3.3M484.7 259.8l-3.7-2.5M451.2 243.1l-3.7-1.1M492.1 259.3l-3.7-2.6M451.2 239l-3.8-1M521.6 259.8l-3.7-3.2M450.9 224.6l-3.7-0.4M532.7 257.9l-3.7-3.3M454.5 219.1l-3.7-0.3M543.7 256.5l-3.7-3.4M458.1 214l-3.7-0.1M547.4 254.3l-3.7-3.4M461.8 211.7l-3.7-0.1M587.7 234.7l-3.7-3.4M502.1 192.1l-3.7-0.1M595 227.6l-3.7-3.2M516.8 188.8l-3.7-0.3M598.5 218.3l-3.7-3M535.3 186.9l-3.8-0.6M598.5 214.5l-3.8-2.8M542.6 186.8l-3.7-0.7M598.4 211l-3.7-2.7M550 186.9l-3.7-0.8M594.6 202.1l-7.5-4.4M572.2 190.6l-7.4-2.7M551.1 252.1l7.3-4.1M573.1 240.7l10.9-4.6M536.4 255.5l3.6-2.4M587.7 230l3.6-1.2M521.6 259.8l3.7-2.6M591.3 224.4l3.6-1.1M514.3 259.3l3.6-2.7M594.9 219.2l3.6-0.9M594.8 215.3l3.7-0.8M594.7 211.7l3.7-0.7M594.7 208.3l3.7-0.7M484.7 259.8l3.7-3.1M590.9 202.6l3.7-0.5M473.6 258.1l3.7-3M583.4 195.7l3.7-0.5M579.7 193.8l3.7-0.5M576 192.1l3.6-0.5M451.3 247.5l3.6-3.1M561.1 188.4l3.7-0.5M447.5 242l3.7-3M550 186.9l3.7-0.6M542.6 186.8l3.7-0.7M535.3 186.9l3.6-0.8M447.3 227.3l3.6-2.7M527.9 187.2l3.6-0.9M447.2 224.2l3.7-2.6M516.8 188.8l3.7-1M454.5 216.4l3.6-2.4M505.8 190.9l3.6-1.3M461.7 209.4l7.4-4.1M483.7 198l11-4.6M300.3 273.7l3.7-1M252.6 294.4l3.7-2.9M241.6 296.7l3.6-3.2M311.1 253.8l3.6-0.1M212 296.8l3.7-3.8M189.8 293.5l3.7-4.1M295.9 231.7l3.7 0.6M281 224.4l3.7 0.6M277.3 223.1l3.7 0.5M156.3 277.8l3.7-4M262.5 219.5l3.7 0.4M152.5 272.2l3.7-4M251.4 218l3.6 0.3M148.7 263.3l3.6-3.6M148.6 259.7l3.7-3.5M152.2 250.1l3.6-3M155.8 244.7l3.6-2.8M163 237.6l7.4-4.5M181.4 227.6l7.3-2.9" stroke="#74e4f9" stroke-width="1.0"/><path d="M178.6 286.8l-5.6-2.8 -5.5-2.5M197.2 292l-3.7-2.6M160 273.8l-3.8-0.9M156.2 268.2l-3.7-0.5M219.4 296.3l-3.7-3.3M226.8 296.1l-3.7-3.5M234.2 296.3l-3.8-3.7M155.9 249.7l-3.7 0.4M252.6 294.4l-3.7-4M159.5 244.1l-3.7 0.6M263.7 292.9l-3.8-4.2M166.8 236.8l-3.8 0.8M282 287.7l-3.7-4.3M285.7 285.7l-3.7-4.3M289.4 283.9l-3.8-4.4M293 282.2l-3.7-4.4M196.1 222.7l-3.7 0.7M310.9 247.1l-3.7-3.1M262.5 219.5l-3.7-0.7M303.4 236.4l-3.7-2.4M277.3 223.1l-3.7-1.2M481 257.3l-7.5-4.4M458.7 245.8l-7.5-2.7M499.5 259.1l-3.7-2.7M451.1 235l-3.7-0.8M506.9 259.1l-3.8-2.9M451 231.3l-3.7-0.6M514.3 259.3l-3.8-3M451 227.9l-3.7-0.6M525.3 257.2l-3.7-3.2M454.6 222l-3.7-0.4M536.4 255.5l-3.8-3.3M458.2 216.6l-3.7-0.2M551.1 252.1l-3.8-3.5M465.5 209.5l-3.8-0.1M580.4 237.5l-3.7-3.5M494.8 194.9l-3.7-0.1M584 236.1l-3.7-3.5M498.4 193.5l-3.7-0.1M591.3 228.8l-3.7-3.3M513.2 189.9l-3.8-0.3M594.9 223.3l-3.7-3.2M524.2 188.1l-3.7-0.3M594.9 219.2l-3.8-3M531.6 187.7l-3.7-0.5M594.7 208.3l-3.7-2.6M553.7 187.9l-3.7-1M594.6 205.1l-3.7-2.5M561.1 188.4l-3.7-1.1M587.1 197.7l-7.4-3.9 -7.5-3.2M558.4 248l7.3-3.8 7.4-3.5M540 253.1l3.7-2.2M584 231.3l3.7-1.3M525.3 257.2l3.7-2.6M587.6 225.5l3.7-1.1M591.2 220.1l3.7-0.9M506.9 259.1l3.6-2.8M499.5 259.1l3.6-2.9M492.1 259.3l3.7-2.9M591 205.7l3.6-0.6M481 257.3l3.7-3M587.2 200.3l3.7-0.5M469.9 256l3.6-3.1M466.2 254l3.6-3.1M462.4 252.2l3.7-3.2M458.7 250.5l3.7-3.2M455 248.9l3.7-3.1M564.9 189.7l3.6-0.6M451.2 243.1l3.7-3M553.7 187.9l3.7-0.6M447.4 238l3.7-3M447.4 234.2l3.6-2.9M447.3 230.7l3.7-2.8M524.2 188.1l3.7-0.9M450.9 221.6l3.6-2.5M513.2 189.9l3.6-1.1M458.1 214l3.7-2.3M502.1 192.1l3.7-1.2M469.1 205.3l7.3-3.8 7.3-3.5M267.3 290.3l3.7-2.4M296.6 275l3.7-1.3M303.9 267.5l3.7-0.7M307.5 262.2l3.7-0.5M234.2 296.3l3.6-3.4M226.8 296.1l3.6-3.5M219.4 296.3l3.7-3.7M307.2 244l3.7 0.3M200.9 294.8l3.7-4.1M303.4 238.5l3.7 0.5M186.1 291.1l3.6-4.2M292.2 229.6l3.7 0.7M288.5 227.7l3.7 0.6M284.8 226l3.6 0.6M160 278.9l3.7-4.1M266.2 220.3l3.7 0.5M152.5 267.7l3.6-3.9M245.8 217.6l1.9 0.1M210.8 219.4l3.7-0.6M199.7 221.7l3.7-1M170.4 233.1l5.5-2.9 5.5-2.6" stroke="#74edfa" stroke-width="1.0"/><path d="M163.7 274.8l-3.7-1M208.3 293.7l-3.7-3M156.1 263.8l-3.7-0.3M155.9 252.7l-3.7 0.3M267.3 290.3l-3.7-4.3M170.4 234.4l-3.7 0.9M188.8 225.2l-3.8 0.9M192.4 223.9l-3.7 0.8M304 272.7l-3.8-4.3M207.1 220.1l-3.7 0.6M307.6 266.8l-3.8-4.1M218.2 218.4l-3.7 0.4M311.2 261.7l-3.8-3.9M311.1 257.6l-3.7-3.8M311 250.3l-3.7-3.4M307.2 241.4l-3.8-2.9M299.7 234l-7.5-4.4M281 224.4l-3.7-1.3M473.5 252.9l-7.4-3.9 -7.4-3.2M488.4 256.7l-3.7-2.4M454.9 240.1l-3.7-1.1M495.8 256.4l-3.8-2.7M454.8 236l-3.7-1M517.9 256.6l-3.7-3.1M454.6 225.1l-3.7-0.5M540 253.1l-3.7-3.4M461.9 214.2l-3.8-0.2M554.7 250l-3.7-3.5M469.1 207.4l-3.7-0.1M558.4 248l-3.7-3.6M472.8 205.3l-3.7 0M562.1 246l-3.8-3.5M476.5 203.4l-3.8-0.1M565.7 244.2l-3.7-3.6M480.1 201.5l-3.7 0M569.4 242.4l-3.7-3.6M483.8 199.7l-3.7 0M573.1 240.7l-3.8-3.6M487.4 198l-3.7 0M576.7 239.1l-3.7-3.6M491.1 196.4l-3.7 0M587.7 230l-3.8-3.4M509.5 191l-3.7-0.1M591.3 224.4l-3.8-3.3M520.5 189.1l-3.7-0.3M594.8 215.3l-3.7-2.9M539 187.5l-3.7-0.6M594.7 211.7l-3.7-2.8M546.4 187.6l-3.8-0.8M590.9 202.6l-7.4-4.4M568.6 191l-7.5-2.6M543.7 250.9l3.6-2.3M576.7 234l7.3-2.7M529 254.6l3.6-2.4M517.9 256.6l3.7-2.6M591.1 216.2l3.7-0.9M591.1 212.4l3.6-0.7M591 208.9l3.7-0.6M488.4 256.7l3.6-3M587.2 203.2l3.7-0.6M477.3 255.1l3.6-3.1M583.5 198.2l3.6-0.5M579.7 196.1l3.7-0.4M576 194.3l3.7-0.5M572.3 192.6l3.7-0.5M568.6 191l3.6-0.4M454.9 244.4l3.7-3.1M557.5 188.9l3.6-0.5M451.2 239l3.6-3M546.4 187.6l3.6-0.7M539 187.5l3.6-0.7M531.6 187.7l3.7-0.8M450.9 224.6l3.7-2.6M454.5 219.1l3.7-2.5M461.8 211.7l3.7-2.2M494.8 194.9l7.3-2.8M271 287.9l7.3-4.5M293 276.3l3.6-1.3M256.3 291.5l3.6-2.8M245.2 293.5l3.7-3.1M307.4 257.8l3.7-0.2M307.3 246.9l3.6 0.2M299.7 235.9l3.7 0.5M182.4 288.8l3.6-4.2M167.5 281.5l3.6-4.2M163.7 280.2l3.7-4.3M156.2 272.9l3.7-4.1M255.1 218.4l3.7 0.4M152.4 263.5l3.7-3.7M152.3 256.2l3.6-3.5M152.2 253l3.7-3.3M155.8 247.1l3.7-3M159.4 241.9l3.7-2.6M196.1 222.7l3.6-1" stroke="#73f6fa" stroke-width="1.0"/><path d="M193.5 289.4l-3.8-2.5M167.4 275.9l-3.7-1.1M159.9 268.8l-3.7-0.6M215.7 293l-3.7-3.2M156.1 259.8l-3.8-0.1M156 256.1l-3.7 0.1M245.2 293.5l-3.7-4M159.6 246.5l-3.8 0.6M256.3 291.5l-3.8-4.2M163.2 241.2l-3.8 0.7M271 287.9l-3.7-4.4M174.1 232.2l-3.7 0.9M177.8 230.2l-3.8 0.9M181.4 228.4l-3.7 0.9M185.1 226.7l-3.7 0.9M300.3 273.7l-3.7-4.3M311.1 253.8l-3.8-3.6M255.1 218.4l-3.7-0.4M303.4 238.5l-3.7-2.6M266.2 220.3l-3.7-0.8M292.2 229.6l-5.6-2.8 -5.6-2.4M484.7 254.3l-3.8-2.3M458.6 241.3l-3.7-1.2M503.1 256.2l-3.7-2.8M454.8 232.1l-3.8-0.8M510.5 256.3l-3.7-2.9M454.7 228.5l-3.7-0.6M529 254.6l-3.8-3.2M458.3 219.4l-3.8-0.3M543.7 250.9l-3.7-3.5M465.5 211.8l-3.7-0.1M580.3 232.6l-3.7-3.5M502.2 193.6l-3.8-0.1M584 231.3l-3.7-3.5M505.8 192.3l-3.7-0.2M587.6 225.5l-3.7-3.3M516.9 190.2l-3.7-0.3M591.2 220.1l-3.7-3.1M527.9 188.6l-3.7-0.5M591 208.9l-3.7-2.6M550.1 188.5l-3.7-0.9M591 205.7l-3.8-2.5M557.5 188.9l-3.8-1M583.5 198.2l-7.5-3.9 -7.4-3.3M547.3 248.6l11-6.1M569.3 237.1l7.4-3.1M532.6 252.2l3.7-2.5M583.9 226.6l3.7-1.1M521.6 254l3.6-2.6M587.5 221.1l3.7-1M510.5 256.3l3.7-2.8M587.5 217l3.6-0.8M503.1 256.2l3.7-2.8M495.8 256.4l3.6-3M587.3 206.3l3.7-0.6M484.7 254.3l3.6-3.1M583.5 200.8l3.7-0.5M473.5 252.9l3.7-3.1M469.8 250.9l3.7-3.1M466.1 249l3.7-3.1M462.4 247.3l3.6-3.1M458.7 245.8l3.6-3.1M561.2 190.2l3.7-0.5M454.9 240.1l3.6-3.1M550.1 188.5l3.6-0.6M451.1 235l3.7-2.9M451 231.3l3.7-2.8M451 227.9l3.6-2.8M527.9 188.6l3.7-0.9M454.6 222l3.7-2.6M520.5 189.1l3.7-1M458.2 216.6l3.7-2.4M509.5 191l3.7-1.1M465.5 209.5l11-6.1M487.4 198l7.4-3.1M278.3 283.4l7.3-3.9 7.4-3.2M300.2 268.4l3.7-0.9M303.8 262.7l3.7-0.5M237.8 292.9l3.7-3.4M307.4 253.8l3.7 0M307.3 250.2l3.7 0.1M208.3 293.7l3.7-3.9M303.5 240.9l3.7 0.5M197.2 292l3.6-4.1M296 233.4l3.7 0.6M178.6 286.8l3.7-4.3M174.9 284.8l3.7-4.3M171.2 283.1l3.6-4.3M269.9 221.3l3.7 0.6M160 273.8l3.6-4.2M247.7 217.7l3.7 0.3M152.3 259.7l3.7-3.6M207.1 220.1l3.7-0.7M163.1 239.3l3.7-2.5M192.4 223.9l3.7-1.2" stroke="#76fbf6" stroke-width="1.0"/><path d="M189.7 286.9l-7.4-4.4M171.1 277.3l-3.7-1.4M204.6 290.7l-3.8-2.8M159.8 264.2l-3.7-0.4M223.1 292.6l-3.8-3.4M230.4 292.6l-3.7-3.7M237.8 292.9l-3.7-3.9M166.8 238.5l-3.7 0.8M274.6 285.5l-3.7-4.4M296.6 275l-3.7-4.4M203.5 220.9l-3.8 0.8M303.9 267.5l-3.7-4.2M214.5 218.8l-3.7 0.6M307.5 262.2l-3.7-4.1M247.7 217.7l-2.8-0.2M307.2 244l-3.7-3.1M269.9 221.3l-3.7-1M480.9 252l-5.6-3.3 -5.5-2.8 -5.6-2.5 -5.6-2.1M492 253.7l-3.7-2.5M458.5 237l-3.7-1M499.4 253.4l-3.7-2.7M458.5 232.9l-3.7-0.8M514.2 253.5l-3.7-3M458.4 225.6l-3.8-0.5M521.6 254l-3.7-3.2M458.3 222.4l-3.7-0.4M532.6 252.2l-3.7-3.4M461.9 216.8l-3.7-0.2M547.3 248.6l-3.7-3.5M469.2 209.6l-3.7-0.1M551 246.5l-3.7-3.5M472.9 207.4l-3.7 0M576.7 234l-3.8-3.5M498.5 195l-3.7-0.1M583.9 226.6l-3.7-3.3M513.2 191.2l-3.7-0.2M587.5 221.1l-3.7-3.2M524.3 189.5l-3.8-0.4M591.1 216.2l-3.7-3M535.3 188.3l-3.7-0.6M591.1 212.4l-3.7-2.8M542.7 188.2l-3.7-0.7M587.2 203.2l-3.7-2.4M561.2 190.2l-3.7-1.3M558.3 242.5l11-5.4M536.3 249.7l3.7-2.3M576.6 229.1l7.3-2.5M525.2 251.4l3.7-2.6M583.9 222.2l3.6-1.1M514.2 253.5l3.7-2.7M587.4 213.2l3.7-0.8M587.4 209.6l3.6-0.7M492 253.7l3.7-3M583.6 203.7l3.6-0.5M480.9 252l3.7-3.1M579.8 198.6l3.7-0.4M576.1 196.6l3.6-0.5M572.4 194.7l3.6-0.4M568.6 193l3.7-0.4M564.9 191.5l3.7-0.5M458.6 241.3l3.7-3.1M553.8 189.5l3.7-0.6M454.8 236l3.7-3.1M542.7 188.2l3.7-0.6M535.3 188.3l3.7-0.8M454.6 225.1l3.7-2.7M458.3 219.4l3.6-2.6M516.9 190.2l3.6-1.1M461.9 214.2l3.6-2.4M502.2 193.6l7.3-2.6M476.5 203.4l10.9-5.4M259.9 288.7l3.7-2.7M296.6 269.4l3.6-1M248.9 290.4l3.6-3.1M230.4 292.6l3.7-3.6M223.1 292.6l3.6-3.7M215.7 293l3.6-3.8M303.6 243.6l3.6 0.4M193.5 289.4l3.6-4.3M292.3 231l3.6 0.7M273.7 222.4l3.6 0.7M258.8 219l3.7 0.5M156.2 268.2l3.6-4M155.9 249.7l3.7-3.2M159.5 244.1l3.7-2.9M166.8 236.8l3.6-2.4M188.8 225.2l3.6-1.3" stroke="#7dfbee" stroke-width="1.0"/><path d="M182.3 282.5l-5.6-2.9 -5.6-2.3M200.8 287.9l-3.7-2.8M163.6 269.6l-3.7-0.8M212 289.8l-3.8-3.1M159.8 259.9l-3.7-0.1M159.7 252.5l-3.8 0.2M159.6 249.3l-3.7 0.4M248.9 290.4l-3.7-4.1M163.2 243.4l-3.7 0.7M259.9 288.7l-3.7-4.3M278.3 283.4l-3.7-4.5M282 281.4l-3.7-4.5M285.6 279.5l-3.7-4.5M289.3 277.8l-3.7-4.4M293 276.3l-3.8-4.4M199.8 221.9l-3.7 0.8M307.4 257.8l-3.7-3.9M307.3 246.9l-3.7-3.3M258.8 219l-3.7-0.6M299.7 235.9l-3.7-2.5M273.7 222.4l-3.8-1.1M488.3 251.2l-3.7-2.3M462.3 238.2l-3.8-1.2M506.8 253.4l-3.7-2.9M458.4 229.2l-3.7-0.7M525.2 251.4l-3.7-3.2M462 219.7l-3.7-0.3M536.3 249.7l-3.7-3.3M465.6 214.4l-3.7-0.2M554.7 244.4l-3.7-3.5M476.5 205.3l-3.7 0M558.3 242.5l-3.7-3.6M480.2 203.3l-3.7 0.1M562 240.6l-3.7-3.6M483.8 201.5l-3.7 0M565.7 238.8l-3.8-3.5M487.5 199.7l-3.7 0M569.3 237.1l-3.7-3.5M491.2 198l-3.8 0M573 235.5l-3.7-3.5M494.8 196.4l-3.7 0M580.3 227.8l-3.8-3.4M509.5 192.4l-3.7-0.1M587.5 217l-3.7-3M531.6 189.1l-3.7-0.5M587.4 213.2l-3.7-2.9M539 188.9l-3.7-0.6M587.4 209.6l-3.8-2.7M546.4 189.1l-3.7-0.9M587.3 206.3l-3.7-2.6M553.8 189.5l-3.7-1M583.5 200.8l-5.6-3.2 -5.5-2.9 -5.6-2.4 -5.6-2.1M540 247.4l3.6-2.3M572.9 230.5l3.7-1.4M580.2 223.3l3.7-1.1M583.8 217.9l3.7-0.9M506.8 253.4l3.7-2.9M583.8 214l3.6-0.8M499.4 253.4l3.7-2.9M583.7 210.3l3.7-0.7M583.6 206.9l3.7-0.6M488.3 251.2l3.7-3M579.9 201.3l3.6-0.5M477.2 249.8l3.7-3.2M473.5 247.8l3.7-3.2M466 244.2l3.7-3.2M462.3 242.7l3.7-3.2M557.5 190.7l3.7-0.5M458.5 237l3.7-3.1M546.4 189.1l3.7-0.6M454.8 232.1l3.6-2.9M539 188.9l3.7-0.7M454.7 228.5l3.7-2.9M531.6 189.1l3.7-0.8M524.3 189.5l3.6-0.9M513.2 191.2l3.7-1M465.5 211.8l3.7-2.2M498.5 195l3.7-1.4M263.6 286l3.7-2.5M300.2 263.3l3.6-0.6M303.8 258.1l3.6-0.3M303.7 253.9l3.7-0.1M303.6 246.7l3.7 0.2M204.6 290.7l3.6-4M299.8 238l3.6 0.5M189.7 286.9l3.7-4.3M288.5 228.9l3.7 0.7M284.8 227l3.7 0.7M281.1 225.2l3.7 0.8M277.4 223.7l3.6 0.7M163.7 274.8l3.6-4.3M262.6 219.7l3.6 0.6M251.4 218l3.7 0.4M156.1 263.8l3.7-3.9M155.9 252.7l3.7-3.4M214.5 218.8l3.7-0.4M203.5 220.9l3.6-0.8M170.4 234.4l9.2-5.1 4.6-2.2 4.6-1.9" stroke="#84fbe5" stroke-width="1.0"/><path d="M167.3 270.5l-3.7-0.9M159.7 256l-3.7 0.1M241.5 289.5l-3.7-3.9M263.6 286l-3.7-4.3M170.5 235.9l-3.7 0.9M196.1 223l-3.7 0.9M300.2 268.4l-3.7-4.3M210.9 219.4l-3.7 0.7M303.8 262.7l-3.7-4.2M221.9 217.9l-3.7 0.5M307.4 253.8l-3.7-3.7M307.3 250.2l-3.7-3.5M251.4 218l-3.7-0.3M303.5 240.9l-3.7-2.9M296 233.4l-3.7-2.4M277.4 223.7l-3.7-1.3M484.6 248.9l-7.4-4.3M469.7 241l-7.4-2.8M495.7 250.7l-3.7-2.5M462.2 233.9l-3.7-1M503.1 250.5l-3.7-2.8M462.1 230l-3.7-0.8M510.5 250.5l-3.7-2.9M462.1 226.3l-3.7-0.7M517.9 250.8l-3.8-3.1M462 222.8l-3.7-0.4M528.9 248.8l-3.7-3.2M465.6 217.1l-3.7-0.3M540 247.4l-3.8-3.4M469.2 212l-3.7-0.2M576.6 229.1l-3.7-3.4M505.9 193.7l-3.7-0.1M583.9 222.2l-3.7-3.3M520.6 190.5l-3.7-0.3M583.6 203.7l-3.7-2.4M557.5 190.7l-3.7-1.2M543.6 245.1l11-6.2M565.6 233.6l7.3-3.1M528.9 248.8l3.7-2.4M576.5 224.4l3.7-1.1M517.9 250.8l3.6-2.6M580.1 218.9l3.6-1M510.5 250.5l3.6-2.8M503.1 250.5l3.7-2.9M495.7 250.7l3.7-3M579.9 204.3l3.7-0.6M484.6 248.9l3.7-3.1M576.1 199.1l3.7-0.5M572.4 197.1l3.7-0.5M469.8 245.9l3.6-3.2M565 193.5l3.6-0.5M561.2 192l3.7-0.5M462.3 238.2l3.6-3.1M550.1 190.1l3.7-0.6M458.5 232.9l3.6-2.9M458.4 229.2l3.7-2.9M458.4 225.6l3.6-2.8M458.3 222.4l3.7-2.7M520.6 190.5l3.7-1M461.9 216.8l3.7-2.4M509.5 192.4l3.7-1.2M469.2 209.6l11-6.3M491.2 198l7.3-3M267.3 283.5l3.6-2.4M289.2 271.9l7.4-2.5M252.5 287.3l3.7-2.9M241.5 289.5l3.7-3.2M303.7 250.1l3.6 0.1M212 289.8l3.6-4M296 235.2l3.7 0.7M186 284.6l3.7-4.4M167.4 275.9l3.7-4.3M159.9 268.8l3.7-4.1M156.1 259.8l3.6-3.8M156 256.1l3.7-3.6M221.9 217.9l0.9-0.1M159.6 246.5l3.6-3.1M163.2 241.2l3.6-2.7M199.8 221.9l3.7-1" stroke="#8bfbdc" stroke-width="1.0"/><path d="M197.1 285.1l-3.7-2.5M171.1 271.6l-3.8-1.1M163.6 264.7l-3.8-0.5M219.3 289.2l-3.7-3.4M226.7 288.9l-3.7-3.6M234.1 289l-3.7-3.7M163.3 246l-3.7 0.5M252.5 287.3l-3.7-4.2M166.9 240.5l-3.7 0.7M174.2 233.5l-3.8 0.9M177.8 231.3l-3.7 0.9M188.8 225.8l-3.7 0.9M192.5 224.3l-3.7 0.9M296.6 269.4l-3.8-4.4M236.7 217.2l-1 0M244.1 217.4l-1.9-0.1M303.6 243.6l-3.8-3.2M299.8 238l-3.8-2.8M262.6 219.7l-3.8-0.7M292.3 231l-7.5-4 -7.4-3.3M477.2 244.6l-7.5-3.6M492 248.2l-3.7-2.4M465.9 235.1l-3.7-1.2M521.5 248.2l-3.7-3.2M465.7 220.1l-3.7-0.4M543.6 245.1l-3.7-3.4M472.9 209.7l-3.7-0.1M547.3 243l-3.7-3.5M476.6 207.5l-3.8-0.1M572.9 230.5l-3.7-3.5M502.2 195l-3.7 0M580.2 223.3l-3.7-3.4M516.9 191.5l-3.7-0.3M583.8 217.9l-3.7-3.1M528 189.9l-3.7-0.4M583.8 214l-3.8-3M535.4 189.7l-3.8-0.6M583.7 210.3l-3.7-2.8M542.8 189.7l-3.8-0.8M583.6 206.9l-3.7-2.6M550.1 190.1l-3.7-1M579.9 201.3l-7.5-4.2M565 193.5l-7.5-2.8M554.6 238.9l11-5.3M532.6 246.4l3.6-2.4M572.9 225.7l3.6-1.3M521.5 248.2l3.7-2.6M580.1 214.8l3.7-0.8M580 211l3.7-0.7M580 207.5l3.6-0.6M492 248.2l3.6-3.1M576.2 201.9l3.7-0.6M480.9 246.6l3.6-3.1M568.7 195.2l3.7-0.5M466 239.5l3.6-3.1M553.9 191.2l3.6-0.5M462.2 233.9l3.7-3M542.8 189.7l3.6-0.6M535.4 189.7l3.6-0.8M528 189.9l3.6-0.8M462 219.7l3.6-2.6M465.6 214.4l3.6-2.4M505.9 193.7l3.6-1.3M480.2 203.3l11-5.3M270.9 281.1l7.4-4.2M285.6 273.4l3.6-1.5M296.5 264.1l3.7-0.8M300.1 258.5l3.7-0.4M234.1 289l3.7-3.4M226.7 288.9l3.7-3.6M219.3 289.2l3.7-3.9M299.8 240.4l3.7 0.5M200.8 287.9l3.7-4.2M292.3 232.7l3.7 0.7M182.3 282.5l3.7-4.4M178.6 280.5l3.6-4.3M174.8 278.8l3.7-4.4M171.1 277.3l3.7-4.4M266.3 220.6l3.6 0.7M163.6 269.6l3.7-4.2M159.8 264.2l3.7-4M244.1 217.4l3.6 0.3M236.7 217.2l0.9 0M210.9 219.4l3.7-0.6M166.8 238.5l3.7-2.6" stroke="#93fbd2" stroke-width="1.0"/><path d="M193.4 282.6l-3.7-2.4M174.8 272.9l-3.7-1.3M208.2 286.7l-3.7-3M167.3 265.4l-3.7-0.7M163.5 260.2l-3.7-0.3M163.3 249l-3.7 0.3M267.3 283.5l-3.8-4.4M181.5 229.3l-3.7 0.9M185.1 227.4l-3.7 1M292.9 270.6l-3.7-4.5M207.2 220.1l-3.7 0.8M300.2 263.3l-3.7-4.2M218.2 218.3l-3.7 0.5M303.8 258.1l-3.7-4M303.6 246.7l-3.7-3.4M255.2 218.5l-3.8-0.5M266.3 220.6l-3.7-0.9M488.3 245.8l-7.5-4.3M473.4 237.9l-7.5-2.8M499.4 247.7l-3.8-2.6M465.9 230.9l-3.8-0.9M506.8 247.6l-3.8-2.8M465.8 227l-3.7-0.7M514.1 247.7l-3.7-2.9M465.8 223.4l-3.8-0.6M532.6 246.4l-3.7-3.4M469.3 214.6l-3.7-0.2M551 240.9l-3.8-3.5M480.2 205.4l-3.7-0.1M554.6 238.9l-3.7-3.5M483.9 203.4l-3.7-0.1M558.3 237l-3.7-3.5M487.6 201.5l-3.8 0M561.9 235.3l-3.7-3.6M491.2 199.7l-3.7 0M565.6 233.6l-3.7-3.6M494.9 198l-3.7 0M569.3 232l-3.7-3.5M498.6 196.5l-3.8-0.1M576.5 224.4l-3.7-3.3M513.3 192.6l-3.8-0.2M580.1 218.9l-3.8-3.2M524.3 190.8l-3.7-0.3M579.9 204.3l-3.7-2.4M553.9 191.2l-3.8-1.1M572.4 197.1l-7.4-3.6M536.2 244l7.4-4.5M569.2 227l3.7-1.3M525.2 245.6l3.7-2.6M576.5 219.9l3.7-1M514.1 247.7l3.7-2.7M506.8 247.6l3.6-2.8M499.4 247.7l3.6-2.9M576.3 204.9l3.6-0.6M572.5 199.6l3.6-0.5M477.2 244.6l3.6-3.1M473.4 242.7l3.7-3.1M469.7 241l3.7-3.1M557.6 192.5l3.6-0.5M546.5 190.6l3.6-0.5M462.1 230l3.7-3M462.1 226.3l3.7-2.9M462 222.8l3.7-2.7M465.6 217.1l3.7-2.5M516.9 191.5l3.7-1M469.2 212l7.4-4.5M502.2 195l3.7-1.3M278.3 276.9l7.3-3.5M256.2 284.4l3.7-2.7M245.2 286.3l3.6-3.2M300.1 254.1l3.6-0.2M299.9 243.3l3.7 0.3M208.2 286.7l3.7-4.1M197.1 285.1l3.7-4.2M288.6 230.3l3.7 0.7M270 221.7l3.7 0.7M255.2 218.5l3.6 0.5M159.8 259.9l3.6-3.9M159.6 249.3l3.7-3.3M163.2 243.4l3.7-2.9M170.5 235.9l3.7-2.4M196.1 223l3.7-1.1" stroke="#9bfbc9" stroke-width="1.0"/><path d="M189.7 280.2l-7.5-4 -7.4-3.3M204.5 283.7l-3.7-2.8M215.6 285.8l-3.7-3.2M163.4 256l-3.7 0M163.4 252.3l-3.7 0.2M245.2 286.3l-3.8-4.1M166.9 242.8l-3.7 0.6M256.2 284.4l-3.7-4.2M170.5 237.7l-3.7 0.8M270.9 281.1l-3.7-4.5M274.6 278.9l-3.7-4.5M289.2 271.9l-3.7-4.5M203.5 221l-3.7 0.9M225.6 217.5l-3.7 0.4M303.7 253.9l-3.7-3.8M303.7 250.1l-3.8-3.6M299.8 240.4l-3.7-3M296 235.2l-3.7-2.5M270 221.7l-3.7-1.1M480.8 241.5l-7.4-3.6M495.6 245.1l-3.7-2.4M469.6 232l-3.7-1.1M525.2 245.6l-3.7-3.2M469.4 217.5l-3.8-0.4M536.2 244l-3.7-3.4M473 212.2l-3.8-0.2M539.9 241.7l-3.7-3.4M476.6 209.8l-3.7-0.1M572.9 225.7l-3.7-3.4M509.6 193.8l-3.7-0.1M576.5 219.9l-3.7-3.2M520.7 191.8l-3.8-0.3M580.1 214.8l-3.7-3M531.7 190.5l-3.7-0.6M580 211l-3.7-2.8M539.1 190.4l-3.7-0.7M580 207.5l-3.7-2.6M546.5 190.6l-3.7-0.9M576.2 201.9l-3.7-2.3M557.6 192.5l-3.7-1.3M543.6 239.5l7.3-4.1M558.2 231.7l11-4.7M528.9 243l3.6-2.4M572.8 221.1l3.7-1.2M517.8 245l3.7-2.6M576.4 215.7l3.7-0.9M576.4 211.8l3.6-0.8M576.3 208.2l3.7-0.7M495.6 245.1l3.7-2.9M488.3 245.8l3.6-3.1M484.5 243.5l3.7-3.1M568.8 197.5l3.6-0.4M565 195.7l3.7-0.5M561.3 194l3.7-0.5M469.7 236.4l3.7-3.1M465.9 235.1l3.7-3.1M465.9 230.9l3.6-3M539.1 190.4l3.7-0.7M531.7 190.5l3.7-0.8M465.7 220.1l3.7-2.6M524.3 190.8l3.7-0.9M469.3 214.6l3.7-2.4M513.3 192.6l3.6-1.1M476.6 207.5l7.3-4.1M491.2 199.7l11-4.7M259.9 281.7l3.6-2.6M292.8 265l3.7-0.9M296.5 259.1l3.6-0.6M237.8 285.6l3.6-3.4M300 250.1l3.7 0M299.9 246.5l3.7 0.2M296.1 237.4l3.7 0.6M193.4 282.6l3.7-4.3M284.9 228.1l3.6 0.8M281.2 226.2l3.6 0.8M277.4 224.5l3.7 0.7M273.7 223l3.7 0.7M167.3 270.5l3.7-4.3M258.9 219.1l3.7 0.6M163.6 264.7l3.6-4.1M247.8 217.6l3.6 0.4M159.7 256l3.7-3.7M159.7 252.5l3.6-3.5M218.2 218.3l3.7-0.4M207.2 220.1l3.6-0.7M174.2 233.5l3.6-2.2M188.8 225.8l7.3-2.8" stroke="#a3fbbf" stroke-width="1.0"/><path d="M171 266.2l-3.7-0.8M167.2 260.6l-3.7-0.4M223 285.3l-3.7-3.4M230.4 285.3l-3.7-3.7M237.8 285.6l-3.7-3.9M174.2 235.1l-3.7 0.8M278.3 276.9l-3.8-4.5M281.9 275l-3.7-4.5M285.6 273.4l-3.7-4.5M199.9 222.1l-3.8 0.9M296.5 264.1l-3.7-4.3M214.6 218.8l-3.8 0.6M300.1 258.5l-3.7-4M233 217.1l-3.7 0.2M240.4 217.2l-3.7 0M247.8 217.6l-3.7-0.2M258.9 219.1l-3.7-0.6M292.3 232.7l-3.7-2.4M273.7 223l-3.7-1.3M491.9 242.7l-3.7-2.3M473.3 233.3l-3.7-1.3M503 244.8l-3.7-2.6M469.5 227.9l-3.7-0.9M510.4 244.8l-3.7-2.9M469.5 224.1l-3.7-0.7M517.8 245l-3.7-3M469.4 220.6l-3.7-0.5M528.9 243l-3.8-3.2M473 214.9l-3.7-0.3M543.6 239.5l-3.8-3.5M480.3 207.6l-3.7-0.1M565.6 228.5l-3.8-3.5M502.3 196.6l-3.7-0.1M569.2 227l-3.7-3.4M505.9 195.2l-3.7-0.2M576.4 215.7l-3.7-3M528 191.3l-3.7-0.5M576.3 204.9l-3.8-2.5M550.2 191.7l-3.7-1.1M572.5 199.6l-7.5-3.9 -7.4-3.2M550.9 235.4l7.3-3.7M532.5 240.6l3.7-2.3M569.2 222.3l3.6-1.2M572.8 216.7l3.6-1M510.4 244.8l3.7-2.8M503 244.8l3.7-2.9M572.6 205.5l3.7-0.6M572.5 202.4l3.7-0.5M568.8 200.1l3.7-0.5M480.8 241.5l3.7-3.1M477.1 239.6l3.7-3.1M473.4 237.9l3.6-3.1M553.9 193l3.7-0.5M550.2 191.7l3.7-0.5M542.8 191.3l3.7-0.7M465.8 227l3.7-2.9M465.8 223.4l3.6-2.8M520.7 191.8l3.6-1M473 212.2l3.6-2.4M509.6 193.8l3.7-1.2M483.9 203.4l7.3-3.7M263.5 279.1l3.7-2.5M289.2 266.1l3.6-1.1M248.8 283.1l3.7-2.9M230.4 285.3l3.7-3.6M223 285.3l3.7-3.7M215.6 285.8l3.7-3.9M296.2 240l3.6 0.4M204.5 283.7l3.7-4.1M292.4 234.6l3.6 0.6M189.7 280.2l3.6-4.3M171.1 271.6l3.6-4.3M240.4 217.2l3.7 0.2M233 217.1l3.7 0.1M225.6 217.5l3.7-0.2M163.3 246l3.6-3.2M166.9 240.5l3.6-2.8M177.8 231.3l5.5-3 5.5-2.5" stroke="#abfbb5" stroke-width="1.0"/><path d="M200.8 280.9l-3.7-2.6M174.7 267.3l-3.7-1.1M211.9 282.6l-3.7-3M167.2 256.2l-3.8-0.2M167 245.6l-3.7 0.4M248.8 283.1l-3.7-4.1M170.6 239.8l-3.7 0.7M259.9 281.7l-3.7-4.4M177.9 232.6l-3.7 0.9M196.2 223.4l-3.7 0.9M292.8 265l-3.7-4.3M300.1 254.1l-3.8-3.9M299.9 243.3l-3.7-3.3M296.1 237.4l-3.7-2.8M288.6 230.3l-7.4-4.1 -7.5-3.2M488.2 240.4l-7.4-3.9 -7.5-3.2M499.3 242.2l-3.7-2.5M473.3 229l-3.8-1.1M521.5 242.4l-3.8-3.1M473.1 218l-3.7-0.5M532.5 240.6l-3.7-3.3M476.7 212.4l-3.7-0.2M547.2 237.4l-3.7-3.5M484 205.5l-3.8-0.1M550.9 235.4l-3.7-3.5M487.6 203.5l-3.7-0.1M554.6 233.5l-3.8-3.5M491.3 201.6l-3.7-0.1M558.2 231.7l-3.7-3.5M494.9 199.8l-3.7-0.1M561.9 230l-3.7-3.4M498.6 198.1l-3.7-0.1M572.8 221.1l-3.7-3.3M517 192.9l-3.7-0.3M576.4 211.8l-3.8-2.9M535.4 191.2l-3.7-0.7M576.3 208.2l-3.7-2.7M542.8 191.3l-3.7-0.9M572.5 202.4l-3.7-2.3M553.9 193l-3.7-1.3M536.2 238.3l3.6-2.3M561.8 225l7.4-2.7M521.5 242.4l3.6-2.6M569.1 217.8l3.7-1.1M514.1 242l3.6-2.7M572.7 212.7l3.7-0.9M572.6 208.9l3.7-0.7M499.3 242.2l3.7-3M491.9 242.7l3.7-3M488.2 240.4l3.7-3M565.1 198.1l3.7-0.6M561.4 196.2l3.6-0.5M557.6 194.5l3.7-0.5M473.3 233.3l3.7-3M469.6 232l3.7-3M469.5 227.9l3.7-2.9M535.4 191.2l3.7-0.8M469.4 220.6l3.7-2.6M528 191.3l3.7-0.8M469.4 217.5l3.6-2.6M517 192.9l3.7-1.1M476.6 209.8l3.7-2.2M502.3 196.6l7.3-2.8M267.2 276.6l3.7-2.2M285.5 267.4l3.7-1.3M292.8 259.8l3.7-0.7M296.4 254.5l3.7-0.4M296.2 243l3.7 0.3M186 278.1l3.6-4.3M182.2 276.2l3.7-4.4M178.5 274.4l3.7-4.3M174.8 272.9l3.7-4.3M262.6 220l3.7 0.6M167.3 265.4l3.7-4.2M251.5 218l3.7 0.5M163.5 260.2l3.7-4M163.3 249l3.7-3.4M214.6 218.8l3.6-0.5M170.5 237.7l3.7-2.6M203.5 221l3.7-0.9" stroke="#b4fcab" stroke-width="1.0"/><path d="M197.1 278.3l-3.8-2.4M178.5 268.6l-3.8-1.3M171 261.2l-3.8-0.6M167.1 252.3l-3.7 0M167.1 248.7l-3.8 0.3M263.5 279.1l-3.7-4.4M181.5 230.4l-3.7 0.9M185.2 228.3l-3.7 1M188.9 226.5l-3.8 0.9M192.5 224.8l-3.7 1M210.9 219.4l-3.7 0.7M296.5 259.1l-3.8-4.2M222 217.8l-3.8 0.5M300 250.1l-3.7-3.7M299.9 246.5l-3.7-3.5M251.5 218l-3.7-0.4M262.6 220l-3.7-0.9M495.6 239.7l-3.7-2.3M477 230.3l-3.7-1.3M506.7 241.9l-3.7-2.7M473.2 225l-3.7-0.9M514.1 242l-3.7-2.9M473.1 221.3l-3.7-0.7M525.1 239.8l-3.7-3.1M476.7 215.4l-3.7-0.5M536.2 238.3l-3.7-3.3M480.4 210.1l-3.8-0.3M565.5 223.6l-3.7-3.3M509.7 195.4l-3.8-0.2M569.2 222.3l-3.8-3.3M513.3 194.1l-3.7-0.3M572.8 216.7l-3.8-3.1M524.4 192.3l-3.7-0.5M572.7 212.7l-3.7-2.9M531.8 192l-3.8-0.7M572.6 208.9l-3.7-2.7M539.1 192l-3.8-0.8M572.6 205.5l-3.7-2.5M546.5 192.4l-3.7-1.1M568.8 200.1l-7.4-3.9 -7.5-3.2M539.8 236l11-6 11-5M525.1 239.8l3.7-2.5M565.4 219l3.7-1.2M569 213.6l3.7-0.9M506.7 241.9l3.7-2.8M569 209.8l3.6-0.9M568.9 206.2l3.7-0.7M568.9 203l3.6-0.6M565.1 200.7l3.7-0.6M484.5 238.4l3.6-3.1M480.8 236.5l3.6-3.1M477 234.8l3.7-3.1M550.3 193.6l3.6-0.6M546.5 192.4l3.7-0.7M539.1 192l3.6-0.7M469.5 224.1l3.6-2.8M531.8 192l3.6-0.8M524.4 192.3l3.6-1M473 214.9l3.7-2.5M513.3 194.1l3.7-1.2M480.3 207.6l11-6 11-5M270.9 274.4l7.3-3.9 7.3-3.1M252.5 280.2l3.7-2.9M241.4 282.2l3.7-3.2M296.3 250.2l3.7-0.1M296.3 246.4l3.6 0.1M211.9 282.6l3.7-4M292.4 237l3.7 0.4M200.8 280.9l3.7-4.2M288.7 232l3.6 0.7M266.3 221l3.7 0.7M163.4 256l3.7-3.7M163.4 252.3l3.7-3.6M166.9 242.8l3.7-3M199.9 222.1l3.6-1.1" stroke="#bdfca0" stroke-width="1.0"/><path d="M193.3 275.9l-7.4-4.1 -7.4-3.2M208.2 279.6l-3.7-2.9M219.3 281.9l-3.7-3.3M226.7 281.6l-3.8-3.5M234.1 281.7l-3.8-3.7M241.4 282.2l-3.7-3.9M170.7 242.3l-3.8 0.5M252.5 280.2l-3.7-4.2M174.3 237l-3.8 0.7M267.2 276.6l-3.7-4.4M289.2 266.1l-3.7-4.4M229.3 217.2l-3.7 0.3M236.7 217.1l-3.7 0M244.1 217.3l-3.7-0.1M296.2 240l-3.8-3M292.4 234.6l-3.7-2.6M491.9 237.4l-7.5-4 -7.4-3.1M503 239.2l-3.7-2.5M476.9 226.1l-3.7-1.1M510.4 239.1l-3.8-2.7M476.9 222.2l-3.8-0.9M517.7 239.3l-3.7-2.9M476.8 218.6l-3.7-0.6M528.8 237.3l-3.7-3.1M480.4 212.9l-3.7-0.5M539.8 236l-3.7-3.3M484 207.8l-3.7-0.2M543.5 233.9l-3.7-3.3M487.7 205.7l-3.7-0.2M558.2 226.6l-3.8-3.4M502.3 198.3l-3.7-0.2M561.8 225l-3.7-3.3M506 196.8l-3.7-0.2M569.1 217.8l-3.7-3.1M520.7 193.4l-3.7-0.5M568.9 203l-3.8-2.3M550.3 193.6l-3.8-1.2M528.8 237.3l3.7-2.3M561.8 220.3l3.6-1.3M517.7 239.3l3.7-2.6M565.4 214.7l3.6-1.1M510.4 239.1l3.6-2.7M503 239.2l3.6-2.8M495.6 239.7l3.7-3M565.2 203.7l3.7-0.7M491.9 237.4l3.6-3M561.4 198.6l3.7-0.5M557.7 196.8l3.7-0.6M554 195.1l3.6-0.6M477 230.3l3.6-3M473.3 229l3.6-2.9M542.9 193.1l3.6-0.7M473.2 225l3.7-2.8M473.1 221.3l3.7-2.7M473.1 218l3.6-2.6M520.7 193.4l3.7-1.1M476.7 212.4l3.7-2.3M509.7 195.4l3.6-1.3M289.1 260.7l3.7-0.9M292.7 254.9l3.7-0.4M234.1 281.7l3.6-3.4M226.7 281.6l3.6-3.6M219.3 281.9l3.6-3.8M284.9 229.6l3.7 0.7M281.2 227.4l3.7 0.7M277.5 225.5l3.7 0.7M273.8 223.8l3.6 0.7M270.1 222.3l3.6 0.7M171 266.2l3.7-4.2M255.2 218.6l3.7 0.5M167.2 260.6l3.7-4M244.1 217.3l3.7 0.3M236.7 217.1l3.7 0.1M229.3 217.2l3.7-0.1M222 217.8l3.6-0.3M210.9 219.4l3.7-0.6M174.2 235.1l3.7-2.5M196.2 223.4l3.7-1.3" stroke="#c6fc95" stroke-width="1.0"/><path d="M174.7 262l-3.7-0.8M170.9 256.6l-3.7-0.4M170.7 245.3l-3.7 0.3M177.9 234.3l-3.7 0.8M270.9 274.4l-3.8-4.4M274.5 272.4l-3.7-4.5M278.2 270.5l-3.7-4.4M281.9 268.9l-3.8-4.5M285.5 267.4l-3.7-4.4M207.2 220.3l-3.7 0.7M292.8 259.8l-3.7-4.2M218.3 218.2l-3.7 0.6M296.4 254.5l-3.7-4M296.2 243l-3.7-3.3M255.2 218.6l-3.7-0.6M288.7 232l-3.8-2.4M266.3 221l-3.7-1M499.3 236.7l-3.8-2.3M480.6 227.3l-3.7-1.2M521.4 236.7l-3.7-3M480.5 216l-3.8-0.6M532.5 235l-3.8-3.2M484.1 210.5l-3.7-0.4M547.2 231.9l-3.7-3.4M491.3 203.7l-3.7-0.2M550.8 230l-3.7-3.3M495 201.8l-3.7-0.2M554.5 228.2l-3.7-3.3M498.7 200l-3.8-0.2M565.4 219l-3.7-3.2M517 194.5l-3.7-0.4M569 213.6l-3.7-2.9M528.1 192.9l-3.7-0.6M569 209.8l-3.7-2.8M535.5 192.8l-3.7-0.8M568.9 206.2l-3.7-2.5M542.9 193.1l-3.7-1.1M565.1 200.7l-7.4-3.9 -7.4-3.2M532.5 235l7.3-4.4M558.1 221.7l3.7-1.4M521.4 236.7l3.7-2.5M565.3 210.7l3.7-0.9M565.3 207l3.6-0.8M499.3 236.7l3.6-2.8M561.5 201.4l3.6-0.7M488.1 235.3l3.7-3M484.4 233.4l3.7-3M480.7 231.7l3.7-2.9M546.6 194.3l3.7-0.7M476.9 226.1l3.7-2.9M535.5 192.8l3.7-0.8M528.1 192.9l3.7-0.9M476.7 215.4l3.7-2.5M480.4 210.1l7.3-4.4M506 196.8l3.7-1.4M256.2 277.3l3.6-2.6M285.5 261.7l3.6-1M245.1 279l3.7-3M292.7 250.5l3.6-0.3M292.5 239.7l3.7 0.3M208.2 279.6l3.6-4.1M288.7 234.1l3.7 0.5M197.1 278.3l3.6-4.2M174.7 267.3l3.7-4.2M167.2 256.2l3.6-3.8M167 245.6l3.7-3.3M170.6 239.8l3.7-2.8M177.9 232.6l4.6-2.7 4.5-2.5 4.6-2.2 4.6-1.8" stroke="#d0fc8a" stroke-width="1.0"/><path d="M204.5 276.7l-3.8-2.6M178.4 263.1l-3.7-1.1M215.6 278.6l-3.8-3.1M170.8 252.4l-3.7-0.1M170.8 248.6l-3.7 0.1M245.1 279l-3.7-4M174.3 239.3l-3.7 0.5M256.2 277.3l-3.8-4.2M181.6 231.9l-3.7 0.7M203.6 221.3l-3.7 0.8M296.3 250.2l-3.7-3.7M296.3 246.4l-3.7-3.5M292.4 237l-3.7-2.9M284.9 229.6l-4.6-2.7 -4.7-2.3 -4.6-2 -4.7-1.6M495.5 234.4l-7.4-4 -7.5-3.1M506.6 236.4l-3.7-2.5M480.6 223.2l-3.7-1M514 236.4l-3.7-2.8M480.5 219.4l-3.7-0.8M536.1 232.7l-3.7-3.2M487.7 208.2l-3.7-0.4M558.1 221.7l-3.7-3.2M509.7 197.2l-3.7-0.4M561.8 220.3l-3.8-3.2M513.4 195.8l-3.7-0.4M565.4 214.7l-3.7-3M524.4 193.9l-3.7-0.5M565.3 207l-3.8-2.5M539.2 193.8l-3.7-1M565.2 203.7l-3.7-2.3M546.6 194.3l-3.7-1.2M539.8 230.6l9.1-4.8 9.2-4.1M525.1 234.2l3.6-2.4M561.7 215.8l3.7-1.1M514 236.4l3.7-2.7M561.7 211.7l3.6-1M506.6 236.4l3.7-2.8M561.5 204.5l3.7-0.8M495.5 234.4l3.7-2.9M557.8 199.3l3.6-0.7M554 197.4l3.7-0.6M550.3 195.7l3.7-0.6M480.6 227.3l3.7-2.9M539.2 193.8l3.7-0.7M476.9 222.2l3.6-2.8M476.8 218.6l3.7-2.6M524.4 193.9l3.7-1M480.4 212.9l3.7-2.4M517 194.5l3.7-1.1M487.7 205.7l9.1-4.8 9.2-4.1M259.8 274.7l3.7-2.5M281.8 263l3.7-1.3M289.1 255.6l3.6-0.7M292.6 246.5l3.7-0.1M292.6 242.9l3.6 0.1M193.3 275.9l3.7-4.2M189.6 273.8l3.7-4.3M182.2 270.1l3.6-4.3M178.5 268.6l3.6-4.3M258.9 219.4l3.7 0.6M171 261.2l3.6-4M247.8 217.7l3.7 0.3M167.1 252.3l3.7-3.7M167.1 248.7l3.6-3.4M218.3 218.2l3.7-0.4M207.2 220.3l3.7-0.9" stroke="#d9fc7f" stroke-width="1.0"/><path d="M200.7 274.1l-3.7-2.4M174.6 257.2l-3.7-0.6M222.9 278.1l-3.7-3.3M230.3 278l-3.7-3.6M237.7 278.3l-3.7-3.8M259.8 274.7l-3.7-4.2M185.3 229.6l-3.8 0.8M188.9 227.5l-3.7 0.8M196.3 224l-3.8 0.8M199.9 222.6l-3.7 0.8M289.1 260.7l-3.7-4.3M214.6 218.9l-3.7 0.5M292.7 254.9l-3.7-4M225.7 217.5l-3.7 0.3M233.1 217.1l-3.8 0.1M240.5 217.2l-3.8-0.1M247.8 217.7l-3.7-0.4M258.9 219.4l-3.7-0.8M502.9 233.9l-7.4-4.5M488 225.9l-7.4-2.7M510.3 233.6l-3.7-2.5M484.2 220.4l-3.7-1M517.7 233.7l-3.7-2.7M484.2 216.7l-3.7-0.7M525.1 234.2l-3.7-3M484.1 213.4l-3.7-0.5M539.8 230.6l-3.7-3.2M491.4 206l-3.7-0.3M543.5 228.5l-3.8-3.2M495.1 204l-3.8-0.3M547.1 226.7l-3.7-3.2M498.7 202.1l-3.7-0.3M550.8 224.9l-3.7-3.2M502.4 200.3l-3.7-0.3M554.4 223.2l-3.7-3.2M506.1 198.7l-3.8-0.4M561.7 215.8l-3.7-2.9M520.8 195.1l-3.8-0.6M565.3 210.7l-3.7-2.8M531.8 193.7l-3.7-0.8M561.5 201.4l-7.5-4 -7.4-3.1M528.7 231.8l3.7-2.3M554.4 218.5l7.3-2.7M517.7 233.7l3.7-2.5M510.3 233.6l3.7-2.6M561.6 207.9l3.7-0.9M502.9 233.9l3.7-2.8M557.8 202.2l3.7-0.8M491.8 232.3l3.7-2.9M488.1 230.4l3.7-2.9M484.4 228.8l3.6-2.9M542.9 195.1l3.7-0.8M480.6 223.2l3.6-2.8M480.5 219.4l3.7-2.7M531.8 193.7l3.7-0.9M480.5 216l3.6-2.6M484.1 210.5l3.6-2.3M509.7 197.2l7.3-2.7M263.5 272.2l4.6-2.7 4.5-2.5 4.6-2.2 4.6-1.8M248.8 276l3.6-2.9M237.7 278.3l3.7-3.3M230.3 278l3.7-3.5M222.9 278.1l3.7-3.7M215.6 278.6l3.6-3.8M288.8 236.6l3.6 0.4M204.5 276.7l3.6-4M285 231.5l3.7 0.5M185.9 271.8l3.7-4.2M262.7 220.5l3.6 0.5M240.5 217.2l3.6 0.1M233.1 217.1l3.6 0M225.7 217.5l3.6-0.3M170.7 242.3l3.6-3M174.3 237l3.6-2.7M203.6 221.3l3.6-1" stroke="#e3fc74" stroke-width="1.0"/><path d="M197 271.7l-4.6-2.7 -4.7-2.3 -4.7-2 -4.6-1.6M211.8 275.5l-3.7-2.8M174.6 252.7l-3.8-0.3M174.4 242l-3.7 0.3M248.8 276l-3.8-4M178 236.4l-3.7 0.6M263.5 272.2l-3.7-4.2M192.6 225.7l-3.7 0.8M285.5 261.7l-3.8-4.2M292.7 250.5l-3.7-3.8M292.5 239.7l-3.7-3.1M288.7 234.1l-3.7-2.6M262.7 220.5l-3.8-1.1M495.5 229.4l-7.5-3.5M506.6 231.1l-3.7-2.4M488 221.6l-3.8-1.2M521.4 231.2l-3.8-2.8M487.9 214.2l-3.8-0.8M528.7 231.8l-3.7-3M487.8 211l-3.7-0.5M532.4 229.5l-3.7-3M491.5 208.7l-3.8-0.5M558 217.1l-3.7-3M517.1 196.3l-3.7-0.5M561.7 211.7l-3.8-2.7M528.2 194.7l-3.8-0.8M561.6 207.9l-3.7-2.5M535.5 194.7l-3.7-1M561.5 204.5l-7.4-4.4M546.7 196.5l-7.5-2.7M532.4 229.5l5.5-3.2 5.5-2.8 5.5-2.7 5.5-2.3M521.4 231.2l3.6-2.4M558 212.9l3.7-1.2M557.9 209l3.7-1.1M557.9 205.4l3.6-0.9M499.2 231.5l3.7-2.8M554.1 200.1l3.7-0.8M550.4 198.2l3.6-0.8M546.7 196.5l3.6-0.8M484.3 224.4l3.7-2.8M535.5 194.7l3.7-0.9M528.2 194.7l3.6-1M484.1 213.4l3.7-2.4M520.8 195.1l3.6-1.2M487.7 208.2l5.5-3.2 5.5-2.9 5.5-2.6 5.5-2.3M285.4 256.4l3.7-0.8M289 250.9l3.7-0.4M288.8 239.5l3.7 0.2M200.7 274.1l3.7-4.1M281.3 229.1l3.6 0.5M277.6 226.9l3.6 0.5M270.1 223.2l3.7 0.6M266.4 221.7l3.7 0.6M174.7 262l3.6-4M251.6 218.2l3.6 0.4M170.9 256.6l3.7-3.9M170.7 245.3l3.7-3.3M214.6 218.9l3.7-0.7M177.9 234.3l3.7-2.4M199.9 222.6l3.7-1.3" stroke="#edfd68" stroke-width="1.0"/><path d="M178.3 258l-3.7-0.8M219.2 274.8l-3.7-3.2M174.5 248.7l-3.7-0.1M174.4 245.1l-3.7 0.2M241.4 275l-3.7-3.8M181.7 233.7l-3.8 0.6M267.1 270l-3.7-4.3M278.1 264.4l-3.7-4.2M281.8 263l-3.7-4.3M211 219.7l-3.8 0.6M289.1 255.6l-3.8-4M222 217.9l-3.7 0.3M292.6 246.5l-3.7-3.6M292.6 242.9l-3.8-3.4M251.6 218.2l-3.8-0.5M285 231.5l-3.7-2.4M266.4 221.7l-3.7-1.2M502.9 228.7l-7.5-4 -7.4-3.1M514 231l-3.8-2.6M487.9 217.7l-3.7-1M525 228.8l-3.7-2.8M491.5 211.8l-3.7-0.8M536.1 227.4l-3.8-3M495.1 206.6l-3.7-0.6M539.7 225.3l-3.7-3M498.8 204.6l-3.7-0.6M543.4 223.5l-3.7-3.1M502.5 202.7l-3.8-0.6M547.1 221.7l-3.8-3M506.1 200.9l-3.7-0.6M550.7 220l-3.7-3M509.8 199.2l-3.7-0.5M554.4 218.5l-3.7-3M513.4 197.7l-3.7-0.5M558 212.9l-3.7-2.8M524.5 195.9l-3.7-0.8M557.9 209l-3.7-2.6M531.9 195.7l-3.7-1M557.9 205.4l-3.7-2.3M539.3 195.9l-3.8-1.2M554.1 200.1l-7.4-3.6M525 228.8l3.7-2.3M550.7 215.5l7.3-2.6M514 231l3.6-2.6M554.3 210.1l3.6-1.1M506.6 231.1l3.6-2.7M554.2 206.4l3.7-1M502.9 228.7l3.6-2.6M554.2 203.1l3.6-0.9M495.5 229.4l3.6-2.8M550.4 200.9l3.7-0.8M491.8 227.5l3.6-2.8M546.7 199l3.7-0.8M488 225.9l3.7-2.8M543 197.4l3.7-0.9M488 221.6l3.6-2.6M539.3 195.9l3.6-0.8M484.2 220.4l3.7-2.7M531.9 195.7l3.6-1M484.2 216.7l3.7-2.5M524.5 195.9l3.7-1.2M487.8 211l3.7-2.3M513.4 197.7l7.4-2.6M252.4 273.1l3.7-2.6M281.7 257.5l3.7-1.1M241.4 275l3.6-3M289 246.7l3.6-0.2M288.9 242.9l3.7 0M211.8 275.5l3.7-3.9M285.1 233.7l3.6 0.4M197 271.7l3.7-4.1M273.8 224.9l3.7 0.6M178.4 263.1l3.7-4.1M244.2 217.5l3.6 0.2M170.8 252.4l3.7-3.7M170.8 248.6l3.6-3.5M222 217.9l3.7-0.4M174.3 239.3l3.7-2.9M181.6 231.9l7.3-4.4M196.3 224l3.6-1.4" stroke="#f8fd5c" stroke-width="1.0"/><path d="M208.1 272.7l-3.7-2.7M182.1 259l-3.8-1M178.3 253.3l-3.7-0.6M226.6 274.4l-3.7-3.3M234 274.5l-3.7-3.6M178 238.9l-3.7 0.4M252.4 273.1l-3.7-4M185.3 231.3l-3.7 0.6M270.8 267.9l-3.7-4.2M274.5 266.1l-3.7-4.3M207.3 220.8l-3.7 0.5M285.4 256.4l-3.7-4M229.4 217.3l-3.7 0.2M236.8 217.2l-3.7-0.1M244.2 217.5l-3.7-0.3M288.8 236.6l-3.7-2.9M281.3 229.1l-7.5-4.2 -7.4-3.2M510.2 228.4l-7.4-4.4M495.4 220.4l-7.5-2.7M517.6 228.4l-3.7-2.5M491.6 215.2l-3.7-1M528.7 226.5l-3.7-2.8M495.2 209.5l-3.7-0.8M554.3 214.1l-3.7-2.8M520.8 197.1l-3.7-0.8M554.3 210.1l-3.8-2.6M528.2 196.8l-3.7-0.9M554.2 206.4l-3.7-2.4M535.6 196.9l-3.7-1.2M554.2 203.1l-7.5-4.1 -7.4-3.1M528.7 226.5l5.5-3.2 5.5-2.9 5.5-2.6 5.5-2.3M517.6 228.4l3.7-2.4M550.6 211.3l3.7-1.2M510.2 228.4l3.7-2.5M550.5 207.5l3.7-1.1M550.5 204l3.7-0.9M499.1 226.6l3.7-2.6M495.4 224.7l3.7-2.6M491.7 223.1l3.7-2.7M535.6 196.9l3.7-1M487.9 217.7l3.7-2.5M528.2 196.8l3.7-1.1M487.9 214.2l3.6-2.4M520.8 197.1l3.7-1.2M491.5 208.7l5.5-3.1 5.5-2.9 5.4-2.7 5.5-2.3M256.1 270.5l3.7-2.5M278.1 258.7l3.6-1.2M285.3 251.6l3.7-0.7M234 274.5l3.7-3.3M226.6 274.4l3.7-3.5M219.2 274.8l3.7-3.7M285.1 236.4l3.7 0.2M281.3 231.1l3.7 0.4M193.3 269.5l3.6-4.1M189.6 267.6l3.6-4.1M185.8 265.8l3.7-4.1M182.1 264.3l3.7-4M255.3 219l3.6 0.4M174.6 257.2l3.7-3.9M236.8 217.2l3.7 0M229.4 217.3l3.7-0.2M178 236.4l3.7-2.7M211 219.7l3.6-0.8M188.9 227.5l7.4-3.5" stroke="#fdf755" stroke-width="1.0"/><path d="M204.4 270l-3.7-2.4M185.8 260.3l-3.7-1.3M215.5 271.6l-3.7-2.8M178.2 249l-3.7-0.3M178.1 241.8l-3.7 0.2M256.1 270.5l-3.7-4.1M189 229l-3.7 0.6M200 223.4l-3.7 0.6M203.6 222l-3.7 0.6M218.4 218.5l-3.8 0.4M289 250.9l-3.7-3.8M289 246.7l-3.8-3.6M288.8 239.5l-3.7-3.1M285.1 233.7l-3.8-2.6M255.3 219l-3.7-0.8M502.8 224l-7.4-3.6M513.9 225.9l-3.7-2.4M495.3 216.4l-3.7-1.2M521.3 226l-3.7-2.5M495.2 212.8l-3.7-1M532.3 224.4l-3.7-2.8M498.8 207.3l-3.7-0.7M536 222.3l-3.7-2.8M502.5 205.3l-3.7-0.7M539.7 220.4l-3.7-2.8M506.2 203.4l-3.7-0.7M543.3 218.7l-3.7-2.8M509.8 201.6l-3.7-0.7M547 217l-3.7-2.8M513.5 200l-3.7-0.8M550.7 215.5l-3.8-2.8M517.2 198.5l-3.8-0.8M550.6 211.3l-3.7-2.5M524.6 198.1l-3.8-1M550.5 204l-3.7-2.1M539.3 198.4l-3.7-1.5M521.3 226l7.3-4.4M546.9 212.7l3.7-1.4M513.9 225.9l3.7-2.4M506.5 226.1l3.7-2.6M546.8 205.2l3.7-1.2M502.8 224l3.7-2.6M546.8 201.9l3.6-1M543 200l3.7-1M495.4 220.4l3.6-2.5M539.3 198.4l3.7-1M491.6 219l3.7-2.6M531.9 198.1l3.7-1.2M491.6 215.2l3.6-2.4M491.5 211.8l7.3-4.5M517.2 198.5l3.6-1.4M259.8 268l7.3-4.3M274.4 260.2l3.7-1.5M245 272l3.7-2.9M285.3 247.1l3.7-0.4M285.2 239.6l3.6-0.1M208.1 272.7l3.7-3.9M277.6 228.7l3.7 0.4M259 220.1l3.7 0.4M178.3 258l3.7-3.9M247.9 218.1l3.7 0.1M174.6 252.7l3.6-3.7M174.4 245.1l3.7-3.3M174.4 242l3.6-3.1M207.3 220.8l3.7-1.1" stroke="#fcec52" stroke-width="1.0"/><path d="M200.7 267.6l-7.5-4.1 -7.4-3.2M182 254.1l-3.7-0.8M178.2 245.2l-3.8-0.1M245 272l-3.7-3.9M181.7 236l-3.7 0.4M259.8 268l-3.8-4M192.6 227l-3.7 0.5M196.3 225.1l-3.7 0.6M281.7 257.5l-3.7-4.1M214.7 219.4l-3.7 0.3M285.3 251.6l-3.7-3.8M225.7 217.8l-3.7 0.1M288.9 242.9l-3.7-3.3M247.9 218.1l-3.7-0.6M259 220.1l-3.7-1.1M510.2 223.5l-7.5-4 -7.4-3.1M517.6 223.5l-3.8-2.4M499 214l-3.8-1.2M525 223.7l-3.8-2.5M498.9 210.5l-3.7-1M528.6 221.6l-3.7-2.6M502.6 208.3l-3.8-1M543.3 214.2l-3.7-2.5M517.2 201l-3.7-1M546.9 212.7l-3.7-2.5M520.9 199.5l-3.7-1M546.9 208.8l-3.7-2.4M528.3 199.3l-3.7-1.2M550.5 207.5l-7.4-4.4M535.7 199.5l-7.5-2.7M546.8 201.9l-7.5-3.5M528.6 221.6l9.2-4.9 9.1-4M517.6 223.5l3.6-2.3M543.2 210.2l7.3-2.7M510.2 223.5l3.6-2.4M543.2 206.4l3.6-1.2M543.1 203.1l3.7-1.2M499.1 222.1l3.6-2.6M539.4 201.2l3.6-1.2M535.7 199.5l3.6-1.1M495.3 216.4l3.7-2.4M528.3 199.3l3.6-1.2M495.2 212.8l3.7-2.3M520.9 199.5l7.3-2.7M498.8 207.3l9.2-4.8 9.2-4M267.1 263.7l7.3-3.5M248.7 269.1l3.7-2.7M281.7 252.4l3.6-0.8M237.7 271.2l3.6-3.1M285.2 243.1l3.7-0.2M215.5 271.6l3.7-3.6M281.4 233.5l3.7 0.2M204.4 270l3.7-3.9M273.9 226.5l3.7 0.4M270.2 224.5l3.6 0.4M266.4 222.8l3.7 0.4M262.7 221.3l3.7 0.4M174.5 248.7l3.7-3.5M178 238.9l3.7-2.9M218.4 218.5l3.6-0.6M181.7 233.7l3.6-2.4M203.6 222l3.7-1.2" stroke="#fbe050" stroke-width="1.0"/><path d="M211.8 268.8l-3.7-2.7M222.9 271.1l-3.7-3.1M230.3 270.9l-3.7-3.3M237.7 271.2l-3.8-3.5M181.8 238.8l-3.8 0.1M248.7 269.1l-3.7-3.8M185.4 233.4l-3.7 0.3M263.4 265.7l-3.7-4M267.1 263.7l-3.7-4.1M274.4 260.2l-3.7-4.1M278.1 258.7l-3.7-4M233.1 217.4l-3.7-0.1M240.5 217.5l-3.7-0.3M285.1 236.4l-3.7-2.9M281.3 231.1l-7.4-4.6M262.7 221.3l-3.7-1.2M513.9 221.1l-7.4-4 -7.4-3.1M521.2 221.2l-3.7-2.4M502.6 211.7l-3.7-1.2M524.9 219l-3.7-2.3M506.3 209.6l-3.7-1.3M532.3 219.5l-3.7-2.5M506.2 206.3l-3.7-1M536 217.6l-3.8-2.5M509.9 204.4l-3.7-1M539.6 215.9l-3.7-2.6M513.6 202.6l-3.8-1M543.2 210.2l-3.7-2.4M524.6 200.7l-3.7-1.2M543.2 206.4l-3.8-2.1M532 200.8l-3.7-1.5M543.1 203.1l-7.4-3.6M521.2 221.2l5.5-3.2 5.5-2.9 5.5-2.6 5.5-2.3M513.9 221.1l3.7-2.3M539.5 207.8l3.7-1.4M506.5 221.4l7.3-4.7M539.4 204.3l3.7-1.2M502.7 219.5l3.7-2.4M535.7 202.4l3.7-1.2M499 217.9l7.3-4.7M532 200.8l3.7-1.3M499 214l3.6-2.3M524.6 200.7l3.7-1.4M498.9 210.5l5.5-3.2 5.5-2.9 5.5-2.6 5.5-2.3M278 253.4l3.7-1M281.6 247.8l3.7-0.7M230.3 270.9l3.6-3.2M222.9 271.1l3.7-3.5M200.7 267.6l3.6-3.9M185.8 260.3l3.6-3.9M182.1 259l3.6-3.9M251.6 218.9l3.7 0.1M178.3 253.3l3.6-3.7M240.5 217.5l3.7 0M233.1 217.4l3.7-0.2M225.7 217.8l3.7-0.5M214.7 219.4l3.7-0.9M185.3 231.3l7.3-4.3M196.3 225.1l7.3-3.1" stroke="#fad44d" stroke-width="1.0"/><path d="M208.1 266.1l-3.8-2.4M185.7 255.1l-3.7-1M181.9 249.6l-3.7-0.6M181.9 245.6l-3.7-0.4M181.8 242l-3.7-0.2M189 230.9l-3.7 0.4M270.8 261.8l-3.8-4M207.4 221.7l-3.8 0.3M211 220.4l-3.7 0.4M281.7 252.4l-3.7-3.8M222.1 218.4l-3.7 0.1M285.3 247.1l-3.7-3.5M285.2 243.1l-3.7-3.3M285.2 239.6l-3.7-3.1M251.6 218.9l-3.7-0.8M273.9 226.5l-5.6-2.9 -5.6-2.3M517.5 218.8l-7.4-4 -7.5-3.1M521.2 216.7l-7.5-4 -7.4-3.1M528.6 217l-7.5-4.4M513.7 209l-7.5-2.7M532.2 215.1l-3.7-2.3M513.6 205.7l-3.7-1.3M535.9 213.3l-3.7-2.3M517.3 203.9l-3.7-1.3M539.6 211.7l-7.5-4.4M524.7 203.7l-7.5-2.7M539.5 207.8l-7.4-4 -7.5-3.1M539.4 204.3l-7.4-3.5M517.5 218.8l5.5-3.1 5.5-2.9 5.5-2.6 5.5-2.4M513.8 216.7l3.7-2.1M532.1 207.3l7.3-3M506.4 217.1l7.3-4.4M528.4 205.4l7.3-3M506.3 213.2l3.7-2.2M524.7 203.7l7.3-2.9M502.6 211.7l5.5-3.2 5.5-2.8 5.5-2.7 5.5-2.3M252.4 266.4l3.6-2.4M274.4 254.7l3.6-1.3M241.3 268.1l3.7-2.8M281.6 243.6l3.6-0.5M281.5 239.8l3.7-0.2M281.5 236.5l3.6-0.1M211.8 268.8l3.6-3.7M277.7 230.9l3.6 0.2M196.9 265.4l3.7-3.9M193.2 263.5l3.7-3.9M189.5 261.7l3.7-3.8M255.3 219.9l3.7 0.2M178.2 249l3.7-3.4M178.2 245.2l3.6-3.2M178.1 241.8l3.7-3M181.7 236l3.7-2.6M192.6 227l3.7-1.9" stroke="#fac84a" stroke-width="1.0"/><path d="M204.3 263.7l-3.7-2.2M193.2 257.9l-7.5-2.8M219.2 268l-3.8-2.9M185.7 250.4l-3.8-0.8M226.6 267.6l-3.8-3.1M233.9 267.7l-3.7-3.4M241.3 268.1l-3.7-3.5M185.4 235.9l-3.7 0.1M252.4 266.4l-3.8-3.8M192.7 228.7l-3.7 0.3M196.4 226.6l-3.8 0.4M200 224.8l-3.7 0.3M203.7 223.1l-3.7 0.3M278 253.4l-3.7-3.7M229.5 217.9l-3.8-0.1M236.8 217.8l-3.7-0.4M244.2 218.1l-3.7-0.6M281.4 233.5l-3.7-2.6M255.3 219.9l-3.7-1M521.1 212.6l-7.4-3.6M528.5 212.8l-7.4-4 -7.5-3.1M532.2 211l-7.5-3.9 -7.4-3.2M532.1 207.3l-7.4-3.6M517.5 214.6l7.3-3.9 7.3-3.4M513.7 212.7l7.4-3.9 7.3-3.4M510 211l7.3-3.9 7.4-3.4M256 264l4.6-2.8 4.6-2.5 4.6-2.2 4.6-1.8M278 248.6l3.6-0.8M233.9 267.7l3.7-3.1M226.6 267.6l3.6-3.3M219.2 268l3.6-3.5M277.7 233.6l3.7-0.1M208.1 266.1l3.6-3.6M274 228.5l3.6 0.2M270.2 226.3l3.7 0.2M259.1 221.2l3.6 0.1M182 254.1l3.7-3.7M244.2 218.1l3.7 0M236.8 217.8l3.7-0.3M229.5 217.9l3.6-0.5M222.1 218.4l3.6-0.6M185.4 233.4l3.6-2.5M211 220.4l3.7-1" stroke="#f9bc47" stroke-width="1.0"/><path d="M200.6 261.5l-7.4-3.6M215.4 265.1l-3.7-2.6M185.6 246.2l-3.7-0.6M185.5 238.9l-3.7-0.1M245 265.3l-3.7-3.5M189.1 233.3l-3.7 0.1M256 264l-3.7-3.8M274.4 254.7l-3.8-3.8M218.4 219.3l-3.7 0.1M281.6 247.8l-3.7-3.6M281.6 243.6l-3.8-3.3M281.5 236.5l-3.8-2.9M277.7 230.9l-3.7-2.4M259.1 221.2l-3.8-1.3M245 265.3l3.6-2.7M274.3 249.7l3.7-1.1M277.9 244.2l3.7-0.6M277.8 236.7l3.7-0.2M204.3 263.7l3.7-3.6M266.5 224.4l3.7 0.1M262.8 222.7l3.6 0.1M185.7 255.1l3.7-3.6M248 218.9l3.6 0M181.9 249.6l3.7-3.4M181.8 242l3.7-3.1M181.8 238.8l3.6-2.9M218.4 219.3l3.7-0.9M189 230.9l3.7-2.2M207.4 221.7l3.6-1.3" stroke="#f8af45" stroke-width="1.0"/><path d="M211.7 262.5l-3.7-2.4M189.4 251.5l-3.7-1.1M222.8 264.5l-3.7-2.8M185.6 242.3l-3.8-0.3M237.6 264.6l-3.7-3.3M192.8 230.9l-3.8 0M259.7 261.7l-3.7-3.7M263.4 259.6l-3.8-3.7M267 257.8l-3.7-3.7M270.7 256.1l-3.7-3.7M214.7 220.3l-3.7 0.1M278 248.6l-3.8-3.5M225.8 218.6l-3.7-0.2M281.5 239.8l-3.7-3.1M248 218.9l-3.8-0.8M274 228.5l-7.5-4.1 -7.4-3.2M248.7 262.6l3.7-2.4M270.6 250.9l3.7-1.2M237.6 264.6l3.7-2.8M277.8 240.3l3.7-0.5M215.4 265.1l3.7-3.4M274 231l3.7-0.1M200.6 261.5l3.7-3.6M196.9 259.6l3.7-3.6M193.2 257.9l3.6-3.6M189.4 256.4l3.7-3.7M251.7 220l3.6-0.1M240.6 218.4l3.6-0.3M181.9 245.6l3.7-3.3M225.8 218.6l3.7-0.7M185.4 235.9l3.7-2.6M192.7 228.7l7.3-3.9 7.4-3.1" stroke="#f7a242" stroke-width="1.0"/><path d="M208 260.1l-3.7-2.2M196.8 254.3l-7.4-2.8M189.3 247l-3.7-0.8M230.2 264.3l-3.7-3M189.2 236.1l-3.8-0.2M248.7 262.6l-3.7-3.5M196.4 228.6l-3.7 0.1M200.1 226.6l-3.7 0M207.4 223.1l-3.7 0M211.1 221.6l-3.7 0.1M274.3 249.7l-3.7-3.5M222.1 219.5l-3.7-0.2M277.9 244.2l-3.7-3.2M233.2 218.3l-3.7-0.4M277.8 236.7l-3.7-2.8M240.6 218.4l-3.8-0.6M277.7 233.6l-3.7-2.6M251.7 220l-3.7-1.1M252.3 260.2l7.3-4.3M263.3 254.1l7.3-3.2M274.2 245.1l3.7-0.9M230.2 264.3l3.7-3M222.8 264.5l3.7-3.2M274.1 233.9l3.6-0.3M211.7 262.5l3.7-3.4M270.3 228.6l3.7-0.1M266.6 226.5l3.6-0.2M255.4 221.3l3.7-0.1M185.7 250.4l3.6-3.4M185.6 246.2l3.7-3.2M233.2 218.3l3.6-0.5M185.5 238.9l3.7-2.8M189.1 233.3l3.7-2.4M214.7 220.3l3.7-1" stroke="#f6953f" stroke-width="1.0"/><path d="M204.3 257.9l-7.5-3.6M219.1 261.7l-3.7-2.6M193.1 248.1l-3.8-1.1M189.3 243l-3.7-0.7M189.2 239.3l-3.7-0.4M241.3 261.8l-3.8-3.3M192.8 233.5l-3.7-0.2M252.3 260.2l-3.7-3.5M203.8 224.8l-3.8 0M270.6 250.9l-3.7-3.4M229.5 219l-3.7-0.4M277.8 240.3l-3.7-3.1M244.3 219.3l-3.7-0.9M274 231l-3.7-2.4M255.4 221.3l-3.7-1.3M259.6 255.9l3.7-1.8M241.3 261.8l3.6-2.7M270.6 246.2l3.6-1.1M233.9 261.3l3.6-2.8M274.2 241l3.6-0.7M274.1 237.2l3.7-0.5M219.1 261.7l3.7-3.2M270.3 231.3l3.7-0.3M208 260.1l3.7-3.4M262.8 224.5l3.7-0.1M259.1 222.8l3.7-0.1M193.1 252.7l3.7-3.3M189.4 251.5l3.7-3.4M244.3 219.3l3.7-0.4M185.6 242.3l3.6-3M222.1 219.5l3.7-0.9M192.8 230.9l3.6-2.3M211.1 221.6l3.6-1.3" stroke="#f5883d" stroke-width="1.0"/><path d="M215.4 259.1l-3.7-2.4M196.8 249.4l-3.7-1.3M226.5 261.3l-3.7-2.8M193 243.9l-3.7-0.9M233.9 261.3l-3.7-3M192.9 236.6l-3.7-0.5M244.9 259.1l-3.7-3.1M196.5 231.1l-3.7-0.2M256 258l-3.7-3.5M259.6 255.9l-3.7-3.4M263.3 254.1l-3.7-3.4M267 252.4l-3.8-3.4M218.5 220.6l-3.8-0.3M274.2 245.1l-3.7-3.2M274.2 241l-3.7-3M236.9 218.9l-3.7-0.6M274.1 233.9l-3.8-2.6M270.3 228.6l-7.5-4.1 -7.4-3.2M244.9 259.1l3.7-2.4M266.9 247.5l3.7-1.3M270.5 241.9l3.7-0.9M226.5 261.3l3.7-3M270.4 234.5l3.7-0.6M266.6 229l3.7-0.4M204.3 257.9l3.6-3.3M200.6 256l3.6-3.3M196.8 254.3l3.7-3.4M248 220.4l3.7-0.4M189.3 247l3.7-3.1M236.9 218.9l3.7-0.5M189.2 239.3l3.7-2.7M229.5 219l3.7-0.7M189.2 236.1l3.6-2.6M218.5 220.6l3.6-1.1M196.4 228.6l7.4-3.8 7.3-3.2" stroke="#f57a3a" stroke-width="1.0"/><path d="M211.7 256.7l-7.5-4 -7.4-3.3M222.8 258.5l-3.8-2.5M230.2 258.3l-3.8-2.7M192.9 240l-3.7-0.7M237.5 258.5l-3.7-2.9M196.5 234l-3.7-0.5M248.6 256.7l-3.7-3.1M200.1 228.9l-3.7-0.3M203.8 226.9l-3.7-0.3M207.5 225.1l-3.7-0.3M211.1 223.4l-3.7-0.3M214.8 221.9l-3.7-0.3M270.6 246.2l-3.7-3.2M225.9 220l-3.8-0.5M233.2 219.7l-3.7-0.7M274.1 237.2l-3.7-2.7M240.6 219.9l-3.7-1M270.3 231.3l-3.7-2.3M251.7 221.7l-7.4-2.4M248.6 256.7l4.6-2.7 4.6-2.4 4.5-2.2 4.6-1.9M237.5 258.5l3.7-2.5M266.9 243l3.6-1.1M230.2 258.3l3.6-2.7M270.5 238l3.6-0.8M222.8 258.5l3.6-2.9M215.4 259.1l3.6-3.1M211.7 256.7l3.6-3.1M262.9 226.9l3.7-0.4M259.2 225l3.6-0.5M255.5 223.2l3.6-0.4M251.7 221.7l3.7-0.4M193.1 248.1l3.6-3.1M240.6 219.9l3.7-0.6M189.3 243l3.6-3M233.2 219.7l3.7-0.8M225.9 220l3.6-1M192.8 233.5l3.7-2.4M214.8 221.9l3.7-1.3" stroke="#f46d38" stroke-width="1.0"/><path d="M219 256l-3.7-2.4M200.4 246.3l-7.4-2.4M196.7 241l-3.8-1M196.6 237.3l-3.7-0.7M241.2 256l-3.7-2.9M200.2 231.7l-3.7-0.6M252.3 254.5l-3.8-3.1M255.9 252.5l-3.7-3.1M259.6 250.7l-3.7-3.1M263.2 249l-3.7-3.1M266.9 247.5l-3.7-3.1M222.2 221.1l-3.7-0.5M270.5 241.9l-3.7-2.9M270.5 238l-3.8-2.7M270.4 234.5l-3.7-2.5M266.6 229l-7.4-4 -7.5-3.3M241.2 256l3.7-2.4M263.2 244.4l3.7-1.4M266.8 239l3.7-1M266.7 235.3l3.7-0.8M266.7 232l3.6-0.7M263 229.7l3.6-0.7M207.9 254.6l3.7-3.1M204.2 252.7l3.7-3.1M200.5 250.9l3.7-3M196.8 249.4l3.6-3.1M244.3 221l3.7-0.6M193 243.9l3.7-2.9M192.9 240l3.7-2.7M192.9 236.6l3.6-2.6M222.2 221.1l3.7-1.1M196.5 231.1l4.6-2.7 4.5-2.4 4.6-2.2 4.6-1.9" stroke="#f36037" stroke-width="1.0"/><path d="M215.3 253.6l-7.4-4 -7.5-3.3M226.4 255.6l-3.7-2.5M200.4 242.2l-3.7-1.2M233.8 255.6l-3.7-2.7M200.3 234.9l-3.8-0.9M244.9 253.6l-3.8-2.8M203.9 229.5l-3.8-0.6M207.5 227.6l-3.7-0.7M211.2 225.7l-3.7-0.6M214.9 224l-3.8-0.6M218.5 222.5l-3.7-0.6M266.9 243l-3.8-2.8M229.6 220.7l-3.7-0.7M237 220.7l-3.8-1M266.7 232l-3.7-2.3M248.1 222.4l-7.5-2.5M244.9 253.6l9.1-5.1 9.2-4.1M233.8 255.6l3.7-2.5M263.1 240.2l3.7-1.2M226.4 255.6l3.7-2.7M219 256l3.7-2.9M263 232.8l3.7-0.8M215.3 253.6l3.7-2.8M259.2 227.6l3.7-0.7M255.5 225.7l3.7-0.7M251.8 223.9l3.7-0.7M248.1 222.4l3.6-0.7M196.7 245l3.7-2.8M237 220.7l3.6-0.8M229.6 220.7l3.6-1M196.5 234l3.7-2.3M218.5 222.5l3.7-1.4" stroke="#f25336" stroke-width="1.0"/><path d="M222.7 253.1l-7.4-4.3M204.1 243.6l-3.7-1.4M230.1 252.9l-3.7-2.4M200.3 238.4l-3.7-1.1M237.5 253.1l-3.7-2.6M203.9 232.6l-3.7-0.9M248.5 251.4l-3.7-2.8M252.2 249.4l-3.7-2.7M255.9 247.6l-3.8-2.8M259.5 245.9l-3.7-2.8M263.2 244.4l-3.7-2.8M222.2 223.4l-3.7-0.9M263.1 240.2l-3.7-2.6M225.9 222l-3.7-0.9M266.8 239l-3.7-2.6M233.3 221.8l-3.7-1.1M266.7 235.3l-7.4-4.7M240.7 221.9l-3.7-1.2M263 229.7l-7.5-4 -7.4-3.3M237.5 253.1l7.3-4.5M259.5 241.6l3.6-1.4M230.1 252.9l3.7-2.4M263.1 236.4l3.6-1.1M222.7 253.1l3.7-2.6M259.3 230.6l3.7-0.9M211.6 251.5l3.7-2.7M207.9 249.6l3.6-2.7M204.2 247.9l3.6-2.8M200.4 246.3l3.7-2.7M244.4 223.3l3.7-0.9M200.4 242.2l3.6-2.6M240.7 221.9l3.6-0.9M196.7 241l3.6-2.6M233.3 221.8l3.7-1.1M196.6 237.3l7.3-4.7M225.9 222l3.7-1.3M200.2 231.7l9.2-5.1 9.1-4.1" stroke="#f14735" stroke-width="1.0"/><path d="M215.3 248.8l-5.6-2.8 -5.6-2.4M226.4 250.5l-3.7-2.2M207.8 241l-7.5-2.6M233.8 250.5l-3.8-2.4M204 235.9l-3.7-1M241.1 250.8l-3.7-2.6M207.6 233.7l-3.7-1.1M244.8 248.6l-3.7-2.5M207.6 230.5l-3.7-1M211.3 228.5l-3.8-0.9M214.9 226.7l-3.7-1M255.8 243.1l-3.7-2.5M218.6 225l-3.7-1M259.5 241.6l-3.8-2.5M229.6 223.1l-3.7-1.1M263.1 236.4l-3.7-2.4M237 223.1l-3.7-1.3M259.3 230.6l-9.3-4.8 -4.7-2.1 -4.6-1.8M244.8 248.6l7.3-3.8 7.4-3.2M233.8 250.5l3.6-2.3M255.7 239.1l7.4-2.7M226.4 250.5l3.6-2.4M259.4 234l3.6-1.2M219 250.8l3.7-2.5M255.6 231.8l3.7-1.2M215.3 248.8l3.6-2.5M255.6 228.6l3.6-1M211.5 246.9l3.7-2.5M251.8 226.7l3.7-1M207.8 245.1l3.7-2.5M248.1 224.9l3.7-1M204.1 243.6l3.7-2.6M237 223.1l3.7-1.2M200.3 238.4l3.7-2.5M229.6 223.1l3.7-1.3M203.9 232.6l3.7-2.1M218.6 225l7.3-3" stroke="#f13a35" stroke-width="1.0"/><path d="M222.7 248.3l-7.5-3.9 -7.4-3.4M230 248.1l-7.4-4.1M211.4 238.7l-7.4-2.8M237.4 248.2l-3.7-2.3M211.4 235.1l-3.8-1.4M241.1 246.1l-3.7-2.2M211.3 231.7l-3.7-1.2M248.5 246.7l-3.7-2.5M215 229.7l-3.7-1.2M252.1 244.8l-3.7-2.4M218.6 227.9l-3.7-1.2M252.1 240.6l-3.7-2.2M222.3 226.2l-3.7-1.2M255.7 239.1l-3.7-2.3M229.7 226l-7.5-2.6M259.4 237.6l-7.4-4.4M233.4 224.4l-3.8-1.3M259.4 234l-5.6-3.2 -5.6-2.9 -5.6-2.6 -5.6-2.2M237.4 248.2l9.2-4.9 9.1-4.2M230 248.1l7.4-4.2M252 236.8l7.4-2.8M222.7 248.3l3.6-2.3M252 233.2l3.6-1.4M218.9 246.3l3.7-2.3M251.9 229.8l3.7-1.2M215.2 244.4l3.7-2.3M248.2 227.9l3.6-1.2M211.5 242.6l3.7-2.2M244.5 226.2l3.6-1.3M207.8 241l3.6-2.3M237.1 225.9l7.3-2.6M204 239.6l7.4-4.5M233.4 224.4l3.6-1.3M204 235.9l5.5-3.2 5.5-3M222.3 226.2l7.3-3.1M207.6 230.5l5.5-2.9 5.5-2.6" stroke="#ea3434" stroke-width="1.0"/><path d="M222.6 244l-11.2-5.3M233.7 245.9l-5.6-3.1 -5.6-2.8 -11.1-4.9M237.4 243.9l-5.6-3 -8.4-4.1 -6.5-3 -5.6-2.1M244.8 244.2l-6.6-3.8 -8.3-4.1M226.1 234.5l-6.5-2.9 -4.6-1.9M248.4 242.4l-4.6-2.8 -6.5-3.3M229.8 232.7l-6.5-3 -4.7-1.8M248.4 238.4l-6.6-3.4 -8.3-4.1 -6.5-2.9 -4.7-1.8M252 236.8l-10.2-5.4 -12.1-5.4M252 233.2l-9.3-4.7 -9.3-4.1M237.4 243.9l7.3-3.7 7.3-3.4M226.3 246l5.5-3.2 6.4-3.3 7.4-3.5 6.4-2.8M222.6 244l6.4-3.6 10.1-5 7.3-3.4 5.5-2.2M218.9 242.1l11-5.8M237.2 232.7l6.4-3 4.6-1.8M215.2 240.4l10.9-5.9M229.8 232.7l8.3-3.9 6.4-2.6M211.4 238.7l5.5-3.1 6.4-3.3 7.4-3.5 6.4-2.9M211.4 235.1l11-5.8 11-4.9M215 229.7l7.3-3.5" stroke="#de3434" stroke-width="1.0"/><path d="M229.9 236.3l-3.8-1.8M237.3 236.3l-7.5-3.6M229.9 236.3l7.3-3.6M226.1 234.5l3.7-1.8" stroke="#d23333" stroke-width="1.0"/><path d="M374.8 129.8l0.1 2.6 0.6 2.7 1.2 2.6 1.7 2.5 2.3 2.4 2.7 2.3 5.1 3.1 3.9 1.9 4.3 1.6 4.6 1.5 4.9 1.1 5.1 1 5.3 0.6 5.4 0.4 5.4 0.2 5.5-0.2 5.4-0.4 5.3-0.7 5-1 4.9-1.2 4.6-1.5 6.1-2.6 3.7-2 3.2-2.1 2.6-2.3 2.2-2.5 1.7-2.5 1.1-2.6 0.5-2.6 0.1-1.3M375.5 135.1l0-0.4M380.7 142.6l0-0.4M390.4 149l0-0.4M403.7 153.6l0-0.4M419.3 156l0-0.4M435.6 155.9l0-0.4M451.1 153.4l0-0.4M464.2 148.7l0-0.4M473.7 142.3l0-0.4M478.7 134.7l0-0.4M379.5 362.1l0.1 2.7 0.2 1.3 0.9 2.6 1.5 2.5 2 2.5 2.5 2.4 3 2.2 3.5 2 3.9 1.9 4.2 1.6 7.1 2.1 5 1.1 5.2 0.8 5.3 0.5 5.5 0.3 5.5-0.1 5.4-0.3 5.3-0.5 5.2-0.9 5-1.1 4.7-1.3 4.4-1.6 4-1.8 5.3-3 2.9-2.2 2.5-2.4 1.9-2.5 1.4-2.6 0.8-2.6 0.2-2.6M380.2 367.4l0-0.4M385.4 374.9l0-0.4M395.1 381.3l0-0.4M408.4 385.9l0-0.4M423.9 388.3l0-0.4M440.3 388.2l0-0.4M455.8 385.7l0-0.4M468.9 381l0-0.4M478.4 374.6l0-0.4M483.4 367l-0.1-0.4" stroke="#2d5acd" stroke-width="0.75"/><path d="M375.5 134.7l0.1-0.8M380.7 142.2l0.1-0.8M390.4 148.6l0.1-0.8M403.7 153.2l0-0.8M419.3 155.6l0-0.8M435.6 155.5l0-0.8M451.1 153l0-0.8M464.2 148.3l0-0.8M473.7 141.9l-0.1-0.8M478.7 134.3l-0.1-0.7M380.2 367l0.1-0.8M385.4 374.5l0.1-0.8M395.1 380.9l0.1-0.9M408.4 385.5l0-0.9M423.9 387.9l0.1-0.9M440.3 387.8l0-0.8M455.8 385.3l-0.1-0.8M468.9 380.6l0-0.8M478.4 374.2l-0.1-0.8M483.3 366.6l-0.1-0.8" stroke="#2f66d0" stroke-width="0.75"/><path d="M375.5 126l0.2-0.8M375.6 133.9l0.2-0.8M380.8 141.4l0.2-0.8M390.5 147.8l0.1-0.9M403.7 152.4l0.1-0.9M419.3 154.8l0-0.9M435.6 154.7l0-0.9M451.1 152.2l-0.1-0.8M464.2 147.5l-0.2-0.8M473.6 141.1l-0.1-0.8M478.6 133.6l-0.2-0.8M478.4 125.7l-0.2-0.8M380.2 358.3l0.2-0.8M380.3 366.2l0.2-0.8M385.5 373.7l0.1-0.9M395.2 380l0.1-0.8M408.4 384.6l0.1-0.8M424 387l0-0.9M440.3 387l-0.1-0.9M455.7 384.5l-0.1-0.9M468.9 379.8l-0.2-0.9M478.3 373.4l-0.1-0.9M483.2 365.8l-0.1-0.8M483.1 357.9l-0.2-0.8" stroke="#3273d2" stroke-width="0.75"/><path d="M377.7 121l-1.4 2.6 -0.8 2.6 -0.3 2.6 0.4 2.6 0.3 1.3 1.2 2.6 0.8 1.3 2 2.4 2.5 2.3 3 2.2 3.4 2.1 3.9 1.8 6.5 2.4 4.7 1.3 4.9 1 5.2 0.8 8 0.7 5.4 0.1 5.4-0.1 5.4-0.4 5.2-0.7 5.1-1 4.8-1.2 4.5-1.5 4.2-1.6 5.5-2.9 4.6-3.3 2.4-2.3 1.9-2.5 1.4-2.5 0.8-2.6 0.2-2.6 -0.3-2.7 -0.4-1.3 -1.2-2.5M375.7 125.2l0.3-0.7M375.8 133.1l0.3-0.8M381 140.6l0.2-0.8M390.6 146.9l0.2-0.8M403.8 151.5l0.2-0.9M419.3 153.9l0.1-0.9M435.6 153.8l-0.1-0.9M451 151.4l-0.2-0.9M464 146.7l-0.2-0.9M473.5 140.3l-0.3-0.8M478.4 132.8l-0.3-0.8M478.2 124.9l-0.3-0.7M381.6 354.5l-1.1 2.6 -0.5 2.6 0 2.6 0.6 2.7 0.5 1.2 0.7 1.3 1.7 2.5 2.3 2.4 2.7 2.3 3.2 2.1 3.7 1.9 4 1.8 4.5 1.5 4.7 1.3 7.5 1.5 5.2 0.6 5.4 0.4 5.4 0.2 5.4-0.2 5.4-0.4 5.2-0.7 7.5-1.6 4.7-1.3 4.3-1.5 4-1.8 3.6-2 3.2-2.1 3.8-3.5 1.9-2.5 1.3-2.5 0.9-2.6 0.1-1.3 0-2.6 -0.6-2.6 -1.2-2.6M380.4 357.5l0.3-0.8M380.5 365.4l0.3-0.9M385.6 372.8l0.3-0.8M395.3 379.2l0.2-0.9M408.5 383.8l0.1-1M424 386.1l0-0.9M440.2 386.1l0-1M455.6 383.6l-0.1-0.9M468.7 378.9l-0.2-0.9M478.2 372.5l-0.3-0.8M483.1 365l-0.3-0.8M482.9 357.1l-0.3-0.7" stroke="#3480d5" stroke-width="0.75"/><path d="M376 124.5l0.2-0.4M376.1 132.3l0.2-0.4M381.2 139.8l0.2-0.5M390.8 146.1l0.1-0.5M404 150.6l0-0.4M419.4 153l0-0.5M435.5 152.9l0-0.4M450.8 150.5l-0.1-0.5M463.8 145.8l-0.1-0.4M473.2 139.5l-0.2-0.5M478.1 132l-0.2-0.4M477.9 124.2l-0.1-0.4M380.7 356.7l0.1-0.4M380.8 364.5l0.2-0.4M385.9 372l0.2-0.5M395.5 378.3l0.1-0.5M408.6 382.8l0.1-0.4M424 385.2l0.1-0.5M440.2 385.1l0-0.4M455.5 382.7l-0.1-0.5M468.5 378l-0.1-0.4M477.9 371.7l-0.2-0.5M482.8 364.2l-0.2-0.4M482.6 356.4l-0.2-0.4" stroke="#378cd7" stroke-width="0.75"/><path d="M376.2 124.1l0.4-0.7M376.3 131.9l0.4-0.8M381.4 139.3l0.4-0.8M390.9 145.6l0.4-0.9M404 150.2l0.2-1M419.4 152.5l0-0.9M435.5 152.5l-0.1-1M450.7 150l-0.2-0.9M463.7 145.4l-0.3-0.9M473 139l-0.4-0.8M477.9 131.6l-0.5-0.8M477.8 123.8l-0.5-0.7M380.8 356.3l0.5-0.7M381 364.1l0.4-0.8M386.1 371.5l0.4-0.9M395.6 377.8l0.3-0.9M408.7 382.4l0.2-1M424.1 384.7l0-1M440.2 384.7l-0.1-1M455.4 382.2l-0.2-1M468.4 377.6l-0.4-1M477.7 371.2l-0.4-0.9M482.6 363.8l-0.5-0.8M482.4 356l-0.4-0.8" stroke="#3999da" stroke-width="0.75"/><path d="M381.4 116l0.5-0.6M376.6 123.4l0.5-0.7M376.7 131.1l0.6-0.7M381.8 138.5l0.5-0.9M391.3 144.7l0.3-0.9M404.2 149.2l0.3-1M419.4 151.6l0.1-1.1M435.4 151.5l-0.1-1M450.5 149.1l-0.2-1M463.4 144.5l-0.4-1M472.6 138.2l-0.4-0.9M477.4 130.8l-0.5-0.8M477.3 123.1l-0.5-0.7M472.3 115.7l-0.5-0.6M386.1 348.2l0.5-0.7M381.3 355.6l0.5-0.8M381.4 363.3l0.5-0.8M386.5 370.6l0.4-0.9M395.9 376.9l0.4-1M408.9 381.4l0.3-1M424.1 383.7l0.1-1M440.1 383.7l-0.1-1.1M455.2 381.2l-0.2-1M468 376.6l-0.3-0.9M477.3 370.3l-0.5-0.9M482.1 363l-0.5-0.9M482 355.2l-0.5-0.7M476.7 347.6l-0.2-0.4" stroke="#3ca5dd" stroke-width="0.75"/><path d="M384.5 113.2l-3.7 3.4 -1.9 2.4 -1.3 2.4 -0.8 2.6 -0.2 1.3 0.1 2.5 0.2 1.3 0.4 1.3 1.1 2.5 2.7 3.6 2.4 2.2 2.9 2.2 5.2 2.9 6.1 2.4 4.4 1.4 4.8 1.2 7.5 1.2 7.7 0.7 5.3 0.1 5.3-0.1 7.8-0.8 7.4-1.3 4.7-1.1 4.4-1.5 6-2.5 5.1-2.9 2.8-2.2 3.4-3.4 0.8-1.2 1.4-2.5 0.4-1.3 0.5-2.5 0-2.6 -0.6-2.5 -1.1-2.5 -0.8-1.3 -3.1-3.5 -2.7-2.2M381.9 115.4l0.6-0.6M377.1 122.7l0.7-0.7M377.3 130.4l0.6-0.8M382.3 137.6l0.5-0.9M391.6 143.8l0.5-1M404.5 148.2l0.3-1M419.5 150.5l0.1-1M435.3 150.5l-0.1-1.1M450.3 148.1l-0.3-1M463 143.5l-0.5-0.9M472.2 137.3l-0.6-0.9M476.9 130l-0.6-0.8M476.8 122.4l-0.6-0.7M471.8 115.1l-0.6-0.6M387.8 346.4l-2.3 2.3 -2.6 3.6 -1.1 2.5 -0.3 1.3 -0.2 2.6 0.1 1.2 0.5 2.6 1.2 2.5 2.7 3.6 2.4 2.3 4.6 3.1 3.5 1.9 4 1.7 6.5 2.2 4.8 1.1 7.4 1.3 5.2 0.5 7.9 0.2 5.3-0.1 7.8-0.7 7.4-1.3 4.7-1.2 6.5-2.2 3.9-1.7 5.1-3 2.8-2.1 3.4-3.5 1.5-2.4 0.6-1.3 0.8-2.5 0.3-2.6 -0.4-2.5 -0.3-1.3 -1.2-2.5 -2.7-3.6 -2.4-2.3M386.6 347.5l0.6-0.6M381.8 354.8l0.7-0.7M381.9 362.5l0.7-0.8M386.9 369.7l0.6-0.9M396.3 375.9l0.5-1M409.2 380.4l0.2-1.1M424.2 382.7l0.1-1.1M440 382.6l-0.1-1.1M455 380.2l-0.3-1M467.7 375.7l-0.5-1M476.8 369.4l-0.5-0.9M481.6 362.1l-0.6-0.8M481.5 354.5l-0.7-0.7M476.5 347.2l-0.6-0.6" stroke="#3eb2df" stroke-width="0.75"/><path d="M382.5 114.8l0.6-0.6M377.8 122l0.7-0.7M377.9 129.6l0.7-0.8M382.8 136.7l0.7-0.9M392.1 142.8l0.5-1M404.8 147.2l0.3-1M419.6 149.5l0.1-1.1M435.2 149.4l-0.1-1M450 147.1l-0.4-1.1M462.5 142.6l-0.5-1M471.6 136.4l-0.7-0.9M476.3 129.2l-0.7-0.8M476.2 121.7l-0.8-0.7M471.2 114.5l-0.6-0.6M387.2 346.9l0.6-0.6M382.5 354.1l0.7-0.7M382.6 361.7l0.7-0.9M387.5 368.8l0.7-0.9M396.8 374.9l0.5-1M409.4 379.3l0.4-1.1M424.3 381.6l0.1-1.1M439.9 381.5l-0.1-1.1M454.7 379.2l-0.4-1.1M467.2 374.7l-0.5-1M476.3 368.5l-0.7-0.9M481 361.3l-0.8-0.8M480.8 353.8l-0.7-0.7M475.9 346.6l-0.6-0.6" stroke="#41bee2" stroke-width="0.75"/><path d="M461.5 107.9l-0.6-0.4M392.1 108.2l0.5-0.5M383.1 114.2l0.8-0.5M378.5 121.3l0.8-0.6M378.6 128.8l0.8-0.8M383.5 135.8l0.7-0.9M392.6 141.8l0.6-1M405.1 146.2l0.4-1.1M419.7 148.4l0.2-1.1M435.1 148.4l-0.2-1.1M449.6 146l-0.3-1.1M462 141.6l-0.6-1M470.9 135.5l-0.7-0.9M475.6 128.4l-0.9-0.7M475.4 121l-0.8-0.7M470.6 113.9l-0.8-0.5M465.9 339.8l-0.3-0.2M397 340l0.3-0.2M387.8 346.3l0.7-0.6M383.2 353.4l0.8-0.7M383.3 360.8l0.8-0.8M388.2 367.9l0.7-0.9M397.3 373.9l0.6-1M409.8 378.2l0.3-1.1M424.4 380.5l0.1-1.2M439.8 380.4l-0.2-1.1M454.3 378.1l-0.3-1.1M466.7 373.7l-0.6-1.1M475.6 367.6l-0.7-0.9M480.2 360.5l-0.8-0.8M480.1 353.1l-0.8-0.7M475.3 346l-0.8-0.6" stroke="#43cbe4" stroke-width="0.75"/><path d="M460.9 107.5l-3.8-1.6M396.4 106.1l-5.5 2.5 -4.5 3 -3.6 3.2 -1.8 2.3 -1.2 2.4 -0.5 1.2 -0.3 1.2 -0.2 2.4 0.1 1.3 0.5 2.4 0.5 1.2 1.4 2.4 2.9 3.3 2.6 2.1 4.6 2.9 5.6 2.6 6.2 2 6.9 1.6 7.3 1 7.5 0.4 5 0 7.5-0.5 7.3-1 6.8-1.7 6.2-2.1 5.4-2.5 4.6-2.9 3.6-3.3 2.4-3.4 0.6-1.2 0.8-2.4 0.2-2.5 -0.1-1.2 -0.6-2.5 -0.5-1.2 -2.2-3.5 -3.3-3.3 -4.3-3 -4.1-2.2M392.6 107.7l0.7-0.4M383.9 113.7l0.8-0.5M379.3 120.7l0.9-0.7M379.4 128l0.9-0.8M384.2 134.9l0.8-0.9M393.2 140.8l0.6-1M405.5 145.1l0.4-1.1M419.9 147.3l0.1-1.1M434.9 147.3l-0.1-1.2M449.3 144.9l-0.5-1.1M461.4 140.6l-0.6-1M470.2 134.6l-0.8-0.9M474.7 127.7l-0.9-0.8M474.6 120.3l-0.9-0.6M469.8 113.4l-0.8-0.5M465.6 339.6l-1.9-0.9M399.1 338.9l-3.5 1.8 -4.6 2.9 -3.5 3.2 -2.5 3.5 -1 2.4 -0.3 1.2 -0.2 2.5 0 1.2 0.3 1.2 0.8 2.4 2.2 3.5 3.3 3.3 2.8 2.1 5 2.8 5.8 2.3 6.4 1.9 7.1 1.4 7.3 0.8 7.6 0.3 7.5-0.3 7.4-0.9 7-1.4 6.4-2 3.9-1.5 5.1-2.7 4.3-3 3.2-3.4 2.1-3.5 0.7-2.4 0.3-2.5 -0.1-1.2 -0.2-1.2 -0.9-2.4 -2.2-3.5 -3.3-3.3 -2.8-2.1 -5.6-3.2M397.3 339.8l0.7-0.4M388.5 345.7l0.9-0.5M384 352.7l0.9-0.7M384.1 360l0.9-0.8M388.9 367l0.8-1M397.9 372.9l0.6-1.1M410.1 377.1l0.5-1.1M424.5 379.3l0.2-1.1M439.6 379.3l-0.1-1.2M454 377l-0.5-1.2M466.1 372.6l-0.7-1M474.9 366.7l-0.8-1M479.4 359.7l-0.9-0.8M479.3 352.4l-0.9-0.7M474.5 345.4l-0.8-0.5" stroke="#46d8e7" stroke-width="0.75"/><path d="M460.2 107.1l-0.7-0.3M448 102.8l-0.3-0.1M405.2 103.1l0.5-0.3M393.3 107.3l0.7-0.3M384.7 113.2l0.9-0.5M380.2 120l1-0.6M380.3 127.2l1-0.8M385 134l0.9-0.9M393.8 139.8l0.7-1M405.9 144l0.4-1.1M420 146.2l0.1-1.2M434.8 146.1l-0.2-1.2M448.8 143.8l-0.4-1.1M460.8 139.6l-0.8-1.1M469.4 133.7l-0.9-0.9M473.8 126.9l-1-0.8M473.7 119.7l-1-0.6M469 112.9l-0.9-0.5M464.9 339.1l-0.7-0.3M452.6 334.8l-0.2-0.1M410.1 334.9l0.3-0.1M398 339.4l0.7-0.4M389.4 345.2l0.9-0.5M384.9 352l1-0.6M385 359.2l1-0.8M389.7 366l0.9-0.9M398.5 371.8l0.7-1.1M410.6 376l0.4-1.2M424.7 378.2l0.1-1.2M439.5 378.1l-0.2-1.2M453.5 375.8l-0.4-1.1M465.4 371.6l-0.7-1.1M474.1 365.7l-0.9-0.9M478.5 358.9l-1-0.8M478.4 351.7l-1-0.6M473.7 344.9l-0.9-0.5" stroke="#49e4e9" stroke-width="0.75"/><path d="M458.8 106.5l-5.5-2.2 -6.1-1.8 -4.3-0.9 -6.8-1 -7.1-0.4 -7.1 0.1 -6.9 0.7 -6.7 1.1 -6.2 1.7 -5.6 2.1 -4.8 2.5 -4 2.9 -3 3.1 -2 3.3 -0.7 2.3 -0.2 1.1 0 1.1 0.3 2.3 0.8 2.3 1.2 2.2 2.8 3.2 2.4 2 2.8 1.8 3.2 1.7 5.4 2.2 4 1.3 6.4 1.4 4.6 0.7 4.6 0.5 4.7 0.2 4.7 0 7.1-0.5 4.5-0.6 6.6-1.3 4.1-1.2 3.8-1.4 5.1-2.3 2.9-1.8 3.7-3 1.9-2.1 1.4-2.2 1-2.2 0.4-2.3 0-2.3 -0.2-1.1 -0.8-2.3 -1.3-2.2 -2.7-3.2 -2.4-2 -2.8-1.8 -3.2-1.7M459.5 106.8l-1.2-0.5M447.7 102.7l-0.7-0.3M433.8 100.5l-0.1-0.1M419.5 100.5l0.2-0.1M405.7 102.8l0.7-0.3M394 107l1.2-0.4M385.6 112.7l1.5-0.6M381.2 119.4l1.7-0.9M381.3 126.4l1.7-1.1M385.9 133.1l1.5-1.4M394.5 138.8l1.2-1.6M406.3 142.9l0.8-1.8M420.1 145l0.3-1.8M434.6 144.9l-0.2-1.8M448.4 142.7l-0.8-1.7M460 138.5l-1.2-1.5M468.5 132.8l-1.5-1.3M472.8 126.1l-1.6-1.1M472.7 119.1l-1.6-0.9M468.1 112.4l-1.5-0.6M463.4 338.4l-5.4-2.2 -6.1-1.8 -6.5-1.3 -7-0.7 -7-0.3 -7.1 0.3 -6.9 0.8 -6.5 1.4 -6.1 1.8 -5.3 2.3 -4.6 2.6 -3.6 2.9 -2.7 3.2 -1.2 2.2 -0.7 2.3 -0.2 1.2 0 1.1 0.3 2.3 1.3 3.4 1.5 2.2 2 2 3.7 3 3 1.7 5.2 2.4 3.9 1.3 4.1 1.2 4.3 0.9 4.5 0.7 4.7 0.4 7.1 0.3 7-0.3 4.7-0.5 4.5-0.7 4.3-1 6-1.8 3.6-1.5 3.4-1.6 2.9-1.8 2.6-1.9 2.1-2.1 2.3-3.2 0.9-2.3 0.5-2.3 0-1.1 -0.2-2.3 -0.8-2.3 -1.3-2.2 -1.7-2.1 -2.2-2 -2.6-2 -4.7-2.6M464.2 338.8l-1.2-0.5M452.4 334.7l-0.7-0.4M438.4 332.4l0-0.1M424.3 332.4l0.1-0.1M410.4 334.8l0.7-0.3M398.7 339l1.2-0.5M390.3 344.7l1.5-0.7M385.9 351.4l1.7-0.9M386 358.4l1.7-1.2M390.6 365.1l1.5-1.4M399.2 370.7l1.2-1.6M411 374.8l0.8-1.7M424.8 377l0.3-1.9M439.3 376.9l-0.3-1.8M453.1 374.7l-0.8-1.8M464.7 370.5l-1.2-1.6M473.2 364.8l-1.5-1.4M477.5 358.1l-1.6-1.2M477.4 351.1l-1.6-0.9M472.8 344.4l-1.5-0.7" stroke="#4febe6" stroke-width="0.75"/><path d="M458.3 106.3l-0.8-0.2M447 102.4l-0.6-0.1M433.7 100.4l-0.2-0.1M419.7 100.4l0.2-0.1M406.4 102.5l0.6-0.1M395.2 106.6l0.9-0.3M387.1 112.1l1.1-0.4M382.9 118.5l1.2-0.5M383 125.3l1.2-0.7M387.4 131.7l1.1-0.9M395.7 137.2l0.9-1.1M407.1 141.1l0.5-1.2M420.4 143.2l0.2-1.3M434.4 143.1l-0.2-1.2M447.6 141l-0.6-1.2M458.8 137l-0.8-1.1M467 131.5l-1.1-1M471.2 125l-1.2-0.7M471.1 118.2l-1.2-0.5M466.6 111.8l-1-0.4M463 338.3l-0.8-0.3M451.7 334.3l-0.6-0.1M438.4 332.3l-0.2-0.1M424.4 332.3l0.2 0M411.1 334.5l0.6-0.2M399.9 338.5l0.9-0.3M391.8 344l1.1-0.4M387.6 350.5l1.2-0.6M387.7 357.2l1.2-0.7M392.1 363.7l1.1-1M400.4 369.1l0.8-1.1M411.8 373.1l0.5-1.2M425.1 375.1l0.2-1.3M439 375.1l-0.2-1.3M452.3 372.9l-0.6-1.2M463.5 368.9l-0.8-1.1M471.7 363.4l-1.1-0.9M475.9 356.9l-1.2-0.7M475.8 350.2l-1.3-0.6M471.3 343.7l-1.1-0.4" stroke="#5aecdd" stroke-width="0.75"/><path d="M457.5 106.1l-0.9-0.2M446.4 102.3l-0.5-0.1M433.5 100.3l-0.2 0M419.9 100.3l0.2 0M407 102.4l0.6 0M396.1 106.3l0.9-0.2M388.2 111.7l1.1-0.4M384.1 118l1.3-0.6M384.2 124.6l1.3-0.8M388.5 130.8l1.1-0.9M396.6 136.1l0.9-1.1M407.6 139.9l0.6-1.2M420.6 141.9l0.2-1.2M434.2 141.9l-0.3-1.3M447 139.8l-0.6-1.2M458 135.9l-1-1.1M465.9 130.5l-1.2-0.9M470 124.3l-1.3-0.8M469.9 117.7l-1.3-0.6M465.6 111.4l-1.2-0.3M462.2 338l-0.9-0.2M451.1 334.2l-0.6-0.1M438.2 332.2l-0.2 0M424.6 332.3l0.2-0.1M411.7 334.3l0.6-0.1M400.8 338.2l0.9-0.2M392.9 343.6l1.1-0.4M388.8 349.9l1.3-0.6M388.9 356.5l1.3-0.8M393.2 362.7l1.1-0.9M401.2 368l1-1.1M412.3 371.9l0.6-1.3M425.3 373.8l0.1-1.2M438.8 373.8l-0.2-1.3M451.7 371.7l-0.6-1.2M462.7 367.8l-1-1.1M470.6 362.5l-1.2-1M474.7 356.2l-1.3-0.8M474.5 349.6l-1.2-0.6M470.2 343.3l-1.1-0.3" stroke="#65ecd3" stroke-width="0.75"/><path d="M456.1 105.9l-5-2.1 -3.6-1.1 -5.9-1.3 -6.3-0.9 -6.4-0.4 -6.5 0.1 -6.4 0.6 -6.1 1.1 -5.7 1.5 -5.1 1.9 -4.5 2.3 -3.6 2.6 -2.8 2.9 -1.8 3 -0.8 3.2 0.3 3.1 0.7 2.1 1.1 2 2.6 2.9 2.2 1.8 2.5 1.7 3 1.6 4.9 2 3.7 1.1 7.9 1.7 4.2 0.6 6.5 0.3 4.3 0 6.5-0.4 8.2-1.3 3.8-1 3.6-1.2 5-2 2.8-1.6 2.6-1.7 3-2.8 1.5-2 1.5-3 0.5-3.2 -0.3-2.1 -0.7-2 -1.2-2.1 -1.6-1.9 -3.1-2.8 -2.6-1.7 -2.9-1.5M456.6 105.9l-1-0.1M445.9 102.2l-0.7 0M433.3 100.3l-0.2 0M420.1 100.3l0.2 0.1M407.6 102.4l0.6-0.1M397 106.1l1-0.1M389.3 111.3l1.3-0.3M385.4 117.4l1.3-0.5M385.5 123.8l1.3-0.7M389.6 129.9l1.3-0.9M397.5 135l1-1.1M408.2 138.7l0.6-1.2M420.8 140.7l0.2-1.3M433.9 140.6l-0.2-1.2M446.4 138.6l-0.6-1.2M457 134.8l-0.9-1.1M464.7 129.6l-1.2-0.9M468.7 123.5l-1.4-0.7M468.6 117.1l-1.4-0.5M464.4 111.1l-1.2-0.3M460.8 337.7l-3.3-1.4 -5.4-1.7 -5.8-1.4 -6.3-0.8 -6.4-0.4 -6.5 0.1 -6.4 0.6 -6.1 1.1 -5.7 1.5 -5.2 1.9 -4.4 2.3 -3.6 2.6 -2.8 2.9 -1.8 3 -0.8 3.1 0.2 3.2 0.8 2.1 1.1 2 2.5 2.9 2.2 1.8 2.6 1.7 4.5 2.3 3.4 1.3 3.7 1.1 7.9 1.7 4.2 0.5 6.5 0.4 8.6-0.2 4.3-0.5 6.1-1.1 5.7-1.5 3.4-1.2 3.2-1.4 4.2-2.5 2.4-1.7 1.9-1.9 2.1-3 0.9-2 0.4-2.1 0-2.1 -0.5-2.1 -1.6-3.1 -1.6-2 -2-1.8 -3.7-2.6 -2.9-1.6M461.3 337.8l-1-0.1M450.5 334.1l-0.6 0M438 332.2l-0.2 0M424.8 332.2l0.2 0M412.3 334.2l0.6 0M401.7 338l1-0.1M394 343.2l1.3-0.3M390.1 349.3l1.3-0.5M390.2 355.7l1.3-0.7M394.3 361.8l1.3-1M402.2 366.9l0.9-1.1M412.9 370.6l0.6-1.2M425.4 372.6l0.3-1.3M438.6 372.5l-0.2-1.3M451.1 370.5l-0.6-1.2M461.7 366.7l-1-1.1M469.4 361.5l-1.3-0.9M473.4 355.4l-1.4-0.7M473.3 349l-1.4-0.5M469.1 343l-1.2-0.4" stroke="#70edca" stroke-width="0.75"/><path d="M455.6 105.8l-1.6-0.1M445.2 102.2l-1 0.1M433.1 100.3l-0.3 0.2M420.3 100.4l0.4 0.2M408.2 102.3l1.1 0.1M398 106l1.6-0.1M390.6 111l2-0.4M386.7 116.9l2.2-0.7M386.8 123.1l2.2-1.1M390.9 129l2-1.4M398.5 133.9l1.5-1.6M408.8 137.5l1-1.8M421 139.4l0.3-2M433.7 139.4l-0.4-2M445.8 137.4l-1-1.8M456.1 133.7l-1.6-1.6M463.5 128.7l-2-1.4M467.3 122.8l-2.2-1M467.2 116.6l-2.2-0.7M463.2 110.8l-2-0.4M460.3 337.7l-1.6-0.2M449.9 334.1l-1 0M437.8 332.2l-0.4 0.2M425 332.2l0.4 0.2M412.9 334.2l1.1 0M402.7 337.9l1.6-0.2M395.3 342.9l2-0.4M391.4 348.8l2.2-0.8M391.5 355l2.2-1.1M395.6 360.8l1.9-1.4M403.1 365.8l1.6-1.7M413.5 369.4l1-1.9M425.7 371.3l0.3-2M438.4 371.2l-0.4-2M450.5 369.3l-1-1.9M460.7 365.6l-1.5-1.7M468.1 360.6l-1.9-1.4M472 354.7l-2.2-1.1M471.9 348.5l-2.2-0.7M467.9 342.6l-2-0.4" stroke="#7beec1" stroke-width="0.75"/><path d="M454 105.7l-1.1 0M444.2 102.3l-0.7 0.1M432.8 100.5l-0.3 0.2M420.7 100.6l0.3 0.2M409.3 102.4l0.7 0.1M399.6 105.9l1.1 0M392.6 110.6l1.4-0.2M388.9 116.2l1.6-0.4M389 122l1.6-0.6M392.9 127.6l1.4-0.9M400 132.3l1.1-1.1M409.8 135.7l0.7-1.3M421.3 137.4l0.2-1.3M433.3 137.4l-0.2-1.3M444.8 135.6l-0.7-1.3M454.5 132.1l-1.2-1.1M461.5 127.3l-1.4-0.9M465.1 121.8l-1.6-0.7M465 115.9l-1.5-0.4M461.2 110.4l-1.4-0.2M458.7 337.5l-1.1 0M448.9 334.1l-0.7 0.1M437.4 332.4l-0.2 0.1M425.4 332.4l0.2 0.2M414 334.2l0.7 0.1M404.3 337.7l1.1 0M397.3 342.5l1.4-0.3M393.6 348l1.6-0.4M393.7 353.9l1.6-0.7M397.5 359.4l1.4-0.9M404.7 364.1l1.1-1.1M414.5 367.5l0.7-1.3M426 369.3l0.2-1.4M438 369.2l-0.2-1.3M449.5 367.4l-0.8-1.3M459.2 363.9l-1.2-1.1M466.2 359.2l-1.5-0.9M469.8 353.6l-1.6-0.7M469.7 347.8l-1.6-0.5M465.9 342.2l-1.4-0.2" stroke="#85efb8" stroke-width="0.75"/><path d="M452.9 105.7l-4.4-1.8 -3.3-1 -5.2-1.2 -3.7-0.6 -3.8-0.4 -5.8-0.2 -7.6 0.4 -3.8 0.5 -5.3 1.1 -3.3 1 -4.6 1.7 -4 2.1 -2.2 1.5 -1.9 1.6 -1.6 1.7 -1.1 1.8 -1 2.8 -0.2 1.9 0.2 1.8 1.1 2.8 1.3 1.8 1.6 1.7 3 2.4 3.8 2.1 2.9 1.2 3.2 1.1 5.1 1.3 7.3 1.2 5.8 0.3 3.8 0 5.8-0.4 5.5-0.8 5.2-1.2 3.3-1.1 4.3-1.8 3.8-2.1 3-2.5 1.5-1.7 1.6-2.7 0.7-2.8 -0.2-2.8 -1.1-2.7 -1.2-1.8 -1.6-1.7 -3.1-2.4 -3.8-2.1 -1.7 0.1M443.5 102.4l-1.1 0.3M432.5 100.7l-0.4 0.4M421 100.8l0.4 0.4M410 102.5l1.2 0.3M400.7 105.9l1.8 0M394 110.4l2.2-0.2M390.5 115.8l2.5-0.7M390.6 121.4l2.5-1M394.3 126.7l2.2-1.4M401.1 131.2l1.8-1.7M410.5 134.4l1.1-1.8M421.5 136.1l0.4-2M433.1 136.1l-0.4-2M444.1 134.3l-1.2-1.8M453.3 131l-1.7-1.6M460.1 126.4l-2.3-1.3M463.5 121.1l-2.4-1M463.5 115.5l-2.5-0.6M459.8 110.2l-2.2-0.2M457.6 337.5l-2.9-1.3 -4.8-1.5 -5.2-1.2 -3.7-0.6 -5.7-0.5 -3.9-0.1 -7.6 0.4 -5.6 0.9 -3.5 0.7 -3.3 1 -4.6 1.7 -2.7 1.3 -3.5 2.3 -1.9 1.6 -1.6 1.7 -1.1 1.8 -0.8 1.9 -0.4 1.8 0.2 2.8 1.1 2.8 1.2 1.8 1.6 1.7 3.1 2.4 2.5 1.4 2.7 1.3 3 1.2 5 1.4 5.4 1.1 3.7 0.5 5.8 0.3 3.8 0 3.9-0.2 5.6-0.7 5.3-1.1 5-1.5 4.3-1.8 3.8-2.1 2.9-2.4 1.6-1.8 1.6-2.7 0.7-2.8 -0.2-2.8 -1.1-2.7 -2-2.7 -2.8-2.4 -2.3-1.5 -2.6-1.4 -1.7 0M448.2 334.2l-1.1 0.3M437.2 332.5l-0.4 0.4M425.6 332.6l0.5 0.3M414.7 334.3l1.1 0.3M405.4 337.7l1.8 0M398.7 342.2l2.2-0.3M395.2 347.6l2.5-0.7M395.3 353.2l2.4-1.1M398.9 358.5l2.3-1.4M405.8 363l1.8-1.7M415.2 366.2l1.1-1.9M426.2 367.9l0.4-2M437.8 367.9l-0.4-2M448.7 366.1l-1.1-1.9M458 362.8l-1.7-1.7M464.7 358.3l-2.2-1.4M468.2 352.9l-2.4-1M468.1 347.3l-2.4-0.6M464.5 342l-2.2-0.3" stroke="#90f0ae" stroke-width="0.75"/><path d="M451.2 105.8l-1.9 0.1M442.4 102.7l-1.2 0.4M432.1 101.1l-0.3 0.6M421.4 101.2l0.4 0.5M411.2 102.8l1.2 0.4M402.5 105.9l1.9 0.2M396.2 110.2l2.4-0.2M393 115.1l2.6-0.5M393.1 120.4l2.6-1M396.5 125.3l2.3-1.3M402.9 129.5l1.8-1.6M411.6 132.6l1.2-1.9M421.9 134.1l0.4-2M432.7 134.1l-0.5-2M442.9 132.5l-1.2-1.9M451.6 129.4l-1.9-1.7M457.8 125.1l-2.3-1.3M461.1 120.1l-2.6-0.9M461 114.9l-2.6-0.5M457.6 110l-2.4-0.2M455.9 337.5l-1.9 0.2M447.1 334.5l-1.2 0.4M436.8 332.9l-0.4 0.5M426.1 332.9l0.4 0.5M415.8 334.6l1.3 0.4M407.2 337.7l1.9 0.1M400.9 341.9l2.4-0.2M397.7 346.9l2.6-0.6M397.7 352.1l2.6-0.9M401.2 357.1l2.3-1.4M407.6 361.3l1.8-1.7M416.3 364.3l1.2-1.9M426.6 365.9l0.4-2M437.4 365.9l-0.5-2M447.6 364.2l-1.2-1.9M456.3 361.1l-1.9-1.6M462.5 356.9l-2.3-1.4M465.8 351.9l-2.6-0.9M465.7 346.7l-2.6-0.6M462.3 341.7l-2.4-0.1" stroke="#9bf0a5" stroke-width="0.75"/><path d="M449.3 105.9l-3.8-1.5 -2.8-0.9 -3-0.7 -4.7-0.8 -3.2-0.3 -5-0.2 -3.3 0.1 -4.9 0.4 -4.7 0.9 -3 0.7 -4.1 1.4 -2.4 1.1 -3.2 1.8 -1.8 1.4 -1.5 1.4 -1.6 2.3 -0.9 2.4 -0.2 1.6 0.5 2.4 0.7 1.6 1.7 2.3 1.5 1.4 2.9 2 2.2 1.2 2.5 1.1 4.1 1.3 3 0.7 4.7 0.8 3.3 0.3 5 0.2 3.3-0.1 4.9-0.4 4.7-0.9 4.4-1.1 2.6-1 3.6-1.7 3-1.9 1.7-1.4 1.3-1.5 1.4-2.3 0.6-2.4 0-1.6 -0.7-2.4 -1.5-2.3 -1.4-1.5 -1.6-1.4 -3.1-1.9 -1.2-0.6 -1.9 0.3M441.2 103.1l-1.2 0.6M431.8 101.7l-0.5 0.6M421.8 101.7l0.5 0.7M412.4 103.2l1.3 0.5M404.4 106.1l1.9 0.3M398.6 110l2.5-0.1M395.6 114.6l2.7-0.5M395.7 119.4l2.7-0.9M398.8 124l2.5-1.3M404.7 127.9l2-1.7M412.8 130.7l1.3-1.9M422.3 132.1l0.4-2M432.2 132.1l-0.4-2M441.7 130.6l-1.3-1.9M449.7 127.7l-2-1.6M455.5 123.8l-2.5-1.3M458.5 119.2l-2.8-0.9M458.4 114.4l-2.8-0.5M455.2 109.8l-2.4 0M454 337.7l-3.8-1.6 -2.8-0.9 -3-0.7 -4.7-0.8 -3.3-0.3 -4.9-0.2 -5 0.2 -3.3 0.4 -4.6 0.8 -3 0.8 -2.8 0.8 -3.7 1.6 -2.3 1.2 -2.7 2 -2.2 2.2 -1 1.6 -0.8 2.3 -0.2 1.7 0.2 1.6 1 2.3 1.7 2.3 1.5 1.4 2.9 2 2.2 1.2 2.5 1.1 4.1 1.4 4.6 1 3.1 0.5 3.3 0.3 5 0.2 4.9-0.2 3.3-0.4 4.7-0.8 2.9-0.8 4.1-1.3 2.5-1.1 3.2-1.9 2.6-2.1 1.8-2.2 0.9-1.6 0.6-2.4 -0.2-2.4 -0.9-2.3 -1.1-1.6 -1.4-1.4 -1.7-1.4 -3-1.9 -1.2-0.6 -1.9 0.2M445.9 334.9l-1.2 0.5M436.4 333.4l-0.4 0.6M426.5 333.4l0.4 0.7M417.1 335l1.2 0.5M409.1 337.8l1.9 0.3M403.3 341.7l2.5-0.1M400.3 346.3l2.7-0.5M400.3 351.2l2.8-1M403.5 355.7l2.5-1.3M409.4 359.6l2-1.6M417.5 362.4l1.2-1.9M427 363.9l0.4-2M436.9 363.9l-0.4-2.1M446.4 362.3l-1.3-1.9M454.4 359.5l-2-1.7M460.2 355.5l-2.5-1.3M463.2 351l-2.8-1M463.1 346.1l-2.8-0.5M459.9 341.6l-2.4-0.1" stroke="#a6f19c" stroke-width="0.75"/><path d="M445.3 106.6l-3.1-1.3 -3.5-1 -3.8-0.7 -4-0.5 -4.1-0.1 -4.1 0.1 -3.9 0.5 -3.8 0.8 -3.5 1 -3.1 1.3 -1.8 1 -2.3 1.7 -1.7 1.8 -1.2 1.9 -0.5 1.9 0.2 2 0.4 1.3 1.2 1.9 2.5 2.4 1.7 1.1 2.8 1.4 4.4 1.5 6.4 1.3 5.4 0.4 6.8-0.3 5.1-0.8 4.7-1.4 2.2-0.8 2.7-1.5 2.3-1.6 1.3-1.2 1.3-1.9 0.6-1.3 0.2-1.3 0-1.3 -0.3-1.3 -1-2 -1.6-1.8 -1.4-1.1 -3.5-2.1M447.4 106.2l-2.8 0.6M440 103.7l-1.7 0.8M431.3 102.3l-0.5 1.1M422.3 102.4l0.6 1M413.7 103.7l1.7 0.9M406.3 106.4l2.8 0.5M401.1 109.9l3.5 0.1M398.3 114.1l3.9-0.5M398.4 118.5l3.8-1.1M401.3 122.7l3.4-1.7M406.7 126.2l2.7-2.1M414.1 128.8l1.7-2.5M422.7 130.1l0.6-2.6M431.8 130.1l-0.6-2.7M440.4 128.7l-1.8-2.5M447.7 126.1l-2.8-2.1M453 122.5l-3.5-1.6M455.7 118.3l-3.8-1M455.6 113.9l-3.8-0.5M452.8 109.8l-3.5 0M450 338.3l-3.1-1.3 -3.5-1 -6.5-1.1 -4-0.2 -4.1 0 -4 0.4 -3.9 0.7 -3.6 0.9 -3.2 1.3 -2.8 1.4 -2.3 1.7 -1.7 1.8 -1.2 1.9 -0.5 1.9 0.2 2 0.4 1.3 1.2 1.9 2.5 2.4 1.6 1 2.9 1.5 4.4 1.5 5 1.1 6.8 0.6 6.7-0.3 6.4-1.1 4.6-1.5 2-0.9 2.7-1.5 1.4-1.1 1.8-1.8 0.8-1.3 0.5-1.3 0.3-2 -0.1-1.3 -0.5-1.3 -0.7-1.3 -1-1.2 -2-1.8 -3.5-2M452.1 337.9l-2.8 0.5M444.7 335.4l-1.8 0.8M436 334l-0.6 1.1M426.9 334.1l0.7 1M418.3 335.5l1.8 0.8M411 338.1l2.8 0.5M405.8 341.6l3.4 0.1M403 345.8l3.9-0.5M403.1 350.2l3.8-1.1M406 354.4l3.4-1.7M411.4 358l2.7-2.2M418.7 360.5l1.8-2.5M427.4 361.9l0.6-2.7M436.5 361.8l-0.7-2.7M445.1 360.4l-1.8-2.5M452.4 357.8l-2.8-2.1M457.7 354.2l-3.5-1.6M460.4 350l-3.8-1.1M460.3 345.6l-3.8-0.5M457.5 341.5l-3.5 0" stroke="#b1f293" stroke-width="0.75"/><path d="M444.6 106.8l-2.8 0.7M438.3 104.5l-1.9 1.1M430.8 103.4l-0.6 1.3M422.9 103.4l0.7 1.3M415.4 104.6l1.9 1.1M409.1 106.9l2.9 0.7M404.6 110l3.6 0.2M402.2 113.6l4-0.4M402.2 117.4l4.1-1M404.7 121l3.7-1.6M409.4 124.1l2.9-2.1M415.8 126.3l1.8-2.4M423.3 127.5l0.6-2.7M431.2 127.4l-0.7-2.6M438.6 126.2l-1.9-2.4M444.9 124l-2.9-2.1M449.5 120.9l-3.7-1.6M451.9 117.3l-4.1-1M451.8 113.4l-4-0.3M449.3 109.8l-3.6 0.3M449.3 338.4l-2.8 0.7M442.9 336.2l-1.8 1.1M435.4 335.1l-0.6 1.2M427.6 335.1l0.7 1.2M420.1 336.3l1.9 1M413.8 338.6l2.9 0.6M409.2 341.7l3.7 0.1M406.9 345.3l4-0.4M406.9 349.1l4.1-1M409.4 352.7l3.6-1.6M414.1 355.8l2.9-2.1M420.5 358l1.8-2.5M428 359.2l0.6-2.7M435.8 359.1l-0.6-2.6M443.3 357.9l-1.9-2.4M449.6 355.7l-2.9-2.1M454.2 352.6l-3.7-1.6M456.6 348.9l-4.1-1M456.5 345.1l-4-0.4M454 341.5l-3.6 0.2" stroke="#bcf389" stroke-width="0.75"/><path d="M441 107.7l-2.4-1 -2.6-0.8 -2.9-0.5 -3.1-0.4 -6.3 0 -4.9 0.8 -2.8 0.7 -2.5 0.9 -2.1 1.2 -1.8 1.2 -1.3 1.4 -0.9 1.4 -0.3 1.6 0.1 1.5 0.6 1.5 0.6 0.9 1.9 1.8 3.5 1.9 4.3 1.5 3.9 0.7 5.2 0.3 5.2-0.4 3.8-0.7 4.3-1.4 2.8-1.6 2-1.7 1.1-1.5 0.4-1 0.2-1.5 -0.1-1 -0.9-2 -1.7-1.8 -3.3-2M441.8 107.5l-3.8 1.1M436.4 105.6l-2.4 1.7M430.2 104.7l-0.8 1.8M423.6 104.7l0.8 1.9M417.3 105.7l2.5 1.6M412 107.6l3.8 1.1M408.2 110.2l4.8 0.5M406.2 113.2l5.3-0.3M406.3 116.4l5.2-1.1M408.4 119.4l4.7-1.8M412.3 122l3.7-2.5M417.6 123.9l2.4-3M423.9 124.8l0.8-3.2M430.5 124.8l-0.9-3.2M436.7 123.8l-2.4-3M442 121.9l-3.8-2.5M445.8 119.3l-4.7-1.8M447.8 116.3l-5.2-1.1M447.8 113.1l-5.3-0.3M445.7 110.1l-4.7 0.5M445.7 339.3l-2.4-0.9 -2.7-0.8 -2.9-0.6 -3-0.3 -6.3 0 -3 0.3 -2.9 0.6 -4.3 1.5 -2.1 1.1 -1.8 1.3 -1.3 1.3 -0.9 1.5 -0.4 1.5 0.2 1.5 0.9 2 1.2 1.4 1 0.9 3.5 1.9 3.4 1.2 3.8 0.8 5.1 0.4 4.2-0.1 5-0.7 4.4-1.4 2.9-1.4 1.3-0.8 1.4-1.4 1.1-1.4 0.4-1 0.2-2 -0.3-1 -0.7-1.5 -0.8-1 -1.5-1.3 -2.7-1.6M446.5 339.1l-3.8 1.2M441.1 337.3l-2.4 1.6M434.8 336.3l-0.8 1.9M428.3 336.3l0.8 1.9M422 337.3l2.5 1.6M416.7 339.2l3.8 1.1M412.9 341.8l4.8 0.5M410.9 344.9l5.3-0.3M411 348.1l5.2-1.2M413 351.1l4.8-1.9M417 353.7l3.7-2.6M422.3 355.5l2.4-3M428.6 356.5l0.8-3.3M435.2 356.5l-0.9-3.3M441.4 355.5l-2.4-3M446.7 353.6l-3.8-2.6M450.5 351l-4.7-1.9M452.5 347.9l-5.3-1.1M452.5 344.7l-5.3-0.2M450.4 341.7l-4.8 0.5" stroke="#c6f480" stroke-width="0.75"/><path d="M436.5 109.2l-3.4-1.2 -4.1-0.6 -3.5-0.1 -4.1 0.6 -3.5 1.1 -2.6 1.6 -0.9 0.9 -0.6 1 -0.3 1.1 0.1 1 0.8 1.6 1.3 1.3 1.8 1 2.9 1.1 3.2 0.6 2.8 0.2 2.8-0.1 3.4-0.5 2.5-0.7 2.5-1.2 1.8-1.4 0.9-1.3 0.2-1.7 -0.4-1.4 -1.4-1.6 -2.2-1.3M431.8 111l-1.7-0.6 -2.1-0.3 -2.1 0 -2 0.4 -1.7 0.6 -1.1 0.7 -0.8 0.9 0 1.1 0.3 0.6 0.7 0.8 1.2 0.7 1.5 0.5 3.1 0.3 3.1-0.4 2.4-1 0.7-0.6 0.5-0.8 0-0.9 -0.3-0.6 -0.8-0.8 -0.9-0.6M438 108.6l-7.8 3.1M434 107.3l-4.9 4M429.4 106.5l-1.7 4.6M424.4 106.6l1.9 4.5M419.8 107.3l5.1 4.1M415.8 108.7l8 3.1M413 110.7l10 1.6M411.5 112.9l11 0.1M411.5 115.3l11-1.6M413.1 117.6l9.9-3.3M416 119.5l7.8-4.6M420 120.9l5-5.6M424.7 121.6l1.6-6.1M429.6 121.6l-1.8-6.1M434.3 120.8l-5.2-5.5M438.2 119.4l-7.9-4.5M441.1 117.5l-10-3.2M442.6 115.2l-11.1-1.6M442.5 112.8l-11 0.2M441 110.6l-9.9 1.7M441.2 340.8l-2.8-1 -4-0.7 -4.2-0.1 -4.1 0.5 -3.5 1.1 -2.6 1.6 -0.9 1 -0.6 1 -0.3 1 0.1 1 0.8 1.7 1.3 1.2 2.3 1.3 2.3 0.8 3.3 0.6 2.8 0.2 2.8-0.1 3.4-0.5 2.4-0.7 2.6-1.1 1.8-1.5 0.9-1.3 0.2-1.7 -0.5-1.4 -1.3-1.5 -2.2-1.4M436.5 342.6l-1.7-0.6 -2.1-0.3 -1.8 0 -2 0.3 -1.8 0.6 -1.3 0.8 -0.8 0.9 -0.1 1.1 0.3 0.6 0.8 0.8 2.3 1.1 3.1 0.4 3.1-0.3 2.5-0.9 1-0.8 0.5-0.8 0-0.9 -0.3-0.6 -0.8-0.8 -0.9-0.6M442.7 340.3l-7.8 3M438.7 338.9l-5 4M434 338.2l-1.6 4.5M429.1 338.2l1.9 4.5M424.5 338.9l5.1 4.1M420.5 340.3l8 3.1M417.7 342.3l9.9 1.6M416.2 344.6l11 0M416.2 346.9l11-1.6M417.8 349.2l9.9-3.3M420.7 351.1l7.8-4.6M424.7 352.5l5-5.6M429.4 353.2l1.6-6.1M434.3 353.2l-1.8-6.1M439 352.5l-5.2-5.6M442.9 351l-7.9-4.5M445.8 349.1l-10-3.2M447.2 346.8l-11-1.6M447.2 344.5l-11 0.1M445.6 342.2l-9.8 1.7" stroke="#d1f477" stroke-width="0.75"/><path d="M430.2 111.7l-3.2 1.6M429.1 111.3l-2.1 2M427.7 111.1l-0.7 2.2M426.3 111.1l0.7 2.2M424.9 111.4l2.1 1.9M423.8 111.8l3.2 1.5M423 112.3l4 1M422.5 113l4.5 0.3M422.5 113.7l4.5-0.4M423 114.3l4-1M423.8 114.9l3.2-1.6M425 115.3l2-2M426.3 115.5l0.7-2.2M427.8 115.5l-0.8-2.2M429.1 115.3l-2.1-2M430.3 114.9l-3.3-1.6M431.1 114.3l-4.1-1M431.5 113.6l-4.5-0.3M431.5 113l-4.5 0.3M431.1 112.3l-4.1 1M434.9 343.3l-3.2 1.5M433.7 342.9l-2 1.9M432.4 342.7l-0.7 2.1M431 342.7l0.7 2.1M429.6 343l2.1 1.8M428.5 343.4l3.2 1.4M427.6 343.9l4.1 0.9M427.2 344.6l4.5 0.2M427.2 345.3l4.5-0.5M427.7 345.9l4-1.1M428.5 346.5l3.2-1.7M429.7 346.9l2-2.1M431 347.1l0.7-2.3M432.5 347.1l-0.8-2.3M433.8 346.9l-2.1-2.1M435 346.5l-3.3-1.7M435.8 345.9l-4.1-1.1M436.2 345.2l-4.5-0.4M436.2 344.6l-4.5 0.2M435.8 343.9l-4.1 0.9" stroke="#dcf56e" stroke-width="0.75"/></g><line x1="395.2" y1="446.2" x2="23.0" y2="268.4" stroke="#20204a" stroke-width="0.8"/><line x1="395.2" y1="446.2" x2="761.6" y2="265.9" stroke="#20204a" stroke-width="0.8"/><line x1="395.2" y1="446.2" x2="386.2" y2="450.6" stroke="#333" stroke-width="1.0"/><text transform="translate(383.2,461.8) scale(0.8,1)" class="t3" text-anchor="end">0</text><line x1="395.2" y1="446.2" x2="404.2" y2="450.5" stroke="#333" stroke-width="1.0"/><text transform="translate(406.6,461.4) scale(0.8,1)" class="t3">0</text><line x1="358.0" y1="428.4" x2="349.0" y2="432.8" stroke="#333" stroke-width="1.0"/><text transform="translate(346.0,444.0) scale(0.8,1)" class="t3" text-anchor="end">2</text><line x1="431.8" y1="428.2" x2="440.9" y2="432.5" stroke="#333" stroke-width="1.0"/><text transform="translate(443.2,443.4) scale(0.8,1)" class="t3">2</text><line x1="320.8" y1="410.6" x2="311.8" y2="415.1" stroke="#333" stroke-width="1.0"/><text transform="translate(308.8,426.2) scale(0.8,1)" class="t3" text-anchor="end">4</text><line x1="468.5" y1="410.1" x2="477.5" y2="414.5" stroke="#333" stroke-width="1.0"/><text transform="translate(479.9,425.3) scale(0.8,1)" class="t3">4</text><line x1="283.5" y1="392.9" x2="274.6" y2="397.3" stroke="#333" stroke-width="1.0"/><text transform="translate(271.5,408.5) scale(0.8,1)" class="t3" text-anchor="end">6</text><line x1="505.1" y1="392.1" x2="514.1" y2="396.4" stroke="#333" stroke-width="1.0"/><text transform="translate(516.5,407.3) scale(0.8,1)" class="t3">6</text><line x1="246.3" y1="375.1" x2="237.3" y2="379.5" stroke="#333" stroke-width="1.0"/><text transform="translate(234.3,390.7) scale(0.8,1)" class="t3" text-anchor="end">8</text><line x1="541.8" y1="374.1" x2="550.8" y2="378.4" stroke="#333" stroke-width="1.0"/><text transform="translate(553.2,389.3) scale(0.8,1)" class="t3">8</text><line x1="209.1" y1="357.3" x2="200.1" y2="361.7" stroke="#333" stroke-width="1.0"/><text transform="translate(197.1,372.9) scale(0.8,1)" class="t3" text-anchor="end">10</text><line x1="578.4" y1="356.0" x2="587.4" y2="360.4" stroke="#333" stroke-width="1.0"/><text transform="translate(589.8,371.2) scale(0.8,1)" class="t3">10</text><line x1="171.9" y1="339.5" x2="162.9" y2="343.9" stroke="#333" stroke-width="1.0"/><text transform="translate(159.9,355.1) scale(0.8,1)" class="t3" text-anchor="end">12</text><line x1="615.0" y1="338.0" x2="624.1" y2="342.3" stroke="#333" stroke-width="1.0"/><text transform="translate(626.4,353.2) scale(0.8,1)" class="t3">12</text><line x1="134.7" y1="321.7" x2="125.7" y2="326.2" stroke="#333" stroke-width="1.0"/><text transform="translate(122.7,337.3) scale(0.8,1)" class="t3" text-anchor="end">14</text><line x1="651.7" y1="320.0" x2="660.7" y2="324.3" stroke="#333" stroke-width="1.0"/><text transform="translate(663.1,335.2) scale(0.8,1)" class="t3">14</text><line x1="97.4" y1="304.0" x2="88.5" y2="308.4" stroke="#333" stroke-width="1.0"/><text transform="translate(85.4,319.6) scale(0.8,1)" class="t3" text-anchor="end">16</text><line x1="688.3" y1="302.0" x2="697.3" y2="306.3" stroke="#333" stroke-width="1.0"/><text transform="translate(699.7,317.2) scale(0.8,1)" class="t3">16</text><line x1="60.2" y1="286.2" x2="51.2" y2="290.6" stroke="#333" stroke-width="1.0"/><text transform="translate(48.2,301.8) scale(0.8,1)" class="t3" text-anchor="end">18</text><line x1="725.0" y1="283.9" x2="734.0" y2="288.2" stroke="#333" stroke-width="1.0"/><text transform="translate(736.4,299.1) scale(0.8,1)" class="t3">18</text><line x1="23.0" y1="268.4" x2="14.0" y2="272.8" stroke="#333" stroke-width="1.0"/><text transform="translate(11.0,284.0) scale(0.8,1)" class="t3" text-anchor="end">20</text><line x1="761.6" y1="265.9" x2="770.6" y2="270.2" stroke="#333" stroke-width="1.0"/><text transform="translate(773.0,281.1) scale(0.8,1)" class="t3">20</text><path d="M314.7 109.6C302.3 115.8 257.1 138.7 240.5 146.9C223.9 155.1 220.0 156.3 215.3 158.7C210.6 161.0 213.1 160.2 212.3 161.0C211.5 161.8 210.8 162.6 210.4 163.4C210.0 164.2 209.7 165.2 209.9 166.0C210.1 166.8 210.2 167.0 211.5 168.3C212.8 169.6 215.9 172.2 217.6 173.6C219.2 175.0 217.3 174.1 221.4 176.7C225.5 179.2 235.1 185.2 242.0 188.9C248.9 192.7 255.6 195.8 262.9 199.2C270.2 202.6 278.2 206.2 285.9 209.6C293.5 212.9 301.9 215.9 308.8 219.3C315.7 222.7 320.7 226.8 327.2 229.9C333.7 233.0 343.7 235.7 347.8 237.9C351.9 240.1 350.8 241.4 351.9 243.1C353.0 244.8 353.7 246.3 354.2 248.3C354.7 250.3 354.5 245.7 354.8 255.1C355.1 264.6 355.6 287.3 355.9 305.0C356.2 322.7 356.1 351.2 356.5 361.3C356.9 371.4 357.3 364.1 358.0 365.3C358.7 366.5 359.5 367.4 360.6 368.4C361.7 369.4 363.5 370.6 364.7 371.5C365.9 372.4 365.9 372.7 367.7 373.5C369.5 374.3 372.7 375.0 375.7 376.3C378.7 377.6 383.0 379.7 385.6 381.2C388.2 382.7 389.9 383.9 391.4 385.4C392.9 386.9 394.1 388.6 394.7 390.4C395.3 392.2 395.1 394.5 395.1 396.1C395.1 397.8 394.8 396.3 394.8 400.3C394.8 404.3 395.2 413.4 395.3 420.0C395.4 426.6 395.6 436.7 395.6 440.0" fill="none" stroke="#151515" stroke-width="1.3" stroke-linejoin="round"/><path d="M315.7 109.0C315.9 120.8 316.4 161.6 316.8 180.0C317.2 198.4 317.4 212.0 317.8 219.3C318.2 226.6 318.3 222.7 319.1 223.9C319.9 225.2 320.8 225.9 322.6 226.8C324.4 227.8 325.8 227.8 330.0 229.6C334.2 231.4 343.9 235.8 347.8 237.9C351.7 240.0 351.1 240.7 353.6 242.0C356.1 243.3 359.4 244.4 362.8 246.0C366.2 247.6 370.8 250.1 374.2 251.7C377.6 253.3 381.4 254.4 383.4 255.7C385.4 256.9 386.0 257.9 386.3 259.2C386.6 260.4 386.4 262.0 385.1 263.2C383.9 264.4 381.8 265.1 378.8 266.6C375.8 268.1 370.2 270.8 367.3 272.3C364.4 273.8 362.7 274.7 361.6 275.8C360.5 276.9 360.1 278.1 360.5 279.2C360.9 280.3 362.6 281.4 363.9 282.7C365.2 283.9 367.9 285.6 368.5 286.7C369.1 287.8 368.4 288.4 367.3 289.5C366.2 290.6 363.1 291.9 361.6 293.0C360.1 294.1 359.1 295.1 358.2 296.4C357.3 297.7 356.7 299.5 356.4 301.0C356.1 302.5 356.2 303.3 356.3 305.2C356.4 307.1 355.9 310.4 357.0 312.3C358.1 314.2 360.5 315.4 362.6 316.9C364.7 318.3 367.9 319.6 369.8 321.0C371.7 322.4 372.9 323.5 373.8 325.6C374.7 327.7 375.1 330.3 375.4 333.7C375.7 337.1 375.8 342.8 375.7 346.0C375.6 349.2 375.5 350.9 374.9 353.1C374.2 355.3 373.5 357.3 371.8 359.2C370.1 361.1 366.3 362.9 364.7 364.3C363.1 365.7 362.3 366.3 362.1 367.4C361.9 368.5 362.2 369.7 363.6 370.9C365.1 372.1 368.8 373.6 370.8 374.5C372.8 375.4 373.2 375.2 375.7 376.3C378.2 377.4 383.0 379.7 385.6 381.2C388.2 382.7 389.9 383.9 391.4 385.4C392.9 386.9 394.1 388.6 394.7 390.4C395.3 392.2 395.2 394.3 395.1 396.1C395.0 397.9 394.6 399.6 393.9 401.1C393.1 402.6 392.0 404.2 390.6 405.3C389.2 406.4 387.0 406.9 385.6 407.7C384.2 408.5 383.0 409.2 382.3 410.2C381.6 411.2 381.3 412.4 381.5 413.5C381.7 414.6 382.2 415.8 383.6 416.8C385.0 417.8 387.4 418.7 389.8 419.7C392.2 420.7 395.5 421.6 398.0 422.6C400.5 423.7 403.0 424.9 404.7 426.0C406.4 427.1 407.8 428.3 408.4 429.3C408.9 430.3 408.8 431.2 408.0 432.2C407.2 433.2 405.3 434.2 403.8 435.1C402.3 436.0 400.3 436.7 398.9 437.5C397.5 438.3 396.2 439.6 395.6 440.0" fill="none" stroke="#e5231c" stroke-width="1.8" stroke-linejoin="round"/><path d="M315.7 105.6l3 3-3 3-3-3z" fill="none" stroke="#f04040" stroke-width="0.9"/><path d="M395.6 438.6l2 3.3h-4z" fill="none" stroke="#c040c0" stroke-width="0.8"/><rect x="665.1" y="19.5" width="93.6" height="52.9" fill="#fff" stroke="#333" stroke-width="0.9"/><path d="M683.7 23.6l3 5h-6z" fill="none" stroke="#c040c0" stroke-width="0.9"/><path d="M683.7 36.2l2.4 3.5-2.4 3.5-2.4-3.5z" fill="none" stroke="#f03030" stroke-width="0.9"/><line x1="670.4" y1="51.6" x2="696.8" y2="51.6" stroke="#111" stroke-width="1.3"/><line x1="670.4" y1="64.7" x2="696.8" y2="64.7" stroke="#e8241e" stroke-width="2.2"/><text transform="translate(699.6,30.9) scale(0.9,1)" class="t4">Starting</text><text transform="translate(699.6,43.1) scale(0.9,1)" class="t4">Target</text><text transform="translate(699.6,56.1) scale(0.9,1)" class="t4">Basic ACO</text><text transform="translate(699.6,68.3) scale(0.9,1)" class="t4">Improved ACO</text><text x="3.6" y="22.2" class="lab">a</text>
<polyline points="119.0,518.0 162.1,664.7 205.1,677.9 248.2,708.3 291.2,728.6 334.3,734.7 377.3,746.9 420.4,760.1 463.4,764.2 506.5,767.2 549.5,781.9 592.6,780.9 635.6,781.9 678.7,781.9 721.7,782.9" fill="none" stroke="#111" stroke-width="1.5" stroke-linejoin="round"/><polyline points="119.0,586.5 162.1,969.2 205.1,952.5 248.2,945.4 291.2,938.8 334.3,932.2 377.3,932.2 420.4,930.6 463.4,927.6 506.5,927.6 549.5,927.6 592.6,927.6 635.6,927.6 678.7,927.6 721.7,927.6" fill="none" stroke="#e03a30" stroke-width="1.5" stroke-dasharray="12.5 8.5" stroke-linejoin="round"/><rect x="77.4" y="508.9" width="644.5" height="507.5" fill="none" stroke="#1a1a1a" stroke-width="1.3"/><line x1="77.4" y1="1016.4" x2="83.9" y2="1016.4" stroke="#1a1a1a" stroke-width="1.2"/><line x1="721.9" y1="1016.4" x2="715.4" y2="1016.4" stroke="#1a1a1a" stroke-width="1.2"/><text x="71.8" y="1022.9" class="t2" text-anchor="end">22</text><line x1="77.4" y1="965.6" x2="83.9" y2="965.6" stroke="#1a1a1a" stroke-width="1.2"/><line x1="721.9" y1="965.6" x2="715.4" y2="965.6" stroke="#1a1a1a" stroke-width="1.2"/><text x="71.8" y="972.1" class="t2" text-anchor="end">23</text><line x1="77.4" y1="914.9" x2="83.9" y2="914.9" stroke="#1a1a1a" stroke-width="1.2"/><line x1="721.9" y1="914.9" x2="715.4" y2="914.9" stroke="#1a1a1a" stroke-width="1.2"/><text x="71.8" y="921.4" class="t2" text-anchor="end">24</text><line x1="77.4" y1="864.1" x2="83.9" y2="864.1" stroke="#1a1a1a" stroke-width="1.2"/><line x1="721.9" y1="864.1" x2="715.4" y2="864.1" stroke="#1a1a1a" stroke-width="1.2"/><text x="71.8" y="870.6" class="t2" text-anchor="end">25</text><line x1="77.4" y1="813.4" x2="83.9" y2="813.4" stroke="#1a1a1a" stroke-width="1.2"/><line x1="721.9" y1="813.4" x2="715.4" y2="813.4" stroke="#1a1a1a" stroke-width="1.2"/><text x="71.8" y="819.9" class="t2" text-anchor="end">26</text><line x1="77.4" y1="762.6" x2="83.9" y2="762.6" stroke="#1a1a1a" stroke-width="1.2"/><line x1="721.9" y1="762.6" x2="715.4" y2="762.6" stroke="#1a1a1a" stroke-width="1.2"/><text x="71.8" y="769.1" class="t2" text-anchor="end">27</text><line x1="77.4" y1="711.9" x2="83.9" y2="711.9" stroke="#1a1a1a" stroke-width="1.2"/><line x1="721.9" y1="711.9" x2="715.4" y2="711.9" stroke="#1a1a1a" stroke-width="1.2"/><text x="71.8" y="718.4" class="t2" text-anchor="end">28</text><line x1="77.4" y1="661.1" x2="83.9" y2="661.1" stroke="#1a1a1a" stroke-width="1.2"/><line x1="721.9" y1="661.1" x2="715.4" y2="661.1" stroke="#1a1a1a" stroke-width="1.2"/><text x="71.8" y="667.6" class="t2" text-anchor="end">29</text><line x1="77.4" y1="610.4" x2="83.9" y2="610.4" stroke="#1a1a1a" stroke-width="1.2"/><line x1="721.9" y1="610.4" x2="715.4" y2="610.4" stroke="#1a1a1a" stroke-width="1.2"/><text x="71.8" y="616.9" class="t2" text-anchor="end">30</text><line x1="77.4" y1="559.6" x2="83.9" y2="559.6" stroke="#1a1a1a" stroke-width="1.2"/><line x1="721.9" y1="559.6" x2="715.4" y2="559.6" stroke="#1a1a1a" stroke-width="1.2"/><text x="71.8" y="566.1" class="t2" text-anchor="end">31</text><line x1="77.4" y1="508.9" x2="83.9" y2="508.9" stroke="#1a1a1a" stroke-width="1.2"/><line x1="721.9" y1="508.9" x2="715.4" y2="508.9" stroke="#1a1a1a" stroke-width="1.2"/><text x="71.8" y="515.4" class="t2" text-anchor="end">32</text><line x1="77.4" y1="1016.4" x2="77.4" y2="1009.9" stroke="#1a1a1a" stroke-width="1.2"/><line x1="77.4" y1="508.9" x2="77.4" y2="515.4" stroke="#1a1a1a" stroke-width="1.2"/><text x="77.4" y="1037.6" class="t2" text-anchor="middle">0</text><line x1="291.2" y1="1016.4" x2="291.2" y2="1009.9" stroke="#1a1a1a" stroke-width="1.2"/><line x1="291.2" y1="508.9" x2="291.2" y2="515.4" stroke="#1a1a1a" stroke-width="1.2"/><text x="291.2" y="1037.6" class="t2" text-anchor="middle">5</text><line x1="506.5" y1="1016.4" x2="506.5" y2="1009.9" stroke="#1a1a1a" stroke-width="1.2"/><line x1="506.5" y1="508.9" x2="506.5" y2="515.4" stroke="#1a1a1a" stroke-width="1.2"/><text x="506.5" y="1037.6" class="t2" text-anchor="middle">10</text><line x1="721.9" y1="1016.4" x2="721.9" y2="1009.9" stroke="#1a1a1a" stroke-width="1.2"/><line x1="721.9" y1="508.9" x2="721.9" y2="515.4" stroke="#1a1a1a" stroke-width="1.2"/><text x="721.9" y="1037.6" class="t2" text-anchor="middle">15</text><rect x="504.6" y="519.1" width="210.2" height="62.1" fill="#fff" stroke="#1a1a1a" stroke-width="1.2"/><line x1="514.2" y1="538.9" x2="573.4" y2="538.9" stroke="#111" stroke-width="1.5"/><line x1="514.2" y1="562.1" x2="573.4" y2="562.1" stroke="#e03a30" stroke-width="1.5" stroke-dasharray="12 9"/><text x="580.8" y="544.6" class="t2">Basic ACO</text><text x="580.8" y="567.8" class="t2">Improved ACO</text><text x="48.6" y="465.5" class="lab">b</text>
</svg></body></html>
